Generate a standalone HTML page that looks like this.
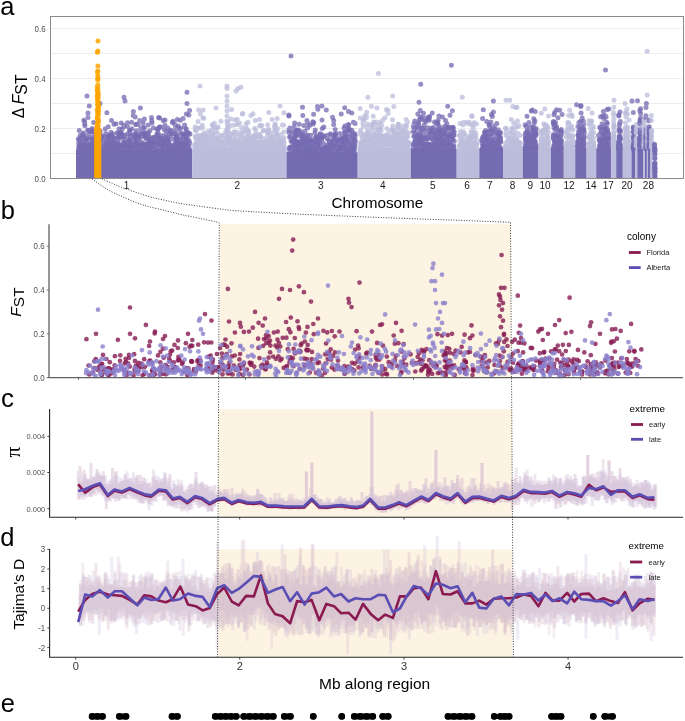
<!DOCTYPE html>
<html><head><meta charset="utf-8"><title>Figure</title>
<style>html,body{margin:0;padding:0;background:#fff;width:685px;height:721px;overflow:hidden}svg{display:block}</style>
</head><body>
<svg width="685" height="721" viewBox="0 0 685 721" font-family="'Liberation Sans', sans-serif">
<line x1="50.5" x2="683.5" y1="153.5" y2="153.5" stroke="#ebebeb" stroke-width="0.9"/>
<line x1="50.5" x2="683.5" y1="128.5" y2="128.5" stroke="#ebebeb" stroke-width="0.9"/>
<line x1="50.5" x2="683.5" y1="103.5" y2="103.5" stroke="#ebebeb" stroke-width="0.9"/>
<line x1="50.5" x2="683.5" y1="78.5" y2="78.5" stroke="#ebebeb" stroke-width="0.9"/>
<line x1="50.5" x2="683.5" y1="53.5" y2="53.5" stroke="#ebebeb" stroke-width="0.9"/>
<line x1="50.5" x2="683.5" y1="28.5" y2="28.5" stroke="#ebebeb" stroke-width="0.9"/>
<rect x="76.0" y="150.0" width="116.3" height="28.5" fill="#756bb1"/>
<path d="M164.3 129.6h0M158.6 117.6h0M145.9 134.5h0M94.6 149.2h0M162.5 147.4h0M97.4 148.9h0M144.3 133.2h0M108.0 137.7h0M126.6 148.0h0M169.7 130.8h0M88.5 147.6h0M100.6 147.2h0M184.0 146.9h0M84.8 123.8h0M103.4 147.1h0M179.5 146.3h0M109.7 145.4h0M118.7 132.3h0M137.9 136.1h0M155.6 141.9h0M130.4 144.7h0M161.3 138.3h0M180.8 147.9h0M156.2 147.4h0M157.9 150.1h0M121.2 133.9h0M140.4 108.0h0M158.3 133.5h0M119.1 128.7h0M89.8 149.0h0M139.8 150.6h0M169.4 134.3h0M144.2 145.5h0M180.6 143.4h0M123.9 125.2h0M148.1 145.9h0M96.8 145.9h0M143.2 123.0h0M111.8 139.5h0M102.3 150.0h0M135.5 137.7h0M150.3 146.1h0M174.4 150.3h0M151.8 145.8h0M187.7 144.3h0M140.0 131.5h0M82.7 135.3h0M95.1 145.0h0M87.0 96.0h0M83.4 133.0h0M123.5 144.9h0M130.3 146.0h0M175.7 144.5h0M133.2 115.6h0M102.3 135.9h0M179.6 144.5h0M100.9 145.6h0M135.0 136.1h0M92.7 145.8h0M112.2 146.0h0M108.6 145.4h0M180.0 146.4h0M151.0 144.3h0M160.8 149.2h0M144.7 137.2h0M136.3 130.8h0M123.8 126.5h0M114.3 144.1h0M141.8 148.2h0M153.4 128.1h0M135.2 117.0h0M119.9 148.8h0M162.4 150.7h0M99.2 130.8h0M92.9 141.5h0M160.2 139.3h0M78.8 146.1h0M174.7 144.5h0M116.0 123.8h0M111.5 135.8h0M139.7 146.4h0M105.0 143.8h0M85.7 144.7h0M177.2 144.8h0M123.5 144.6h0M177.3 119.5h0M100.9 144.7h0M158.4 128.6h0M112.1 139.5h0M131.9 128.7h0M134.9 146.5h0M163.6 139.9h0M135.2 143.3h0M83.2 137.9h0M149.3 146.0h0M118.9 131.3h0M86.7 148.9h0M129.1 150.8h0M93.4 149.9h0M121.4 146.6h0M158.2 137.2h0M147.6 144.2h0M149.4 147.7h0M115.4 149.2h0M143.4 147.5h0M111.0 148.0h0M133.4 111.5h0M183.2 146.7h0M90.9 132.1h0M186.4 114.0h0M164.0 141.6h0M180.8 128.2h0M176.3 137.6h0M188.0 145.0h0M78.3 139.1h0M122.8 146.1h0M148.9 147.2h0M153.9 141.5h0M154.7 137.8h0M108.8 144.3h0M121.6 146.5h0M82.1 149.0h0M126.9 148.2h0M187.0 139.6h0M138.8 149.5h0M169.1 148.2h0M115.1 144.0h0M148.3 125.1h0M84.7 121.7h0M167.9 139.9h0M129.9 140.1h0M100.7 140.4h0M116.9 144.4h0M149.4 149.8h0M146.9 133.2h0M96.3 151.1h0M153.9 142.0h0M92.5 139.2h0M82.9 149.6h0M136.3 143.0h0M127.9 143.9h0M178.6 149.6h0M90.8 145.2h0M115.3 147.8h0M163.2 120.4h0M169.0 134.1h0M143.0 127.5h0M165.6 148.7h0M114.0 147.9h0M122.1 146.0h0M83.5 148.3h0M181.4 150.5h0M87.4 144.9h0M165.8 144.3h0M83.9 137.6h0M179.9 145.6h0M145.8 145.2h0M118.3 136.8h0M160.7 146.3h0M104.0 145.9h0M84.9 143.9h0M134.7 134.8h0M122.8 136.5h0M125.9 142.5h0M142.1 150.3h0M96.8 144.3h0M85.4 149.2h0M156.3 144.7h0M141.9 133.9h0M172.4 122.5h0M80.5 146.0h0M160.5 150.1h0M162.1 140.7h0M144.2 144.4h0M175.4 134.0h0M156.8 151.0h0M143.0 149.0h0M140.8 128.2h0" stroke="#756bb1" stroke-width="5.00" stroke-linecap="round" fill="none" stroke-opacity="0.76"/><path d="M111.4 147.7h0M175.2 147.8h0M175.8 142.0h0M179.3 148.0h0M171.4 145.6h0M147.2 137.9h0M183.3 134.8h0M85.1 148.3h0M136.8 142.2h0M154.0 143.1h0M161.6 144.7h0M112.4 148.7h0M129.7 130.3h0M94.0 147.5h0M127.5 122.7h0M105.9 145.9h0M167.4 138.1h0M99.6 150.6h0M117.1 132.9h0M186.0 130.8h0M126.3 147.1h0M171.1 148.5h0M176.0 149.8h0M136.7 138.3h0M180.4 140.9h0M173.0 121.2h0M93.5 146.4h0M123.6 145.3h0M86.6 147.4h0M168.0 145.6h0M156.8 133.9h0M89.1 131.6h0M162.7 146.6h0M135.8 135.9h0M146.4 137.0h0M82.2 146.0h0M159.6 118.1h0M106.1 147.2h0M120.2 147.1h0M180.2 139.3h0M178.5 147.0h0M184.6 124.9h0M169.1 150.8h0M110.1 149.2h0M119.9 146.0h0M135.4 133.7h0M151.5 117.4h0M89.1 147.7h0M163.2 140.7h0M131.3 150.5h0M80.2 135.6h0M168.0 146.9h0M148.6 148.0h0M172.5 149.3h0M145.5 147.0h0M81.2 144.1h0M176.7 135.5h0M130.6 142.9h0M177.4 149.6h0M111.0 132.3h0M188.2 135.5h0M164.9 125.2h0M183.7 147.7h0M142.4 144.3h0M143.9 132.1h0M189.5 142.4h0M145.9 148.9h0M96.4 150.6h0M98.9 147.0h0M121.2 122.9h0M98.8 149.2h0M102.1 137.5h0M118.0 141.8h0M152.3 144.7h0M185.9 148.8h0M149.7 142.2h0M106.5 150.1h0M189.1 149.7h0M149.8 130.8h0M93.9 145.0h0M138.7 144.7h0M140.8 150.9h0M141.7 144.7h0M86.7 139.0h0M120.1 148.1h0M109.4 141.7h0M177.6 140.1h0M165.1 137.3h0M146.5 139.2h0M185.9 140.4h0M87.6 130.3h0M111.8 141.3h0M114.6 138.3h0M180.5 132.9h0M92.9 147.1h0M84.1 146.6h0M99.8 148.7h0M110.4 144.7h0M184.6 126.7h0M121.6 133.4h0M124.2 148.9h0M133.1 148.0h0M162.7 149.6h0M120.7 145.2h0M78.9 149.8h0M106.7 134.6h0M125.1 135.3h0M128.4 147.2h0M157.7 138.3h0M112.5 144.8h0M176.2 141.8h0M141.3 144.9h0M90.9 137.1h0M128.9 150.4h0M123.3 146.6h0M173.0 133.7h0M162.2 135.7h0M108.4 145.9h0M78.7 150.2h0M119.5 145.0h0M144.5 127.7h0M83.0 134.4h0M95.5 142.1h0M84.9 125.7h0M187.0 148.0h0M150.0 139.4h0M106.9 112.8h0M142.2 145.3h0M127.2 144.3h0M136.5 148.7h0M95.4 147.5h0M187.0 103.5h0M105.8 133.4h0M79.3 130.5h0M120.5 149.3h0M177.1 139.6h0M124.3 136.4h0M127.5 126.5h0M124.2 142.1h0M184.7 142.5h0M140.1 144.0h0M138.6 139.5h0M128.0 147.5h0M181.4 146.9h0M190.0 134.1h0M129.5 147.5h0M116.3 144.1h0M126.1 146.2h0M129.2 145.3h0M83.0 144.4h0M186.9 142.4h0M159.3 144.3h0M88.6 148.2h0M82.0 149.8h0M98.4 151.6h0M119.7 146.9h0M89.6 145.9h0M152.2 147.2h0M189.7 143.3h0M95.1 137.2h0M130.7 146.6h0M136.8 149.8h0M130.4 136.1h0M178.3 125.9h0M129.4 146.9h0M114.8 146.7h0M161.9 140.0h0M130.9 150.0h0M169.3 140.9h0M149.8 141.5h0M92.2 128.5h0M115.4 145.6h0M144.1 144.1h0M162.9 135.8h0M97.6 146.3h0M168.6 149.0h0M113.8 143.1h0M160.6 126.9h0" stroke="#756bb1" stroke-width="5.00" stroke-linecap="round" fill="none" stroke-opacity="0.76"/><path d="M82.6 142.4h0M145.1 147.6h0M87.4 142.6h0M125.0 101.0h0M157.2 129.0h0M172.2 146.4h0M134.0 137.6h0M148.5 134.1h0M81.2 150.3h0M142.3 136.1h0M152.3 142.7h0M172.7 146.1h0M178.2 138.7h0M148.6 148.7h0M106.6 150.7h0M185.6 136.2h0M94.5 149.1h0M122.4 146.0h0M163.2 144.2h0M91.3 145.4h0M121.6 134.9h0M188.8 133.4h0M97.7 150.6h0M120.7 146.3h0M83.2 150.6h0M109.8 135.2h0M146.8 137.4h0M93.0 146.9h0M94.8 139.6h0M146.4 148.0h0M113.0 134.0h0M184.5 145.2h0M120.8 134.1h0M92.0 132.1h0M106.3 142.2h0M180.9 147.4h0M148.4 132.6h0M167.6 139.8h0M108.0 136.6h0M88.0 112.9h0M174.0 139.2h0M168.1 137.4h0M162.8 147.1h0M92.3 142.0h0M150.6 144.4h0M153.4 147.1h0M168.2 150.1h0M141.3 134.4h0M175.0 145.5h0M107.5 138.8h0M93.8 145.4h0M183.3 147.0h0M112.5 142.4h0M182.6 141.5h0M181.3 148.3h0M170.6 136.8h0M89.3 106.1h0M128.5 139.1h0M169.6 150.1h0M101.4 140.6h0M159.6 142.8h0M152.0 122.9h0M99.9 134.4h0M160.3 145.2h0M135.7 124.5h0M104.7 137.0h0M139.5 137.4h0M128.3 149.9h0M102.3 148.3h0M163.3 148.0h0M111.5 120.4h0M153.4 145.6h0M105.0 142.0h0M143.9 144.8h0M103.6 138.0h0M99.8 147.3h0M169.5 145.3h0M87.3 146.4h0M180.6 139.3h0M127.5 133.9h0M180.9 146.0h0M79.6 141.2h0M155.0 145.3h0M171.1 132.8h0M178.6 139.8h0M95.0 150.3h0M122.1 129.3h0M104.4 149.2h0M99.8 150.9h0M171.8 130.4h0M158.9 142.1h0M139.7 138.1h0M92.7 149.6h0M135.0 148.3h0M147.5 144.4h0M163.7 140.9h0M87.2 146.8h0M124.4 139.1h0M162.8 144.9h0M139.2 148.1h0M139.7 120.6h0M188.9 115.0h0M178.5 143.6h0M118.6 136.9h0M96.7 148.5h0M136.6 150.8h0M149.6 140.3h0M136.5 145.7h0M141.4 150.2h0M182.9 139.9h0M81.9 149.3h0M151.8 142.9h0M130.7 148.8h0M188.9 140.6h0M117.8 147.7h0M99.0 134.0h0M183.4 150.2h0M151.7 138.1h0M189.7 150.0h0M92.0 148.8h0M136.2 141.2h0M100.9 147.5h0M130.5 145.2h0M184.9 148.8h0M131.4 149.7h0M113.2 148.7h0M88.0 140.3h0M106.9 144.9h0M184.3 141.3h0M89.0 148.0h0M78.7 142.9h0M169.4 145.9h0M109.3 144.1h0M110.0 134.9h0M119.6 145.7h0M86.9 145.5h0M138.4 144.3h0M163.8 142.8h0M93.8 150.5h0M177.3 136.8h0M144.8 145.3h0M156.0 148.0h0M93.0 143.6h0M184.2 134.6h0M85.2 143.5h0M145.1 135.8h0M83.9 145.6h0M177.1 149.8h0M85.9 142.3h0M105.9 139.5h0M127.2 144.5h0M78.8 148.5h0M92.5 139.0h0M88.0 117.5h0M166.9 139.2h0M81.6 146.4h0M181.5 147.7h0M120.4 136.7h0M96.3 139.4h0M170.4 146.7h0M183.9 147.4h0M115.3 144.2h0M100.4 147.4h0M175.2 147.5h0M113.3 144.0h0M95.5 150.8h0M92.4 131.1h0M109.4 150.1h0M108.4 144.1h0M157.2 144.0h0M159.4 127.0h0M114.4 145.5h0M163.6 140.9h0M114.8 138.4h0M161.0 150.9h0M118.8 135.8h0M113.0 149.0h0M170.1 145.7h0" stroke="#756bb1" stroke-width="5.00" stroke-linecap="round" fill="none" stroke-opacity="0.76"/><path d="M148.6 150.5h0M166.9 145.3h0M90.1 146.0h0M99.6 151.4h0M101.1 149.5h0M158.2 135.6h0M180.6 120.3h0M131.8 141.9h0M146.4 144.5h0M88.5 130.3h0M149.9 146.4h0M159.9 138.0h0M80.6 146.7h0M133.8 144.6h0M118.1 144.1h0M183.1 118.6h0M178.9 128.6h0M173.2 148.0h0M159.0 143.2h0M98.9 146.4h0M89.6 144.2h0M112.1 137.1h0M162.4 141.3h0M83.8 120.3h0M135.7 136.5h0M108.2 126.8h0M176.7 141.3h0M186.4 133.8h0M106.5 140.5h0M81.6 138.5h0M189.0 146.8h0M152.2 145.4h0M115.8 148.4h0M129.7 130.7h0M147.8 136.7h0M113.0 146.0h0M95.8 144.1h0M116.1 145.6h0M119.8 138.6h0M114.9 144.3h0M82.5 136.7h0M144.2 144.8h0M174.7 124.3h0M174.7 148.1h0M85.6 139.8h0M92.2 150.9h0M102.3 146.2h0M124.3 144.9h0M130.2 144.3h0M130.9 133.9h0M138.2 124.4h0M106.5 142.8h0M151.7 120.8h0M105.3 128.7h0M167.9 128.1h0M145.1 134.8h0M130.3 146.7h0M183.1 144.7h0M79.7 138.8h0M132.7 146.4h0M139.4 136.3h0M99.1 146.5h0M183.9 137.1h0M167.4 143.1h0M187.0 92.2h0M168.9 145.9h0M97.4 135.2h0M168.4 142.5h0M186.7 150.5h0M111.8 142.8h0M91.6 129.9h0M100.3 141.1h0M169.7 149.6h0M145.6 150.0h0M108.6 136.3h0M173.7 146.2h0M186.2 128.7h0M142.9 148.8h0M181.9 133.7h0M94.7 133.9h0M144.4 119.1h0M124.0 97.2h0M171.0 146.6h0M96.2 148.9h0M136.8 135.3h0M189.2 149.9h0M87.7 137.5h0M167.4 131.4h0M146.7 147.4h0M131.6 122.3h0M92.8 146.3h0M116.7 142.7h0M146.6 148.8h0M153.6 137.2h0M166.2 131.4h0M154.1 150.3h0M114.4 147.5h0M160.0 150.8h0M175.9 130.5h0M98.3 147.8h0M187.9 132.6h0M85.3 147.2h0M99.2 150.3h0M186.5 150.9h0M100.3 131.3h0M86.4 149.3h0M135.6 140.8h0M93.1 139.1h0M141.9 142.5h0M79.8 141.3h0M128.9 147.5h0M82.2 144.9h0M166.2 132.5h0M83.9 148.7h0M109.7 140.7h0M102.2 150.3h0M165.1 137.2h0M119.9 147.0h0M143.3 133.7h0M114.0 124.3h0M89.1 146.7h0M93.2 140.7h0M123.7 147.4h0M135.9 145.1h0M178.1 144.1h0M155.1 140.9h0M100.0 103.5h0M130.7 147.2h0M93.6 122.5h0M86.1 147.5h0M162.2 149.0h0M163.0 149.6h0M182.8 150.9h0M175.7 126.5h0M129.3 140.7h0M161.2 142.5h0M134.1 138.3h0M100.4 148.1h0M162.4 143.5h0M84.2 138.8h0M107.9 144.9h0M106.6 146.1h0M87.5 135.6h0M176.4 146.7h0M148.5 136.4h0M178.0 150.9h0M182.0 134.8h0M149.3 140.9h0M157.8 129.7h0M175.9 137.7h0M165.0 120.1h0M102.5 150.3h0M189.6 110.6h0M108.0 149.5h0M176.9 148.3h0M81.1 144.9h0M110.3 148.4h0M123.2 143.1h0M141.6 142.3h0M114.4 142.7h0M120.1 145.4h0M163.0 142.8h0M158.0 150.8h0M136.6 124.3h0M186.5 145.1h0M86.9 148.7h0M79.7 146.8h0M102.8 150.4h0M176.4 136.4h0M106.0 146.1h0M120.3 133.0h0M85.7 146.1h0M90.2 146.1h0M117.2 148.1h0M185.7 137.7h0M142.5 146.4h0M157.3 135.5h0" stroke="#756bb1" stroke-width="5.00" stroke-linecap="round" fill="none" stroke-opacity="0.76"/>
<rect x="192.3" y="147.8" width="94.2" height="30.8" fill="#bcbddc"/>
<path d="M222.6 136.1h0M273.2 139.1h0M203.4 136.8h0M283.4 148.1h0M237.3 144.7h0M235.0 119.7h0M214.1 141.9h0M218.5 142.7h0M195.3 130.2h0M204.5 137.8h0M233.1 148.1h0M234.9 141.9h0M241.1 148.0h0M221.2 141.7h0M231.8 145.3h0M198.0 143.3h0M202.4 125.2h0M255.6 137.0h0M271.4 141.4h0M270.9 140.0h0M239.1 144.2h0M238.7 148.1h0M271.7 143.9h0M200.5 113.9h0M212.6 146.6h0M258.7 135.2h0M258.0 144.0h0M242.0 138.3h0M253.1 139.6h0M261.4 147.1h0M238.1 145.6h0M199.0 148.4h0M277.2 118.4h0M239.6 140.8h0M257.8 145.4h0M211.0 130.4h0M230.7 137.9h0M284.0 141.6h0M233.1 136.7h0M227.3 137.8h0M275.4 139.7h0M200.5 145.7h0M257.7 147.1h0M204.9 142.6h0M213.5 142.9h0M207.9 131.9h0M256.2 134.4h0M273.2 141.1h0M248.0 147.3h0M198.2 127.9h0M205.5 147.4h0M215.1 148.7h0M254.0 148.2h0M223.6 147.2h0M203.2 138.8h0M235.8 144.3h0M195.8 138.1h0M273.9 143.0h0M234.7 147.7h0M221.6 143.9h0M247.9 142.2h0M207.4 131.7h0M254.9 142.3h0M278.5 145.1h0M202.9 117.9h0M204.2 133.0h0M252.5 140.2h0M252.2 143.1h0M217.3 147.4h0M257.8 148.3h0M216.3 138.7h0M253.9 143.0h0M236.3 131.9h0M195.5 136.5h0M205.3 148.4h0M253.2 136.2h0M196.4 144.2h0M246.8 138.6h0M279.1 143.9h0M250.7 144.7h0M263.3 147.6h0M264.4 146.7h0M263.8 147.8h0M240.2 143.1h0M237.8 132.5h0M277.3 136.7h0M259.1 143.2h0M228.4 126.0h0M274.6 127.0h0M258.3 135.1h0M255.3 120.5h0M281.3 144.8h0M269.7 138.0h0M216.2 137.9h0M274.0 145.6h0M205.5 136.1h0M260.7 136.8h0M244.7 147.3h0M276.2 144.3h0M250.4 142.2h0M261.1 144.9h0M212.6 124.7h0M264.6 142.6h0M245.9 126.9h0M240.6 142.9h0M271.5 147.3h0M236.2 142.0h0M278.9 139.5h0M248.5 131.0h0M246.1 123.8h0M218.5 143.4h0M212.6 135.6h0M201.2 142.9h0M212.7 132.4h0M276.6 131.4h0M242.7 143.1h0M267.6 131.0h0M279.7 142.3h0M207.3 139.9h0M267.8 144.0h0M198.0 135.4h0M212.1 145.5h0M200.0 86.0h0M207.3 148.1h0M260.4 144.3h0M233.9 136.0h0M227.0 121.0h0M230.9 119.1h0M242.7 113.6h0M278.4 143.0h0M248.6 141.1h0M202.5 139.2h0M263.2 148.4h0M213.9 127.7h0M225.2 148.5h0M283.2 147.5h0M228.1 129.5h0M238.5 133.3h0M275.9 130.3h0M199.0 138.3h0" stroke="#bcbddc" stroke-width="5.00" stroke-linecap="round" fill="none" stroke-opacity="0.76"/><path d="M225.0 145.6h0M238.1 123.4h0M210.4 147.1h0M213.4 138.0h0M202.3 145.6h0M257.8 137.7h0M219.0 144.7h0M267.3 148.6h0M227.7 132.9h0M284.0 144.3h0M199.1 143.8h0M266.1 141.6h0M249.6 144.1h0M234.4 139.1h0M273.6 146.7h0M195.3 136.7h0M237.3 119.6h0M250.8 141.7h0M241.2 136.4h0M217.4 141.8h0M200.2 140.1h0M253.7 142.1h0M216.8 138.2h0M271.2 145.7h0M277.0 134.0h0M219.6 137.7h0M205.9 140.9h0M223.6 145.7h0M260.4 139.1h0M283.4 145.6h0M228.8 137.1h0M198.1 121.4h0M245.1 144.8h0M273.3 146.9h0M204.5 143.9h0M255.5 130.5h0M281.9 138.6h0M229.5 136.2h0M211.0 136.7h0M205.7 135.2h0M199.9 142.5h0M195.2 127.0h0M257.6 140.4h0M228.2 136.4h0M239.7 148.3h0M268.6 129.3h0M204.1 142.2h0M201.3 135.5h0M226.2 142.2h0M198.7 138.8h0M263.9 146.5h0M234.0 146.9h0M216.7 146.9h0M239.5 123.1h0M253.4 147.2h0M230.9 141.8h0M222.7 144.5h0M260.5 142.7h0M213.2 139.9h0M230.6 125.6h0M237.6 145.8h0M227.8 142.1h0M246.9 145.3h0M261.1 145.2h0M208.2 145.8h0M267.6 134.7h0M283.8 132.0h0M205.7 146.6h0M232.3 147.4h0M262.9 144.4h0M254.5 139.8h0M246.0 140.0h0M242.3 135.5h0M227.0 88.5h0M263.1 145.1h0M232.5 144.1h0M267.9 143.7h0M281.4 145.9h0M256.6 148.2h0M270.3 139.3h0M259.9 134.3h0M200.9 136.9h0M228.6 143.5h0M280.7 148.9h0M264.0 143.3h0M231.9 133.5h0M254.5 135.9h0M210.6 140.8h0M227.0 101.0h0M223.1 144.4h0M196.6 142.3h0M260.8 137.3h0M241.7 142.7h0M240.3 149.0h0M236.0 91.0h0M225.6 141.6h0M214.8 141.4h0M208.0 142.6h0M233.6 125.2h0M263.6 130.7h0M216.3 138.7h0M227.3 123.4h0M280.1 145.9h0M283.9 112.8h0M257.2 146.4h0M240.4 147.2h0M260.4 144.4h0M224.2 148.0h0M260.6 125.6h0M260.5 148.0h0M270.9 143.9h0M205.2 134.7h0M267.2 144.0h0M198.7 110.0h0M209.9 131.7h0M251.0 142.9h0M256.7 138.5h0M197.5 146.1h0M283.8 137.4h0M254.9 144.9h0M194.8 145.4h0M198.5 144.3h0M227.7 122.1h0M215.5 140.0h0M242.4 113.9h0M274.9 125.2h0M246.4 139.7h0M230.1 146.9h0M237.5 145.7h0M212.8 137.7h0M251.8 138.0h0M205.4 142.0h0M269.5 139.5h0M273.2 147.3h0M261.2 148.9h0M248.0 135.7h0M236.4 144.9h0M232.8 140.8h0M266.3 140.0h0M213.4 140.7h0" stroke="#bcbddc" stroke-width="5.00" stroke-linecap="round" fill="none" stroke-opacity="0.76"/><path d="M254.4 148.3h0M244.4 131.6h0M241.3 145.1h0M258.9 149.3h0M243.3 147.6h0M222.8 144.8h0M254.7 128.3h0M201.9 142.5h0M263.0 148.1h0M250.9 141.9h0M235.7 143.1h0M231.6 109.6h0M227.0 86.0h0M224.6 135.2h0M213.6 145.9h0M194.8 144.4h0M221.2 143.4h0M202.4 128.1h0M250.8 148.1h0M264.8 138.6h0M241.7 144.4h0M222.3 143.1h0M245.7 138.7h0M210.6 145.5h0M249.2 142.4h0M258.7 145.0h0M216.7 145.8h0M268.6 131.3h0M241.3 135.1h0M227.0 116.0h0M205.5 137.7h0M213.3 135.0h0M250.9 115.5h0M265.3 146.0h0M209.3 138.5h0M269.9 132.5h0M275.5 129.3h0M234.1 131.7h0M283.7 125.0h0M203.8 118.3h0M202.9 145.4h0M227.1 129.3h0M244.0 142.6h0M258.2 145.7h0M211.0 138.6h0M216.6 145.6h0M266.7 142.9h0M215.5 147.1h0M227.2 135.2h0M281.6 148.4h0M250.4 143.4h0M267.6 124.8h0M214.2 146.0h0M230.2 134.6h0M282.4 125.0h0M208.5 136.4h0M222.1 135.3h0M197.0 144.8h0M244.7 146.4h0M237.3 124.4h0M238.7 136.8h0M272.2 141.9h0M208.3 142.1h0M277.5 128.4h0M209.0 140.6h0M251.5 138.3h0M277.8 143.3h0M269.9 134.0h0M213.8 127.0h0M232.6 144.1h0M223.7 141.9h0M269.3 142.4h0M214.5 147.2h0M243.0 143.7h0M257.0 149.5h0M261.1 149.4h0M260.4 148.0h0M259.5 119.6h0M280.3 148.4h0M281.2 146.1h0M265.4 146.7h0M200.5 136.8h0M264.0 146.5h0M196.8 140.4h0M263.4 130.4h0M238.0 88.5h0M228.2 132.5h0M211.8 142.7h0M251.0 145.8h0M200.9 148.4h0M262.4 143.1h0M270.3 145.9h0M271.8 136.0h0M251.2 146.8h0M226.5 143.5h0M275.2 146.0h0M236.7 135.3h0M270.8 143.5h0M244.1 145.6h0M220.9 121.3h0M237.8 141.9h0M217.8 140.2h0M274.5 144.9h0M208.7 138.7h0M196.3 146.0h0M225.6 144.6h0M237.7 141.0h0M229.4 138.0h0M215.8 131.3h0M222.7 141.9h0M276.4 144.1h0M229.2 140.9h0M198.5 136.5h0M273.2 143.8h0M249.0 134.8h0M247.9 138.0h0M259.7 125.7h0M255.1 147.0h0M194.7 146.1h0M258.0 143.5h0M213.9 147.4h0M250.1 148.6h0M228.1 138.0h0M253.5 148.0h0M282.9 147.2h0M259.0 136.1h0M218.3 148.2h0M216.4 144.5h0M256.4 136.4h0M209.8 143.4h0M200.4 128.0h0M268.5 145.6h0M202.4 136.4h0M261.8 125.4h0M246.7 128.9h0M203.4 141.5h0M214.4 123.3h0M280.8 143.8h0M248.1 122.3h0M218.1 126.9h0" stroke="#bcbddc" stroke-width="5.00" stroke-linecap="round" fill="none" stroke-opacity="0.76"/><path d="M246.2 143.3h0M274.1 131.4h0M259.0 141.9h0M198.5 142.0h0M274.9 144.6h0M196.0 146.5h0M240.0 142.6h0M248.9 146.4h0M204.5 146.3h0M280.6 134.7h0M224.0 148.0h0M276.1 144.5h0M267.9 143.1h0M242.1 130.9h0M253.0 147.5h0M251.6 141.2h0M254.4 135.4h0M239.4 144.9h0M241.6 127.5h0M227.8 144.7h0M272.0 139.4h0M224.7 139.0h0M251.2 143.9h0M280.0 106.1h0M247.4 137.9h0M204.7 145.7h0M199.2 137.1h0M217.3 127.8h0M196.3 130.9h0M238.7 142.8h0M275.2 124.1h0M275.3 145.0h0M280.0 146.2h0M204.9 137.8h0M227.0 111.0h0M279.6 143.3h0M229.0 143.0h0M284.0 146.5h0M275.4 144.5h0M279.5 145.0h0M283.4 139.9h0M243.6 148.1h0M218.1 146.9h0M200.8 136.5h0M248.3 148.3h0M256.8 143.2h0M218.8 138.3h0M278.7 136.0h0M271.7 147.5h0M231.4 142.1h0M241.0 87.2h0M247.1 146.8h0M212.2 141.3h0M216.0 108.0h0M246.2 140.9h0M283.0 139.6h0M259.8 143.2h0M265.1 146.9h0M276.1 142.7h0M263.1 144.2h0M244.1 131.5h0M272.3 136.3h0M210.6 137.4h0M237.6 146.1h0M243.7 145.1h0M251.1 142.7h0M227.5 126.8h0M224.4 142.3h0M277.6 141.7h0M253.0 113.8h0M247.1 146.8h0M236.3 140.9h0M202.6 134.7h0M240.9 141.9h0M199.0 138.5h0M240.1 148.2h0M217.9 142.2h0M204.8 138.6h0M223.4 141.8h0M227.0 106.0h0M258.4 142.7h0M267.8 132.6h0M272.1 119.4h0M237.1 145.7h0M203.1 110.1h0M246.6 138.2h0M226.8 139.7h0M262.1 142.0h0M260.3 149.2h0M267.7 144.5h0M271.8 141.4h0M258.3 146.7h0M196.0 129.0h0M204.1 140.9h0M227.0 96.0h0M274.9 141.3h0M206.6 144.8h0M247.0 136.5h0M262.1 144.0h0M278.3 138.8h0M243.4 146.9h0M277.2 145.3h0M220.3 145.0h0M234.7 140.7h0M230.6 146.7h0M241.1 146.4h0M217.7 133.5h0M273.9 148.4h0M225.6 131.8h0M253.9 140.5h0M283.2 147.7h0M257.0 135.8h0M200.0 147.7h0M250.7 144.5h0M269.1 144.8h0M230.6 141.0h0M254.9 148.3h0M230.9 147.1h0M276.0 135.5h0M248.8 132.1h0M201.4 142.7h0M219.3 141.0h0M196.5 143.5h0M226.9 129.7h0M245.1 146.4h0M211.1 148.7h0M229.7 138.7h0M281.4 147.6h0M214.3 147.0h0M237.6 145.2h0M206.5 142.6h0M241.1 142.6h0M211.6 147.0h0M212.3 125.2h0M282.1 147.7h0M268.8 112.5h0M220.5 143.9h0M235.5 144.5h0M224.2 145.0h0" stroke="#bcbddc" stroke-width="5.00" stroke-linecap="round" fill="none" stroke-opacity="0.76"/>
<rect x="286.5" y="152.2" width="71.2" height="26.2" fill="#756bb1"/>
<path d="M337.8 147.3h0M327.0 148.0h0M322.0 150.7h0M349.3 142.2h0M293.5 147.3h0M301.9 144.4h0M310.9 150.0h0M314.7 141.5h0M335.4 147.5h0M325.2 151.7h0M308.7 149.3h0M296.3 134.4h0M321.5 149.2h0M323.9 153.9h0M351.6 153.1h0M339.9 147.7h0M328.1 145.6h0M316.8 148.9h0M307.6 149.4h0M339.9 147.2h0M319.2 139.8h0M297.6 152.5h0M348.5 149.7h0M330.3 150.2h0M297.0 134.6h0M300.1 131.2h0M352.8 146.4h0M334.9 146.8h0M314.5 151.2h0M328.0 151.4h0M337.3 146.6h0M297.5 143.7h0M320.1 149.4h0M321.3 153.1h0M302.1 151.4h0M304.2 142.9h0M308.8 152.9h0M351.8 142.9h0M312.2 147.1h0M294.4 150.6h0M308.2 149.9h0M297.4 134.4h0M304.7 147.1h0M303.3 145.2h0M338.7 146.9h0M348.5 111.6h0M329.3 151.1h0M309.4 152.4h0M341.8 139.3h0M351.2 144.9h0M322.8 150.4h0M294.3 138.9h0M331.1 152.8h0M326.1 153.1h0M344.4 148.2h0M307.7 143.4h0M338.1 140.3h0M319.9 134.4h0M348.4 149.5h0M290.7 146.9h0M296.4 147.7h0M296.9 130.7h0M301.3 152.9h0M340.8 142.3h0M349.7 137.3h0M302.6 134.4h0M309.6 147.7h0M337.2 149.7h0M341.0 147.7h0M347.3 150.3h0M307.9 141.2h0M353.3 140.2h0M351.1 151.2h0M326.7 147.0h0M347.1 137.6h0M318.5 138.6h0M344.5 137.1h0M324.9 149.4h0M345.0 132.8h0M345.3 141.2h0M349.9 129.7h0M294.6 123.0h0M299.4 148.3h0M313.6 114.3h0M354.3 148.1h0M307.8 151.8h0M310.6 151.6h0M331.9 145.5h0M311.2 139.5h0M319.2 147.6h0M321.3 136.0h0M334.7 138.9h0M313.7 122.6h0M314.5 153.4h0M288.9 116.1h0M347.5 146.9h0M354.8 133.7h0M289.7 151.8h0M293.9 140.5h0M299.8 142.5h0M305.8 150.4h0M294.5 152.1h0M322.1 137.8h0M334.6 152.3h0M342.5 147.0h0M332.9 147.5h0M327.2 149.5h0M289.8 128.0h0M318.1 142.8h0M307.2 150.3h0M288.9 130.0h0M310.9 150.0h0M296.5 146.4h0M305.4 150.2h0M346.7 141.8h0M306.4 151.6h0M296.1 152.9h0M296.3 142.5h0M348.6 124.8h0M293.8 147.7h0" stroke="#756bb1" stroke-width="5.00" stroke-linecap="round" fill="none" stroke-opacity="0.76"/><path d="M344.3 135.2h0M299.4 153.0h0M291.0 56.0h0M304.4 152.4h0M303.4 149.2h0M326.8 147.7h0M294.8 148.7h0M343.1 139.9h0M353.7 147.0h0M327.2 135.3h0M307.6 138.3h0M342.8 145.9h0M346.5 139.8h0M305.9 149.8h0M288.9 115.1h0M341.2 114.1h0M310.8 149.0h0M351.8 113.0h0M327.4 139.1h0M301.9 152.9h0M333.8 145.9h0M313.0 152.2h0M319.2 152.2h0M300.9 144.8h0M327.3 150.9h0M297.2 142.9h0M319.1 149.1h0M316.0 142.7h0M318.9 140.2h0M310.8 155.6h0M289.0 132.4h0M337.1 151.0h0M348.5 152.9h0M297.6 147.2h0M313.5 147.8h0M345.9 150.7h0M304.4 142.6h0M320.0 143.7h0M341.2 146.6h0M355.4 140.6h0M344.9 132.4h0M311.1 155.5h0M292.8 141.1h0M315.8 142.0h0M311.1 153.1h0M349.9 152.0h0M348.3 124.8h0M310.5 135.3h0M325.8 148.4h0M345.0 149.2h0M308.2 149.9h0M295.8 151.1h0M311.5 154.4h0M346.6 148.4h0M344.7 107.7h0M355.0 143.1h0M303.0 149.4h0M326.3 110.1h0M334.3 135.1h0M299.6 150.1h0M347.5 140.5h0M299.6 143.1h0M335.2 143.7h0M318.0 149.8h0M316.1 144.6h0M321.2 151.6h0M333.7 124.4h0M352.5 132.7h0M289.0 148.4h0M298.9 143.9h0M315.2 152.7h0M331.2 146.0h0M307.2 142.1h0M340.2 148.5h0M325.9 151.5h0M319.6 154.4h0M337.6 140.6h0M314.8 145.6h0M322.0 119.9h0M345.6 135.4h0M327.8 148.4h0M312.4 153.4h0M304.9 142.4h0M329.7 141.6h0M347.8 130.5h0M316.8 146.4h0M311.6 140.9h0M289.6 147.4h0M329.5 147.0h0M350.9 144.8h0M322.3 128.5h0M330.1 149.9h0M354.4 150.1h0M350.7 150.6h0M289.6 137.0h0M305.3 147.7h0M330.3 149.3h0M314.9 133.0h0M333.7 120.4h0M332.8 135.5h0M323.3 149.5h0M307.4 141.4h0M345.0 126.1h0M329.1 150.1h0M291.0 140.4h0M298.2 151.7h0M346.9 125.4h0M324.2 147.7h0M343.0 145.8h0M309.5 153.1h0M297.3 130.3h0M346.3 149.1h0M315.6 138.1h0M294.4 144.8h0M305.3 140.2h0M302.8 138.8h0M296.5 149.6h0M329.7 135.5h0M309.3 143.2h0M311.7 149.4h0" stroke="#756bb1" stroke-width="5.00" stroke-linecap="round" fill="none" stroke-opacity="0.76"/><path d="M312.9 151.3h0M344.9 145.7h0M323.9 127.0h0M306.0 145.9h0M353.4 122.3h0M305.6 143.3h0M331.7 140.9h0M344.8 130.7h0M307.3 148.2h0M300.0 144.8h0M349.6 149.7h0M300.8 141.0h0M329.8 151.7h0M344.0 128.0h0M311.1 149.7h0M344.0 146.1h0M310.3 150.6h0M325.5 149.6h0M351.2 145.7h0M324.3 144.3h0M327.7 149.9h0M337.8 142.5h0M313.0 124.0h0M307.7 122.9h0M297.7 142.7h0M334.3 145.9h0M355.2 135.5h0M349.3 150.2h0M298.0 135.8h0M347.2 151.4h0M316.1 152.9h0M341.2 137.9h0M311.7 145.4h0M355.1 123.4h0M306.5 147.3h0M308.7 139.2h0M314.3 151.0h0M318.2 148.1h0M306.5 149.9h0M322.0 106.0h0M310.0 152.5h0M313.2 141.3h0M296.9 143.2h0M299.1 152.9h0M304.4 152.3h0M293.3 139.9h0M298.3 130.0h0M290.5 136.7h0M342.9 149.6h0M296.0 130.8h0M306.8 151.5h0M344.1 141.3h0M306.0 136.3h0M306.9 120.5h0M308.8 152.8h0M343.9 141.5h0M327.2 146.9h0M335.5 133.7h0M335.9 137.2h0M312.6 141.8h0M325.5 151.8h0M349.5 134.0h0M303.8 139.8h0M317.9 109.3h0M337.2 138.3h0M352.4 148.9h0M303.9 145.5h0M308.7 152.0h0M306.5 148.9h0M341.6 145.4h0M348.8 151.5h0M317.6 142.9h0M298.7 153.1h0M328.5 151.8h0M328.8 152.0h0M308.5 152.3h0M348.4 129.1h0M339.0 147.6h0M312.6 151.2h0M339.8 151.2h0M321.4 137.0h0M310.5 151.4h0M298.6 152.0h0M320.1 137.4h0M299.2 124.3h0M322.1 149.1h0M302.0 152.8h0M313.9 141.9h0M324.2 136.4h0M324.2 148.6h0M328.9 140.6h0M293.2 134.2h0M346.0 137.0h0M301.9 135.3h0M300.0 141.5h0M325.6 149.6h0M315.9 136.9h0M329.1 143.9h0M337.8 141.2h0M307.6 128.0h0M330.6 142.6h0M294.7 150.7h0M294.0 142.1h0M327.8 147.4h0M294.2 126.8h0M330.5 133.8h0M297.9 151.7h0M322.9 143.0h0M301.8 143.0h0M351.8 151.2h0M354.5 137.0h0M294.4 138.6h0M302.8 115.5h0M310.0 140.7h0M310.4 152.8h0M295.5 147.1h0M342.3 142.3h0M305.6 137.8h0M317.5 106.5h0M309.6 150.8h0" stroke="#756bb1" stroke-width="5.00" stroke-linecap="round" fill="none" stroke-opacity="0.76"/><path d="M295.5 150.0h0M354.6 141.8h0M309.6 148.1h0M301.0 133.6h0M323.0 135.4h0M310.3 149.9h0M304.7 131.3h0M341.4 139.2h0M332.0 144.2h0M348.9 129.4h0M309.0 147.2h0M294.1 153.2h0M339.2 146.5h0M301.8 137.4h0M333.3 139.8h0M347.8 142.6h0M346.7 140.3h0M305.4 148.0h0M297.1 144.3h0M292.9 131.5h0M333.1 148.4h0M292.8 142.5h0M302.2 151.8h0M300.6 143.2h0M314.4 144.4h0M326.9 150.5h0M332.5 146.0h0M291.7 152.9h0M301.7 152.3h0M296.5 140.9h0M335.2 129.5h0M315.5 153.7h0M302.4 150.3h0M352.0 136.7h0M347.3 146.3h0M314.4 154.8h0M354.1 137.5h0M332.8 145.0h0M295.7 134.7h0M307.5 134.9h0M347.6 144.6h0M321.2 133.9h0M318.1 148.7h0M310.2 149.4h0M347.3 143.3h0M322.3 152.8h0M313.6 149.6h0M312.9 143.4h0M342.7 141.8h0M293.1 149.7h0M291.9 142.1h0M343.1 151.4h0M310.0 125.3h0M324.8 148.5h0M322.1 151.9h0M332.5 149.0h0M352.2 146.3h0M298.9 146.3h0M335.9 151.4h0M306.8 150.6h0M321.7 135.9h0M316.7 147.2h0M328.4 148.7h0M293.1 145.0h0M294.5 137.8h0M324.9 149.9h0M304.0 138.7h0M353.9 150.9h0M331.4 149.0h0M314.8 153.0h0M351.9 130.3h0M312.8 121.7h0M295.5 152.0h0M352.0 140.2h0M331.8 153.0h0M318.3 148.4h0M290.1 148.1h0M316.2 155.1h0M293.0 146.7h0M294.0 142.7h0M336.1 141.4h0M307.0 148.7h0M317.3 146.4h0M342.7 151.2h0M348.9 149.9h0M321.7 139.3h0M355.0 145.7h0M320.3 133.7h0M340.1 151.1h0M303.0 152.4h0M316.8 154.0h0M333.7 148.7h0M303.9 125.6h0M311.9 142.3h0M334.2 137.4h0M304.3 152.8h0M316.9 136.7h0M332.5 117.3h0M321.2 151.6h0M335.5 134.0h0M353.9 143.9h0M311.8 151.5h0M314.7 149.9h0M315.2 129.9h0M344.2 150.9h0M350.0 152.9h0M302.5 107.2h0M346.0 139.7h0M304.8 151.3h0M320.4 138.8h0M353.0 142.6h0M298.9 149.2h0M347.7 151.2h0M344.2 146.6h0M339.9 133.5h0M354.1 143.4h0M308.1 146.4h0M330.0 147.0h0M319.4 147.2h0" stroke="#756bb1" stroke-width="5.00" stroke-linecap="round" fill="none" stroke-opacity="0.76"/>
<rect x="357.7" y="147.8" width="53.1" height="30.8" fill="#bcbddc"/>
<path d="M362.1 136.1h0M376.5 135.7h0M402.7 134.4h0M366.5 143.2h0M408.0 145.5h0M394.2 136.3h0M406.6 145.8h0M370.3 136.7h0M363.1 146.2h0M368.3 143.1h0M397.3 139.1h0M383.0 146.4h0M367.8 146.8h0M366.8 138.3h0M392.5 119.8h0M370.0 137.1h0M397.2 143.0h0M375.2 144.0h0M401.1 147.0h0M370.6 144.6h0M371.0 138.8h0M388.0 110.4h0M378.0 138.9h0M360.1 132.5h0M371.8 129.1h0M392.9 147.5h0M393.9 130.6h0M381.2 148.1h0M372.8 145.5h0M381.1 142.2h0M395.5 144.3h0M394.1 143.9h0M381.8 125.5h0M388.8 143.1h0M378.9 142.8h0M408.5 142.4h0M399.3 126.3h0M368.9 142.5h0M408.5 132.8h0M363.5 146.4h0M362.0 148.4h0M368.1 135.1h0M363.2 126.2h0M374.9 146.4h0M360.5 134.3h0M403.5 145.9h0M368.2 134.7h0M367.1 131.6h0M367.9 97.2h0M373.4 142.0h0M383.1 141.0h0M364.5 144.6h0M364.1 144.4h0M385.6 145.2h0M388.1 113.4h0M404.1 145.7h0M360.3 118.0h0M371.6 143.6h0M393.4 142.0h0M403.4 133.6h0M397.8 127.1h0M385.0 117.8h0M396.2 134.2h0M370.2 144.8h0M402.4 135.5h0M403.7 137.1h0M386.3 135.2h0M379.8 125.9h0M374.8 144.9h0M398.0 135.1h0M401.2 128.7h0M376.9 108.1h0M373.7 122.0h0M363.5 140.9h0M380.9 124.1h0M363.3 135.6h0M390.8 142.6h0M394.9 146.2h0M379.4 147.1h0M364.7 115.8h0M375.5 143.3h0M407.6 141.9h0M407.1 134.8h0M371.4 106.2h0" stroke="#bcbddc" stroke-width="5.00" stroke-linecap="round" fill="none" stroke-opacity="0.76"/><path d="M398.4 127.7h0M397.4 126.9h0M401.2 144.6h0M393.9 145.8h0M378.9 132.1h0M362.9 122.9h0M403.5 129.9h0M403.6 138.5h0M403.5 142.1h0M368.2 141.7h0M385.5 138.5h0M392.6 126.0h0M378.5 137.4h0M402.0 134.8h0M386.1 138.3h0M362.1 137.9h0M400.2 145.1h0M405.8 138.3h0M383.7 141.2h0M386.3 137.9h0M367.7 140.0h0M392.7 96.0h0M385.2 137.0h0M395.5 132.3h0M363.1 137.0h0M367.0 127.2h0M363.1 144.4h0M371.8 146.5h0M400.6 133.1h0M386.5 144.0h0M376.1 136.9h0M391.5 137.8h0M395.1 141.7h0M404.2 137.2h0M382.7 120.2h0M365.4 143.8h0M362.9 143.4h0M360.9 147.9h0M379.5 128.8h0M400.9 139.9h0M376.2 122.0h0M366.4 141.1h0M363.5 142.0h0M400.4 143.5h0M398.4 124.4h0M365.5 138.0h0M360.1 148.3h0M392.3 142.2h0M382.0 135.7h0M370.8 142.9h0M375.5 142.6h0M364.2 144.1h0M373.4 133.9h0M361.5 142.9h0M365.5 144.6h0M407.2 144.1h0M398.6 145.7h0M380.3 137.1h0M390.0 144.0h0M380.2 122.3h0M377.2 148.0h0M370.9 141.9h0M396.8 135.4h0M383.7 145.3h0M395.0 138.7h0M405.2 142.3h0M366.3 147.0h0M372.7 136.2h0M371.9 146.6h0M393.9 106.5h0M382.6 146.9h0M406.2 148.7h0M371.7 135.5h0M363.3 148.7h0M376.5 144.8h0M389.1 136.9h0M371.6 125.3h0M407.2 144.3h0M402.6 132.5h0M396.6 144.8h0M408.4 142.6h0M364.2 119.8h0M392.9 137.7h0M397.2 138.1h0" stroke="#bcbddc" stroke-width="5.00" stroke-linecap="round" fill="none" stroke-opacity="0.76"/><path d="M379.9 142.4h0M404.8 143.4h0M386.4 109.4h0M363.3 134.6h0M392.8 141.8h0M374.9 143.0h0M392.5 143.7h0M392.1 144.3h0M371.6 142.3h0M363.4 145.7h0M407.0 133.9h0M390.2 137.5h0M405.6 140.3h0M366.5 117.5h0M404.6 131.5h0M378.4 73.5h0M369.8 145.1h0M376.3 143.1h0M399.3 136.3h0M362.2 145.3h0M364.8 140.1h0M360.8 130.3h0M396.6 146.3h0M360.8 144.0h0M370.1 147.3h0M371.8 144.7h0M390.4 141.8h0M381.2 130.6h0M392.6 129.9h0M372.5 143.1h0M395.8 134.3h0M403.8 138.1h0M369.2 135.1h0M390.1 131.0h0M368.1 145.7h0M373.2 116.2h0M407.5 122.0h0M403.9 144.4h0M406.1 119.5h0M387.7 136.5h0M397.2 136.5h0M366.0 142.4h0M389.1 143.6h0M408.2 144.7h0M407.8 136.7h0M366.5 116.5h0M394.3 143.8h0M367.0 138.6h0M399.1 131.7h0M406.2 125.4h0M360.2 108.4h0M369.5 131.7h0M367.7 124.1h0M360.3 143.5h0M377.3 147.0h0M378.4 129.4h0M392.2 143.7h0M362.9 147.8h0M363.2 119.8h0M393.7 132.9h0M381.5 135.8h0M398.2 124.2h0M367.4 133.5h0M389.7 144.8h0M387.0 128.8h0M378.1 143.3h0M369.6 144.0h0M394.4 137.8h0M369.7 141.8h0M371.1 125.1h0M367.4 143.5h0M363.9 144.2h0M394.1 138.2h0M373.0 135.5h0M400.2 132.8h0M387.1 138.0h0M396.8 144.4h0M377.1 144.3h0M398.6 147.1h0M393.5 142.4h0M401.5 142.1h0M397.3 144.8h0M390.7 145.2h0M376.6 137.0h0" stroke="#bcbddc" stroke-width="5.00" stroke-linecap="round" fill="none" stroke-opacity="0.76"/><path d="M374.0 143.7h0M383.8 140.4h0M362.9 144.4h0M404.9 142.9h0M391.1 143.7h0M370.7 142.0h0M401.7 141.9h0M399.1 135.5h0M397.6 140.4h0M403.8 125.7h0M407.4 142.3h0M385.4 135.7h0M373.2 143.0h0M390.1 146.2h0M394.2 132.8h0M380.3 142.8h0M386.3 142.9h0M361.8 142.5h0M376.4 132.9h0M374.1 124.0h0M366.7 112.3h0M406.5 136.9h0M396.3 147.8h0M400.6 143.5h0M400.5 145.1h0M364.0 143.8h0M361.0 146.4h0M390.8 140.6h0M382.1 144.0h0M374.3 145.2h0M366.7 136.5h0M405.7 130.1h0M360.2 147.6h0M362.9 142.8h0M385.6 142.2h0M361.1 142.3h0M373.4 144.1h0M398.5 124.7h0M398.8 146.2h0M371.8 138.6h0M379.3 138.6h0M374.5 144.0h0M375.6 124.7h0M389.8 138.1h0M376.0 144.1h0M373.9 142.0h0M407.8 145.2h0M376.4 148.1h0M386.4 142.2h0M404.4 142.5h0M406.3 126.0h0M403.0 146.7h0M380.3 128.4h0M380.6 142.8h0M407.5 148.3h0M397.5 144.9h0M396.4 148.3h0M371.0 140.5h0M406.9 147.1h0M367.7 142.7h0M392.4 129.6h0M376.2 133.7h0M402.6 144.7h0M378.3 142.6h0M388.2 145.9h0M375.3 132.4h0M363.4 146.5h0M406.7 148.2h0M387.6 134.1h0M374.9 128.0h0M362.0 143.7h0M388.3 137.5h0M399.9 136.2h0M375.9 137.5h0M380.9 138.3h0M377.3 142.9h0M401.0 144.3h0M376.7 134.9h0M406.0 138.2h0M390.6 136.2h0M406.7 142.9h0M380.0 135.0h0M399.8 143.0h0M362.8 146.6h0" stroke="#bcbddc" stroke-width="5.00" stroke-linecap="round" fill="none" stroke-opacity="0.76"/>
<rect x="410.8" y="148.5" width="45.9" height="30.0" fill="#756bb1"/>
<path d="M434.4 131.2h0M415.8 143.5h0M423.2 139.2h0M434.9 148.9h0M425.9 143.3h0M426.9 146.8h0M423.5 139.3h0M445.9 127.3h0M422.4 136.8h0M422.0 147.8h0M437.8 123.7h0M426.1 139.8h0M432.7 129.7h0M419.7 134.9h0M420.4 132.6h0M435.6 136.3h0M429.4 148.1h0M420.3 110.6h0M419.5 134.0h0M420.2 116.9h0M427.8 145.6h0M416.3 127.0h0M454.2 131.8h0M441.0 146.3h0M439.2 142.7h0M419.7 127.0h0M417.7 148.8h0M423.1 145.0h0M423.7 149.2h0M444.3 139.4h0M447.5 145.0h0M431.2 137.2h0M442.8 145.5h0M439.5 128.1h0M430.6 134.9h0M413.1 131.6h0M419.7 138.0h0M428.2 145.4h0M436.2 123.2h0M431.3 146.8h0M418.5 134.1h0M442.7 127.6h0M446.7 128.4h0M432.1 138.9h0M448.6 137.3h0M435.3 134.7h0M444.2 134.3h0M427.9 145.4h0M437.4 139.5h0M440.3 148.5h0M441.7 138.9h0M414.1 130.8h0M414.8 120.9h0M425.4 136.4h0M414.4 128.8h0M442.5 144.1h0M419.0 102.2h0M422.8 141.7h0M453.0 139.6h0M418.7 122.9h0M439.3 141.2h0M433.9 132.9h0M429.4 116.9h0M451.4 148.2h0M453.3 128.0h0M453.9 146.9h0M427.5 144.1h0M433.2 146.6h0M452.6 146.6h0M432.6 137.0h0M450.7 136.4h0M426.1 121.4h0M433.3 130.8h0M441.0 141.6h0M442.1 131.9h0M423.1 148.0h0M421.7 141.4h0M435.1 147.1h0M444.5 147.1h0M438.9 116.1h0M445.1 126.3h0M436.6 131.2h0M424.3 134.8h0M416.8 135.7h0M444.3 133.8h0M419.7 133.8h0" stroke="#756bb1" stroke-width="5.00" stroke-linecap="round" fill="none" stroke-opacity="0.76"/><path d="M451.0 142.9h0M450.3 134.0h0M421.5 130.1h0M440.5 140.7h0M416.9 128.2h0M439.5 138.8h0M454.1 135.2h0M438.8 142.2h0M421.3 142.0h0M429.4 120.2h0M435.4 135.8h0M439.6 137.8h0M424.6 137.9h0M431.6 146.5h0M429.2 144.5h0M443.6 131.4h0M444.8 144.4h0M452.5 137.5h0M423.3 128.4h0M441.5 130.0h0M448.8 145.2h0M419.3 119.7h0M427.9 127.7h0M440.4 142.7h0M421.1 141.9h0M413.3 126.6h0M417.3 142.6h0M440.7 132.6h0M453.6 145.6h0M442.4 116.9h0M437.5 122.3h0M426.0 144.8h0M435.2 144.8h0M443.3 143.9h0M450.4 144.5h0M417.8 113.9h0M427.9 135.7h0M441.8 134.7h0M433.5 127.6h0M452.9 127.3h0M422.7 142.0h0M437.3 142.6h0M445.7 136.8h0M438.3 147.3h0M452.2 144.8h0M424.5 120.2h0M419.6 143.1h0M421.6 139.4h0M414.1 123.8h0M451.8 131.6h0M416.8 143.1h0M432.2 113.1h0M419.8 129.0h0M445.9 144.5h0M436.7 140.9h0M425.7 144.9h0M454.2 141.2h0M447.7 129.3h0M415.7 146.8h0M434.2 143.8h0M418.0 123.7h0M452.3 142.8h0M423.5 113.2h0M452.4 110.7h0M452.3 136.3h0M433.3 144.6h0M427.7 138.2h0M422.9 117.3h0M425.3 145.2h0M444.7 140.0h0M450.2 133.6h0M445.0 131.7h0M432.1 132.0h0M446.9 140.5h0M437.0 130.9h0M429.2 116.8h0M427.5 128.3h0M442.8 137.6h0M434.2 138.0h0M451.4 148.1h0M437.1 144.6h0M441.4 144.1h0M416.3 145.2h0M438.3 143.7h0M422.6 143.1h0M414.8 141.6h0" stroke="#756bb1" stroke-width="5.00" stroke-linecap="round" fill="none" stroke-opacity="0.76"/><path d="M450.3 137.1h0M450.1 148.7h0M423.2 148.4h0M438.8 135.5h0M444.9 133.5h0M439.6 137.8h0M420.7 142.4h0M420.6 149.1h0M425.9 148.9h0M415.4 140.8h0M440.4 140.3h0M449.2 146.2h0M451.9 137.7h0M431.1 145.8h0M425.5 148.9h0M439.9 130.1h0M445.0 145.1h0M431.9 139.3h0M434.1 133.7h0M432.6 147.3h0M431.2 128.2h0M443.4 147.1h0M429.9 132.4h0M421.4 143.8h0M429.6 148.3h0M434.4 144.5h0M442.4 143.7h0M422.6 144.9h0M418.8 135.9h0M425.6 148.1h0M437.6 129.3h0M438.5 125.4h0M413.6 145.8h0M444.9 141.1h0M422.3 144.9h0M438.3 139.7h0M433.7 142.7h0M445.4 120.3h0M446.1 145.7h0M436.6 142.1h0M451.0 136.3h0M418.1 148.0h0M430.1 144.5h0M420.2 135.5h0M413.3 147.2h0M419.1 143.5h0M434.5 121.9h0M418.5 141.2h0M432.5 146.2h0M449.3 127.4h0M434.1 136.8h0M444.1 145.0h0M452.6 146.2h0M440.0 136.9h0M437.2 133.6h0M441.0 142.9h0M429.7 145.2h0M413.8 147.6h0M435.4 134.7h0M447.7 135.9h0M418.0 136.0h0M448.7 142.6h0M444.6 149.1h0M425.8 144.8h0M427.8 149.5h0M445.1 142.6h0M449.9 141.6h0M417.9 139.6h0M427.3 138.8h0M448.7 148.6h0M427.7 143.9h0M448.0 148.5h0M439.7 136.8h0M436.3 146.7h0M420.3 139.1h0M444.4 143.1h0M414.6 144.3h0M427.5 148.9h0M431.8 137.2h0M414.3 136.5h0M443.4 146.6h0M439.0 142.1h0M428.2 119.0h0M451.5 139.5h0M434.5 146.1h0M443.3 146.9h0" stroke="#756bb1" stroke-width="5.00" stroke-linecap="round" fill="none" stroke-opacity="0.76"/><path d="M413.9 136.2h0M439.4 137.3h0M425.4 148.8h0M423.2 127.6h0M429.8 130.9h0M413.1 144.0h0M417.2 142.8h0M441.0 142.8h0M415.8 139.6h0M453.5 134.8h0M447.8 144.9h0M448.0 141.6h0M441.1 143.8h0M447.2 149.1h0M452.2 128.0h0M445.3 145.0h0M418.0 139.1h0M423.3 137.4h0M418.1 136.0h0M442.8 134.6h0M442.0 132.3h0M436.4 142.6h0M442.7 145.3h0M452.2 135.3h0M451.4 65.2h0M418.2 141.3h0M439.5 133.1h0M442.0 138.4h0M427.7 145.2h0M427.4 117.7h0M447.1 126.9h0M438.6 139.1h0M447.9 149.4h0M448.2 141.4h0M421.8 139.3h0M422.7 147.2h0M414.8 132.7h0M420.7 84.2h0M453.2 131.3h0M450.9 134.2h0M447.7 106.2h0M422.4 148.8h0M423.5 144.9h0M448.2 148.8h0M424.9 145.6h0M429.7 148.5h0M436.5 138.1h0M450.9 127.7h0M446.9 123.8h0M444.5 144.7h0M421.9 148.1h0M449.7 145.6h0M445.1 128.9h0M440.2 132.1h0M436.5 144.9h0M420.7 144.5h0M421.7 136.7h0M439.0 142.5h0M424.9 130.8h0M441.5 135.2h0M418.3 143.3h0M442.3 146.2h0M444.6 142.4h0M450.0 115.2h0M420.4 136.0h0M447.7 134.3h0M436.6 148.5h0M431.4 145.8h0M440.3 143.8h0M417.6 139.0h0M417.3 133.9h0M450.7 145.0h0M432.4 145.5h0M440.1 145.3h0M448.8 136.3h0M453.4 149.4h0M421.1 137.1h0M422.9 130.1h0M439.1 144.0h0M413.8 143.5h0M429.1 132.0h0M434.4 143.5h0M424.2 125.1h0M438.2 120.2h0M421.6 119.2h0" stroke="#756bb1" stroke-width="5.00" stroke-linecap="round" fill="none" stroke-opacity="0.76"/>
<rect x="456.7" y="149.2" width="22.6" height="29.2" fill="#bcbddc"/>
<path d="M465.3 141.9h0M462.9 125.1h0M476.5 144.9h0M474.7 144.6h0M470.8 139.5h0M466.4 146.4h0M464.6 123.5h0M463.0 145.3h0M463.3 131.8h0M472.0 145.3h0M465.9 144.1h0M462.9 146.4h0M474.2 144.2h0M469.2 138.9h0M467.6 146.6h0M469.1 148.5h0M470.3 142.6h0M472.5 135.5h0M473.9 145.3h0M471.7 115.7h0M470.5 138.2h0M462.2 139.0h0M467.1 143.1h0M469.4 142.5h0M476.5 139.2h0M462.3 137.1h0M471.2 142.0h0M472.6 125.1h0M459.8 145.6h0M465.0 135.5h0M476.5 143.3h0M463.4 122.4h0M468.3 148.8h0" stroke="#bcbddc" stroke-width="5.00" stroke-linecap="round" fill="none" stroke-opacity="0.76"/><path d="M471.0 131.8h0M473.8 142.7h0M470.3 139.2h0M469.4 124.1h0M462.9 144.0h0M462.0 147.0h0M460.1 123.6h0M468.3 145.0h0M464.5 133.8h0M475.7 133.0h0M460.2 144.5h0M471.5 132.1h0M462.0 147.8h0M475.9 149.6h0M469.1 143.2h0M476.3 143.6h0M472.2 116.6h0M464.4 146.7h0M474.8 136.9h0M474.9 136.6h0M473.7 144.4h0M467.7 143.7h0M473.0 143.8h0M462.2 97.2h0M462.5 142.9h0M470.0 141.1h0M470.7 144.7h0M472.5 143.9h0M476.6 144.2h0M474.2 122.4h0M462.2 145.9h0M459.9 148.4h0M470.3 144.9h0" stroke="#bcbddc" stroke-width="5.00" stroke-linecap="round" fill="none" stroke-opacity="0.76"/><path d="M464.4 148.2h0M476.8 148.9h0M476.6 123.9h0M464.9 144.9h0M470.1 147.0h0M462.7 144.5h0M466.0 122.5h0M460.7 147.2h0M460.4 135.4h0M462.0 143.7h0M468.8 137.9h0M472.6 143.4h0M459.9 140.6h0M469.2 147.0h0M473.8 140.8h0M461.1 144.8h0M472.3 149.4h0M473.6 137.6h0M468.4 143.6h0M466.9 145.5h0M476.6 143.7h0M469.6 144.5h0M465.9 145.1h0M467.7 149.7h0M474.0 139.7h0M468.2 146.7h0M462.0 145.7h0M471.5 149.5h0M462.9 144.5h0M475.8 135.3h0M460.5 131.6h0M475.0 145.0h0M469.7 136.3h0" stroke="#bcbddc" stroke-width="5.00" stroke-linecap="round" fill="none" stroke-opacity="0.76"/><path d="M466.6 146.4h0M464.7 143.7h0M462.1 142.4h0M466.0 150.2h0M469.2 145.5h0M473.1 127.5h0M464.7 139.7h0M461.6 144.9h0M472.8 145.4h0M471.7 134.4h0M464.3 143.1h0M466.0 141.5h0M471.1 135.4h0M473.7 130.8h0M476.7 143.9h0M470.4 148.5h0M463.0 143.3h0M471.3 134.9h0M468.1 144.8h0M469.5 144.4h0M464.0 148.2h0M465.6 148.9h0M462.9 150.0h0M469.1 122.1h0M459.2 145.6h0M461.9 138.4h0M465.2 145.5h0M475.1 145.1h0M474.6 149.9h0M459.2 135.4h0M475.6 144.0h0M469.3 137.0h0" stroke="#bcbddc" stroke-width="5.00" stroke-linecap="round" fill="none" stroke-opacity="0.76"/>
<rect x="479.3" y="147.8" width="23.7" height="30.8" fill="#756bb1"/>
<path d="M492.1 132.7h0M483.7 145.0h0M495.1 148.3h0M485.5 134.3h0M488.3 148.4h0M496.8 123.5h0M489.1 130.8h0M497.3 143.6h0M486.5 147.3h0M499.5 147.3h0M484.5 132.2h0M498.1 144.5h0M496.4 139.4h0M500.4 138.7h0M484.1 147.2h0M487.0 147.2h0M497.8 146.5h0M497.1 133.9h0M490.1 146.2h0M494.9 139.5h0M493.9 142.3h0M490.8 122.1h0M486.8 140.6h0M496.3 142.1h0M491.5 114.4h0M482.5 148.0h0M484.6 142.0h0M489.0 146.9h0M500.6 141.7h0M493.3 128.5h0M496.4 143.2h0M494.6 125.7h0M495.4 141.1h0M500.3 148.4h0M484.6 146.5h0M494.6 144.6h0M491.1 133.7h0M499.7 132.8h0" stroke="#756bb1" stroke-width="5.00" stroke-linecap="round" fill="none" stroke-opacity="0.76"/><path d="M482.5 137.4h0M493.7 147.0h0M492.3 116.5h0M484.3 146.7h0M488.8 136.5h0M500.1 137.7h0M483.1 146.8h0M487.6 148.0h0M494.8 148.4h0M491.3 143.4h0M495.0 144.0h0M489.8 125.8h0M486.7 147.1h0M486.7 121.4h0M499.2 135.0h0M492.4 140.6h0M491.6 143.3h0M483.4 145.9h0M486.6 145.7h0M485.4 136.4h0M494.3 145.7h0M489.3 125.7h0M500.2 148.2h0M498.4 141.9h0M492.4 147.5h0M492.6 146.0h0M488.2 140.1h0M489.0 146.9h0M483.6 146.4h0M490.7 144.7h0M486.6 145.8h0M489.3 144.7h0M495.1 142.6h0M493.4 112.0h0M487.4 145.3h0M488.0 145.9h0M491.4 144.0h0" stroke="#756bb1" stroke-width="5.00" stroke-linecap="round" fill="none" stroke-opacity="0.76"/><path d="M492.7 136.8h0M484.7 143.8h0M498.5 138.7h0M493.5 143.3h0M487.5 148.7h0M490.5 148.6h0M483.3 109.7h0M488.0 146.2h0M493.1 145.5h0M486.7 140.6h0M492.4 136.5h0M498.6 142.0h0M492.7 147.0h0M487.4 143.3h0M496.6 137.0h0M500.1 138.1h0M497.1 142.8h0M484.5 145.2h0M493.5 132.1h0M499.7 138.7h0M496.0 145.1h0M498.6 137.7h0M498.2 129.7h0M497.8 134.8h0M494.8 143.9h0M485.1 135.0h0M489.1 124.7h0M490.2 130.4h0M492.2 138.6h0M489.5 133.1h0M481.6 140.5h0M497.1 143.5h0M485.4 132.6h0M483.6 146.1h0M489.6 143.0h0M485.2 137.7h0M500.7 141.2h0" stroke="#756bb1" stroke-width="5.00" stroke-linecap="round" fill="none" stroke-opacity="0.76"/><path d="M492.5 143.9h0M492.5 146.3h0M499.5 142.0h0M482.6 118.5h0M491.2 140.1h0M482.8 139.2h0M488.8 148.2h0M499.8 135.4h0M482.2 142.5h0M496.4 143.3h0M494.4 142.6h0M482.2 143.7h0M499.9 136.4h0M498.7 143.5h0M483.5 136.1h0M482.8 143.5h0M499.2 146.6h0M493.1 143.6h0M484.3 148.0h0M486.1 138.7h0M485.1 132.9h0M488.5 144.7h0M493.4 144.3h0M485.6 130.5h0M482.9 142.0h0M491.8 147.8h0M490.1 145.7h0M499.3 145.5h0M493.4 101.0h0M490.3 146.5h0M500.5 132.5h0M494.6 128.9h0M492.7 144.1h0M487.4 136.8h0M496.8 132.4h0M492.3 129.3h0M500.1 148.1h0" stroke="#756bb1" stroke-width="5.00" stroke-linecap="round" fill="none" stroke-opacity="0.76"/>
<rect x="503.0" y="149.0" width="19.8" height="29.5" fill="#bcbddc"/>
<path d="M505.3 143.2h0M505.9 135.5h0M512.4 142.0h0M507.0 147.8h0M514.6 149.4h0M506.0 149.7h0M506.3 143.0h0M505.8 128.1h0M505.4 128.4h0M519.4 149.8h0M507.3 146.6h0M514.4 147.1h0M520.2 148.0h0M508.4 146.8h0M510.9 147.9h0M515.6 145.0h0M511.1 137.5h0M516.7 138.3h0M515.9 107.5h0M511.7 147.8h0M508.6 138.4h0M520.3 143.1h0M509.0 149.3h0M518.1 148.8h0M516.0 146.7h0M516.2 148.8h0M513.1 135.1h0M506.0 144.2h0M519.9 146.3h0M508.9 146.3h0M509.4 138.0h0" stroke="#bcbddc" stroke-width="5.00" stroke-linecap="round" fill="none" stroke-opacity="0.76"/><path d="M514.5 146.7h0M506.0 100.2h0M511.3 131.8h0M509.4 149.6h0M513.2 140.9h0M513.5 127.9h0M507.1 141.3h0M519.8 146.8h0M520.2 143.2h0M518.3 146.6h0M514.8 144.7h0M514.0 148.1h0M518.3 144.3h0M511.8 149.0h0M512.1 143.9h0M517.5 147.9h0M515.8 151.1h0M507.5 149.8h0M513.1 144.7h0M513.4 148.7h0M511.3 119.5h0M513.8 123.1h0M514.6 147.5h0M511.1 145.0h0M513.0 128.0h0M517.0 127.2h0M517.0 144.0h0M517.0 107.2h0M511.1 139.4h0M520.5 148.3h0" stroke="#bcbddc" stroke-width="5.00" stroke-linecap="round" fill="none" stroke-opacity="0.76"/><path d="M513.3 151.7h0M513.9 148.7h0M517.4 120.9h0M514.5 138.3h0M516.7 148.7h0M505.8 149.9h0M516.0 146.2h0M518.9 125.7h0M512.0 139.9h0M510.3 148.8h0M515.8 146.6h0M509.8 100.2h0M517.2 148.2h0M511.1 142.4h0M514.3 145.7h0M506.5 128.9h0M517.2 125.7h0M505.4 147.1h0M513.4 150.2h0M513.0 147.8h0M516.0 148.5h0M513.4 148.5h0M516.2 149.6h0M509.2 139.0h0M512.8 106.5h0M517.1 140.5h0M515.0 135.7h0M518.9 148.7h0M505.9 133.1h0M516.1 144.9h0" stroke="#bcbddc" stroke-width="5.00" stroke-linecap="round" fill="none" stroke-opacity="0.76"/><path d="M511.8 128.2h0M505.4 147.1h0M509.9 150.1h0M515.2 132.2h0M518.4 133.6h0M517.2 140.9h0M509.9 144.0h0M514.3 143.4h0M513.5 144.4h0M518.7 149.2h0M519.9 135.4h0M514.4 144.6h0M509.9 143.7h0M508.6 137.0h0M509.4 146.9h0M517.9 149.4h0M509.7 139.0h0M519.4 142.6h0M515.3 149.7h0M510.9 149.9h0M506.5 147.5h0M516.0 144.3h0M508.1 146.4h0M509.5 147.2h0M510.0 132.7h0M514.2 149.4h0M516.4 144.7h0M514.3 148.8h0M515.7 148.0h0M518.3 150.2h0" stroke="#bcbddc" stroke-width="5.00" stroke-linecap="round" fill="none" stroke-opacity="0.76"/>
<rect x="522.8" y="146.0" width="15.7" height="32.5" fill="#756bb1"/>
<path d="M526.2 126.4h0M529.7 136.8h0M525.5 137.5h0M531.1 136.0h0M536.0 145.7h0M527.1 140.2h0M528.9 145.1h0M529.8 141.2h0M526.3 144.7h0M529.7 141.8h0M534.0 141.6h0M533.3 140.3h0M527.4 133.1h0M525.9 139.1h0M527.0 116.3h0M535.8 146.3h0M531.1 144.0h0M533.0 134.7h0M536.2 133.9h0M525.8 143.8h0M525.6 132.8h0M533.2 130.3h0M532.6 145.0h0M534.4 142.5h0" stroke="#756bb1" stroke-width="5.00" stroke-linecap="round" fill="none" stroke-opacity="0.76"/><path d="M536.0 130.0h0M525.8 141.2h0M534.4 135.1h0M533.8 118.7h0M531.3 111.0h0M534.1 128.6h0M535.0 135.6h0M531.7 140.4h0M528.6 135.8h0M525.2 124.8h0M533.1 127.1h0M534.1 123.2h0M532.3 146.9h0M526.4 138.3h0M529.7 136.8h0M534.1 137.9h0M528.0 141.8h0M532.0 145.0h0M525.5 145.0h0M534.7 142.0h0M526.7 140.9h0M527.2 131.4h0M535.3 134.9h0" stroke="#756bb1" stroke-width="5.00" stroke-linecap="round" fill="none" stroke-opacity="0.76"/><path d="M532.5 141.5h0M531.8 142.1h0M530.3 126.9h0M532.4 110.0h0M525.4 139.5h0M533.4 135.3h0M527.4 130.6h0M530.0 131.0h0M534.7 142.9h0M530.8 145.8h0M535.3 141.3h0M530.3 140.9h0M530.3 137.7h0M528.4 139.1h0M533.1 136.1h0M535.7 132.5h0M528.7 140.6h0M532.3 145.3h0M533.6 130.3h0M530.7 141.2h0M528.6 135.1h0M532.2 143.9h0M535.2 111.5h0" stroke="#756bb1" stroke-width="5.00" stroke-linecap="round" fill="none" stroke-opacity="0.76"/><path d="M528.9 122.6h0M527.7 142.9h0M532.7 135.9h0M525.1 135.1h0M527.9 142.7h0M527.3 144.9h0M528.6 144.8h0M534.9 121.0h0M533.9 140.6h0M531.2 135.4h0M535.3 144.6h0M536.0 144.8h0M533.6 127.5h0M526.6 146.4h0M536.0 128.6h0M527.4 134.5h0M535.4 136.1h0M532.9 133.1h0M527.9 141.8h0M535.7 134.2h0M533.9 140.7h0M535.2 143.7h0M528.3 143.5h0" stroke="#756bb1" stroke-width="5.00" stroke-linecap="round" fill="none" stroke-opacity="0.76"/>
<rect x="538.5" y="147.8" width="12.4" height="30.8" fill="#bcbddc"/>
<path d="M547.3 143.4h0M543.8 123.7h0M547.2 148.4h0M548.6 142.3h0M544.9 142.1h0M542.8 142.1h0M546.9 141.5h0M544.0 147.8h0M541.2 146.9h0M547.9 137.3h0M545.8 128.7h0M543.6 142.2h0M541.2 131.6h0M541.2 140.7h0M547.0 132.9h0M543.1 139.5h0M540.9 144.3h0M544.7 139.8h0M542.3 140.3h0M544.8 132.9h0" stroke="#bcbddc" stroke-width="5.00" stroke-linecap="round" fill="none" stroke-opacity="0.76"/><path d="M548.0 144.2h0M540.9 133.8h0M545.7 146.6h0M546.2 147.6h0M542.1 140.8h0M545.7 147.0h0M546.3 149.3h0M541.0 138.4h0M545.7 145.3h0M545.7 146.0h0M544.1 146.0h0M544.6 125.6h0M543.8 143.1h0M541.1 137.2h0M544.5 148.7h0M545.1 130.1h0M542.4 143.0h0M545.7 143.9h0M546.2 128.9h0M541.5 148.2h0" stroke="#bcbddc" stroke-width="5.00" stroke-linecap="round" fill="none" stroke-opacity="0.76"/><path d="M546.5 145.8h0M545.3 143.5h0M543.9 144.2h0M548.1 145.8h0M541.3 113.3h0M540.8 144.2h0M547.4 147.3h0M543.3 130.2h0M547.8 137.2h0M548.5 116.0h0M546.0 130.7h0M547.9 127.8h0M546.1 144.3h0M548.3 140.5h0M546.3 125.1h0M543.4 148.5h0M548.2 149.2h0M548.4 131.9h0M543.8 144.1h0" stroke="#bcbddc" stroke-width="5.00" stroke-linecap="round" fill="none" stroke-opacity="0.76"/><path d="M541.3 131.6h0M542.5 141.9h0M544.8 109.0h0M541.5 143.1h0M544.4 145.8h0M546.9 148.2h0M544.0 142.2h0M542.8 133.1h0M548.3 148.9h0M545.8 146.6h0M545.3 139.7h0M541.4 145.8h0M547.4 126.8h0M544.5 129.4h0M547.1 135.6h0M543.0 137.2h0M547.0 142.6h0M546.7 144.4h0M546.8 145.3h0" stroke="#bcbddc" stroke-width="5.00" stroke-linecap="round" fill="none" stroke-opacity="0.76"/>
<rect x="550.9" y="147.8" width="12.9" height="30.8" fill="#756bb1"/>
<path d="M559.6 137.4h0M556.6 134.9h0M555.4 145.6h0M558.3 131.2h0M560.2 143.0h0M556.4 126.4h0M559.3 146.3h0M558.0 142.4h0M560.8 142.7h0M561.2 129.6h0M554.9 136.0h0M559.0 146.2h0M561.5 147.4h0M554.8 146.3h0M554.5 142.1h0M553.8 124.0h0M553.5 138.1h0M560.6 141.2h0M554.6 112.4h0M554.5 125.1h0M553.7 146.0h0M557.9 117.8h0" stroke="#756bb1" stroke-width="5.00" stroke-linecap="round" fill="none" stroke-opacity="0.76"/><path d="M553.8 124.2h0M561.4 144.7h0M557.4 148.6h0M554.0 127.5h0M560.9 140.3h0M556.5 109.8h0M556.3 139.9h0M553.4 121.6h0M560.6 142.2h0M554.6 141.8h0M553.3 134.7h0M557.3 143.9h0M561.3 131.2h0M560.7 131.0h0M560.4 148.5h0M560.7 146.5h0M561.0 136.1h0M553.9 136.7h0M561.2 143.3h0M555.2 127.4h0M556.7 138.2h0M558.6 145.5h0" stroke="#756bb1" stroke-width="5.00" stroke-linecap="round" fill="none" stroke-opacity="0.76"/><path d="M554.9 141.8h0M558.8 142.6h0M554.3 145.8h0M554.0 114.7h0M559.7 140.2h0M558.2 143.1h0M559.6 140.3h0M553.4 148.0h0M561.2 147.7h0M555.6 134.8h0M556.9 146.0h0M561.5 140.8h0M557.6 136.6h0M560.2 140.0h0M553.5 138.7h0M558.2 147.9h0M558.8 141.3h0M554.1 146.9h0M553.3 122.5h0M553.5 138.0h0M562.1 114.5h0" stroke="#756bb1" stroke-width="5.00" stroke-linecap="round" fill="none" stroke-opacity="0.76"/><path d="M556.4 129.6h0M557.1 136.8h0M560.0 145.8h0M559.0 141.6h0M557.7 144.4h0M556.3 128.0h0M555.6 122.6h0M554.8 146.6h0M557.0 139.8h0M556.5 142.6h0M558.7 142.4h0M559.8 140.9h0M559.7 110.2h0M560.7 132.4h0M556.0 143.9h0M561.5 133.5h0M554.1 135.2h0M555.0 129.8h0M557.2 143.0h0M553.4 136.1h0M560.9 131.9h0" stroke="#756bb1" stroke-width="5.00" stroke-linecap="round" fill="none" stroke-opacity="0.76"/>
<rect x="563.8" y="148.5" width="11.4" height="30.0" fill="#bcbddc"/>
<path d="M567.7 142.3h0M566.1 143.6h0M572.6 135.5h0M569.3 127.9h0M567.3 144.1h0M572.8 145.5h0M572.5 146.5h0M568.6 132.3h0M567.0 143.7h0M568.0 125.8h0M568.5 128.0h0M567.9 122.4h0M568.4 130.4h0M571.5 126.0h0M566.8 132.3h0M570.8 145.8h0M568.9 123.1h0M569.5 146.9h0M569.5 149.3h0" stroke="#bcbddc" stroke-width="5.00" stroke-linecap="round" fill="none" stroke-opacity="0.76"/><path d="M568.6 143.8h0M568.2 146.6h0M569.6 146.0h0M569.8 143.3h0M568.5 144.2h0M568.2 148.4h0M568.0 149.3h0M568.7 115.6h0M570.5 143.2h0M566.2 132.2h0M569.7 136.5h0M566.2 148.5h0M570.6 145.0h0M572.8 141.9h0M571.3 144.7h0M572.2 116.5h0M570.7 127.9h0M572.6 146.0h0M567.3 129.5h0" stroke="#bcbddc" stroke-width="5.00" stroke-linecap="round" fill="none" stroke-opacity="0.76"/><path d="M568.1 145.3h0M567.0 146.7h0M569.9 145.8h0M572.0 148.5h0M572.7 141.1h0M567.8 147.6h0M568.5 122.8h0M572.1 143.3h0M572.7 145.9h0M572.9 129.9h0M567.4 145.7h0M570.7 135.9h0M568.3 136.4h0M566.5 144.5h0M568.4 144.3h0M571.7 136.4h0M570.8 136.3h0M572.1 143.0h0M569.7 110.3h0" stroke="#bcbddc" stroke-width="5.00" stroke-linecap="round" fill="none" stroke-opacity="0.76"/><path d="M571.0 144.9h0M570.0 144.5h0M570.8 148.4h0M571.6 114.7h0M571.4 128.0h0M567.5 143.0h0M569.1 144.0h0M571.9 146.2h0M566.3 137.1h0M570.5 143.5h0M569.4 140.9h0M568.5 138.7h0M572.6 137.1h0M568.3 135.7h0M567.4 148.6h0M568.0 139.5h0M566.7 144.8h0M567.2 148.0h0" stroke="#bcbddc" stroke-width="5.00" stroke-linecap="round" fill="none" stroke-opacity="0.76"/>
<rect x="575.2" y="148.5" width="11.4" height="30.0" fill="#756bb1"/>
<path d="M582.4 132.3h0M583.5 128.4h0M578.6 137.7h0M583.1 143.3h0M578.9 122.4h0M583.7 142.4h0M578.1 143.5h0M578.7 142.5h0M581.0 105.5h0M582.7 143.7h0M583.8 143.9h0M584.0 138.0h0M580.6 139.1h0M580.8 142.8h0M579.8 130.0h0M578.0 146.4h0M583.6 141.3h0M578.2 135.4h0M584.3 137.0h0M577.9 126.6h0" stroke="#756bb1" stroke-width="5.00" stroke-linecap="round" fill="none" stroke-opacity="0.76"/><path d="M578.7 131.4h0M582.4 144.0h0M581.1 149.3h0M577.9 143.8h0M578.8 133.4h0M580.3 135.7h0M579.2 138.9h0M579.8 144.3h0M577.7 146.1h0M583.5 138.6h0M578.6 131.5h0M582.4 146.5h0M582.0 140.7h0M582.5 144.7h0M584.3 132.9h0M583.9 147.3h0M583.7 137.1h0M578.9 139.4h0M583.3 149.1h0M578.0 135.1h0" stroke="#756bb1" stroke-width="5.00" stroke-linecap="round" fill="none" stroke-opacity="0.76"/><path d="M583.9 124.2h0M578.8 134.2h0M581.8 138.0h0M581.0 129.1h0M578.7 136.1h0M577.7 147.7h0M576.6 104.8h0M580.6 144.8h0M579.8 149.3h0M583.9 130.8h0M583.1 147.6h0M583.2 121.3h0M579.1 145.6h0M583.9 147.7h0M580.0 137.3h0M577.8 141.1h0M579.4 143.9h0M581.6 138.3h0M579.9 133.5h0M578.4 147.6h0" stroke="#756bb1" stroke-width="5.00" stroke-linecap="round" fill="none" stroke-opacity="0.76"/><path d="M579.4 140.0h0M579.4 144.5h0M582.5 139.0h0M582.6 137.7h0M582.2 117.9h0M577.6 145.7h0M580.9 120.8h0M583.7 129.5h0M581.1 113.1h0M581.3 146.0h0M579.8 139.4h0M580.5 146.3h0M584.2 144.0h0M577.9 142.5h0M578.0 143.3h0M584.0 142.3h0M580.5 126.0h0M581.9 126.8h0M580.7 106.5h0M582.7 144.8h0" stroke="#756bb1" stroke-width="5.00" stroke-linecap="round" fill="none" stroke-opacity="0.76"/>
<rect x="586.6" y="148.5" width="9.6" height="30.0" fill="#bcbddc"/>
<path d="M593.0 148.1h0M588.9 120.8h0M589.3 137.9h0M591.6 148.0h0M590.1 125.4h0M593.1 126.3h0M589.6 143.2h0M589.3 147.5h0M591.8 144.7h0M591.4 121.8h0M591.2 144.0h0M590.6 128.5h0M593.8 148.7h0M591.9 135.3h0M593.7 145.2h0M590.1 147.4h0" stroke="#bcbddc" stroke-width="5.00" stroke-linecap="round" fill="none" stroke-opacity="0.76"/><path d="M593.7 147.1h0M590.5 145.6h0M590.4 144.6h0M590.7 143.1h0M589.2 137.2h0M589.3 123.7h0M590.3 139.4h0M593.5 146.8h0M590.7 138.2h0M593.6 138.1h0M593.0 138.8h0M591.5 121.1h0M592.0 113.0h0M593.7 132.8h0M588.9 147.7h0M592.2 143.2h0" stroke="#bcbddc" stroke-width="5.00" stroke-linecap="round" fill="none" stroke-opacity="0.76"/><path d="M591.2 145.5h0M589.5 146.0h0M590.4 144.7h0M593.5 148.2h0M593.5 148.6h0M593.5 142.8h0M591.9 148.6h0M593.4 143.4h0M590.8 145.6h0M593.0 144.4h0M589.8 144.3h0M589.6 144.6h0M591.5 132.8h0M590.8 148.9h0M593.0 145.7h0M593.2 128.2h0" stroke="#bcbddc" stroke-width="5.00" stroke-linecap="round" fill="none" stroke-opacity="0.76"/><path d="M592.4 146.7h0M590.9 132.8h0M593.9 146.6h0M593.9 145.2h0M589.0 136.1h0M592.7 148.3h0M589.6 144.0h0M591.5 149.1h0M592.2 149.9h0M591.3 121.6h0M589.6 146.1h0M593.4 143.1h0M593.7 146.5h0M591.3 138.4h0M588.2 108.5h0M590.7 133.5h0" stroke="#bcbddc" stroke-width="5.00" stroke-linecap="round" fill="none" stroke-opacity="0.76"/>
<rect x="596.2" y="148.5" width="15.1" height="30.0" fill="#756bb1"/>
<path d="M608.1 136.3h0M605.4 128.2h0M601.7 137.3h0M602.3 144.0h0M608.3 147.0h0M607.0 142.9h0M602.1 141.7h0M605.8 133.3h0M601.6 136.0h0M598.5 135.6h0M607.6 131.9h0M603.9 136.1h0M606.1 137.2h0M608.0 143.3h0M608.5 134.0h0M608.9 109.1h0M604.9 135.3h0M609.0 143.8h0M607.3 141.4h0M601.8 134.5h0M599.9 146.0h0M600.7 147.9h0M600.1 144.2h0M602.5 141.1h0M599.8 146.5h0M600.5 133.5h0" stroke="#756bb1" stroke-width="5.00" stroke-linecap="round" fill="none" stroke-opacity="0.76"/><path d="M608.0 147.3h0M606.7 141.8h0M604.8 132.5h0M606.6 141.7h0M606.6 145.2h0M602.1 123.8h0M600.4 146.0h0M601.4 144.1h0M599.1 140.0h0M603.1 134.3h0M605.5 70.0h0M601.1 131.9h0M608.8 138.6h0M601.7 139.9h0M608.8 139.9h0M602.7 115.9h0M604.0 146.6h0M601.0 129.3h0M606.1 129.9h0M605.2 147.9h0M601.7 140.0h0M602.9 142.0h0M603.7 144.1h0M607.3 123.4h0M606.8 128.0h0M606.7 131.9h0" stroke="#756bb1" stroke-width="5.00" stroke-linecap="round" fill="none" stroke-opacity="0.76"/><path d="M605.6 138.8h0M600.6 116.8h0M603.9 134.4h0M607.8 138.0h0M604.9 128.0h0M608.4 133.4h0M606.6 122.2h0M604.1 143.0h0M605.5 143.5h0M603.8 118.5h0M603.2 138.5h0M603.8 146.7h0M607.6 130.0h0M599.8 140.8h0M600.7 127.9h0M604.1 126.2h0M605.2 149.4h0M599.2 148.9h0M600.7 127.9h0M608.3 135.0h0M603.9 138.2h0M606.6 130.1h0M608.1 148.6h0M605.4 136.5h0M599.9 139.1h0M601.6 143.9h0" stroke="#756bb1" stroke-width="5.00" stroke-linecap="round" fill="none" stroke-opacity="0.76"/><path d="M604.2 138.1h0M604.0 129.7h0M602.7 139.1h0M607.3 145.4h0M604.0 141.8h0M601.2 147.0h0M602.4 145.6h0M608.1 144.4h0M603.4 111.6h0M600.6 146.7h0M600.4 143.7h0M607.9 147.6h0M606.1 116.9h0M606.3 143.0h0M608.2 138.3h0M605.5 141.2h0M607.0 109.4h0M602.5 148.8h0M605.1 115.6h0M600.1 139.5h0M602.7 143.4h0M599.8 127.3h0M599.7 145.5h0M600.7 146.6h0M602.4 148.5h0" stroke="#756bb1" stroke-width="5.00" stroke-linecap="round" fill="none" stroke-opacity="0.76"/>
<rect x="611.3" y="146.0" width="4.9" height="32.5" fill="#bcbddc"/>
<path d="M613.9 107.2h0M613.9 133.5h0M613.7 141.5h0M613.8 118.9h0M613.9 127.4h0M613.6 122.0h0M613.8 134.2h0M613.8 141.4h0M613.9 126.0h0M613.7 146.3h0" stroke="#bcbddc" stroke-width="5.00" stroke-linecap="round" fill="none" stroke-opacity="0.76"/><path d="M613.9 145.6h0M614.0 145.9h0M613.8 137.0h0M613.6 115.1h0M613.9 139.5h0M613.7 136.8h0M613.6 137.0h0M613.9 125.2h0M613.8 142.5h0M613.7 135.0h0" stroke="#bcbddc" stroke-width="5.00" stroke-linecap="round" fill="none" stroke-opacity="0.76"/><path d="M613.7 146.9h0M614.0 100.2h0M613.6 145.5h0M613.6 141.9h0M613.6 137.7h0M613.9 141.3h0M613.9 141.4h0M613.7 131.2h0M613.5 112.6h0" stroke="#bcbddc" stroke-width="5.00" stroke-linecap="round" fill="none" stroke-opacity="0.76"/><path d="M613.6 141.3h0M614.0 141.3h0M613.7 142.8h0M613.9 137.1h0M613.9 126.9h0M613.9 144.3h0M613.6 140.6h0M613.8 146.6h0M613.8 145.1h0" stroke="#bcbddc" stroke-width="5.00" stroke-linecap="round" fill="none" stroke-opacity="0.76"/>
<rect x="616.2" y="148.5" width="6.6" height="30.0" fill="#756bb1"/>
<path d="M619.5 144.2h0M618.9 116.1h0M618.5 142.3h0M619.5 125.0h0M618.6 143.6h0M619.9 147.4h0M620.3 147.1h0M620.1 139.1h0M619.8 147.7h0M620.5 131.6h0M619.6 143.2h0M619.7 147.9h0M620.4 145.0h0" stroke="#756bb1" stroke-width="5.00" stroke-linecap="round" fill="none" stroke-opacity="0.76"/><path d="M619.3 136.7h0M618.8 146.6h0M620.4 121.5h0M618.5 145.5h0M619.1 149.3h0M620.5 138.1h0M618.8 147.7h0M619.9 122.4h0M619.2 128.7h0M620.1 136.2h0M619.8 144.7h0M619.7 143.6h0" stroke="#756bb1" stroke-width="5.00" stroke-linecap="round" fill="none" stroke-opacity="0.76"/><path d="M619.1 139.3h0M618.9 130.9h0M619.0 144.4h0M619.4 135.8h0M620.2 144.9h0M618.5 148.2h0M618.9 142.1h0M618.8 114.8h0M619.5 137.1h0M619.9 137.6h0M620.3 146.2h0M620.3 139.1h0" stroke="#756bb1" stroke-width="5.00" stroke-linecap="round" fill="none" stroke-opacity="0.76"/><path d="M619.4 144.2h0M618.8 147.1h0M618.5 146.2h0M619.4 137.1h0M618.9 147.8h0M620.1 130.6h0M620.5 147.9h0M619.7 139.5h0M619.3 146.5h0M618.5 148.3h0M620.0 112.1h0M618.7 146.0h0" stroke="#756bb1" stroke-width="5.00" stroke-linecap="round" fill="none" stroke-opacity="0.76"/>
<rect x="622.8" y="146.0" width="8.7" height="32.5" fill="#bcbddc"/>
<path d="M626.9 108.9h0M627.9 142.5h0M627.1 136.6h0M625.5 113.6h0M629.1 132.4h0M625.4 142.8h0M627.3 143.1h0M627.9 144.5h0M627.8 134.3h0M626.9 141.3h0M625.9 117.1h0M625.5 134.2h0M627.5 143.2h0M625.5 135.2h0M627.8 140.2h0M626.1 137.8h0" stroke="#bcbddc" stroke-width="5.00" stroke-linecap="round" fill="none" stroke-opacity="0.76"/><path d="M627.2 142.2h0M628.5 140.7h0M626.2 130.1h0M628.0 142.9h0M626.4 140.9h0M628.7 144.5h0M625.1 143.0h0M625.5 123.0h0M625.8 137.4h0M629.0 140.8h0M625.3 138.3h0M628.3 146.7h0M627.1 142.4h0M628.9 141.6h0M625.1 128.8h0M627.9 141.6h0" stroke="#bcbddc" stroke-width="5.00" stroke-linecap="round" fill="none" stroke-opacity="0.76"/><path d="M626.4 140.0h0M626.7 130.8h0M626.0 144.3h0M625.9 145.3h0M626.9 143.2h0M627.0 128.1h0M627.5 113.9h0M626.0 144.6h0M625.6 140.7h0M627.2 145.7h0M625.0 103.5h0M626.8 135.8h0M627.5 142.7h0M627.0 137.1h0M627.6 127.2h0" stroke="#bcbddc" stroke-width="5.00" stroke-linecap="round" fill="none" stroke-opacity="0.76"/><path d="M628.4 136.0h0M627.4 128.3h0M625.9 132.1h0M626.5 134.7h0M627.6 146.8h0M629.1 120.1h0M625.1 142.3h0M625.7 127.4h0M626.2 144.3h0M627.1 138.0h0M628.6 141.1h0M625.9 112.3h0M626.1 133.7h0M625.8 140.9h0M628.7 146.2h0" stroke="#bcbddc" stroke-width="5.00" stroke-linecap="round" fill="none" stroke-opacity="0.76"/>
<rect x="631.5" y="148.5" width="3.9" height="30.0" fill="#756bb1"/>
<path d="M633.6 132.6h0M633.5 148.7h0M633.6 128.4h0M633.6 143.0h0M633.4 145.7h0M633.4 146.5h0M633.4 138.2h0M633.4 145.0h0M633.6 143.8h0" stroke="#756bb1" stroke-width="5.00" stroke-linecap="round" fill="none" stroke-opacity="0.76"/><path d="M633.6 142.9h0M633.3 147.8h0M632.0 101.0h0M633.5 147.2h0M633.3 136.8h0M633.5 147.5h0M633.3 148.2h0M633.4 146.0h0" stroke="#756bb1" stroke-width="5.00" stroke-linecap="round" fill="none" stroke-opacity="0.76"/><path d="M633.4 148.3h0M633.5 136.6h0M633.4 146.6h0M633.3 112.6h0M633.6 147.0h0M633.3 126.9h0M633.3 127.0h0M633.6 139.0h0" stroke="#756bb1" stroke-width="5.00" stroke-linecap="round" fill="none" stroke-opacity="0.76"/><path d="M633.5 147.1h0M633.5 128.5h0M633.6 145.7h0M633.4 145.5h0M633.6 128.1h0M633.3 131.8h0M633.5 148.4h0M633.6 145.4h0" stroke="#756bb1" stroke-width="5.00" stroke-linecap="round" fill="none" stroke-opacity="0.76"/>
<rect x="635.4" y="148.5" width="1.9" height="30.0" fill="#bcbddc"/>
<path d="M636.4 124.5h0M636.3 128.2h0M636.3 140.1h0M636.3 142.7h0M636.3 132.0h0" stroke="#bcbddc" stroke-width="5.00" stroke-linecap="round" fill="none" stroke-opacity="0.76"/><path d="M636.3 132.9h0M636.4 144.9h0M636.3 138.2h0M636.3 146.1h0" stroke="#bcbddc" stroke-width="5.00" stroke-linecap="round" fill="none" stroke-opacity="0.76"/><path d="M636.3 128.7h0M636.4 129.8h0M636.4 131.5h0M636.3 145.6h0" stroke="#bcbddc" stroke-width="5.00" stroke-linecap="round" fill="none" stroke-opacity="0.76"/><path d="M636.3 144.4h0M636.3 145.8h0M636.4 143.8h0M636.3 139.7h0" stroke="#bcbddc" stroke-width="5.00" stroke-linecap="round" fill="none" stroke-opacity="0.76"/>
<rect x="637.3" y="148.5" width="5.7" height="30.0" fill="#756bb1"/>
<path d="M640.3 143.8h0M640.1 132.4h0M640.6 108.7h0M640.2 143.5h0M639.6 144.4h0M639.7 137.8h0M640.1 134.0h0M640.0 136.9h0M640.6 145.0h0M640.6 140.2h0M640.6 136.6h0M640.3 121.3h0" stroke="#756bb1" stroke-width="5.00" stroke-linecap="round" fill="none" stroke-opacity="0.76"/><path d="M640.7 136.3h0M640.5 138.3h0M637.5 100.8h0M639.6 139.5h0M640.4 144.0h0M639.7 146.7h0M640.1 119.9h0M640.2 142.9h0M640.4 146.5h0M639.6 148.4h0M639.9 145.8h0" stroke="#756bb1" stroke-width="5.00" stroke-linecap="round" fill="none" stroke-opacity="0.76"/><path d="M640.6 113.4h0M640.1 129.6h0M640.0 140.2h0M639.6 122.9h0M640.0 145.2h0M640.5 145.5h0M639.6 143.9h0M640.2 142.2h0M640.1 124.2h0M640.1 121.9h0M639.9 143.2h0" stroke="#756bb1" stroke-width="5.00" stroke-linecap="round" fill="none" stroke-opacity="0.76"/><path d="M640.6 118.0h0M640.1 137.7h0M640.1 144.5h0M640.7 143.7h0M640.3 139.3h0M640.4 133.5h0M639.9 137.5h0M639.8 110.8h0M639.7 142.3h0M640.2 144.0h0M640.6 148.9h0" stroke="#756bb1" stroke-width="5.00" stroke-linecap="round" fill="none" stroke-opacity="0.76"/>
<rect x="643.0" y="148.5" width="2.0" height="30.0" fill="#bcbddc"/>
<path d="M643.9 128.5h0M644.0 147.2h0M644.1 136.1h0M644.0 145.6h0M643.9 133.9h0" stroke="#bcbddc" stroke-width="5.00" stroke-linecap="round" fill="none" stroke-opacity="0.76"/><path d="M644.0 142.2h0M644.0 143.5h0M644.0 132.9h0M644.0 144.7h0M644.1 120.2h0" stroke="#bcbddc" stroke-width="5.00" stroke-linecap="round" fill="none" stroke-opacity="0.76"/><path d="M644.0 145.1h0M644.0 120.1h0M643.9 126.0h0M644.0 144.1h0M643.9 144.8h0" stroke="#bcbddc" stroke-width="5.00" stroke-linecap="round" fill="none" stroke-opacity="0.76"/><path d="M644.0 125.0h0M644.0 140.4h0M644.1 121.9h0M644.0 137.4h0" stroke="#bcbddc" stroke-width="5.00" stroke-linecap="round" fill="none" stroke-opacity="0.76"/>
<rect x="645.0" y="148.5" width="1.9" height="30.0" fill="#756bb1"/>
<path d="M645.9 148.2h0M645.9 143.6h0M645.9 136.1h0M646.0 147.0h0M646.0 140.2h0" stroke="#756bb1" stroke-width="5.00" stroke-linecap="round" fill="none" stroke-opacity="0.76"/><path d="M645.9 147.1h0M645.9 115.8h0M645.9 149.0h0M645.9 117.4h0M646.0 143.1h0" stroke="#756bb1" stroke-width="5.00" stroke-linecap="round" fill="none" stroke-opacity="0.76"/><path d="M645.9 139.0h0M646.4 103.5h0M646.0 137.3h0M646.0 107.5h0" stroke="#756bb1" stroke-width="5.00" stroke-linecap="round" fill="none" stroke-opacity="0.76"/><path d="M646.0 146.5h0M645.9 133.5h0M645.9 137.4h0M645.9 129.8h0" stroke="#756bb1" stroke-width="5.00" stroke-linecap="round" fill="none" stroke-opacity="0.76"/>
<rect x="646.9" y="146.0" width="1.1" height="32.5" fill="#bcbddc"/>
<path d="M647.5 129.6h0M647.5 133.6h0M647.5 131.7h0M647.4 134.6h0" stroke="#bcbddc" stroke-width="5.00" stroke-linecap="round" fill="none" stroke-opacity="0.76"/><path d="M647.5 141.1h0M647.4 133.7h0M647.4 133.9h0M647.5 133.5h0" stroke="#bcbddc" stroke-width="5.00" stroke-linecap="round" fill="none" stroke-opacity="0.76"/><path d="M647.4 146.4h0M647.4 142.9h0M647.5 145.3h0M647.2 51.2h0" stroke="#bcbddc" stroke-width="5.00" stroke-linecap="round" fill="none" stroke-opacity="0.76"/><path d="M647.2 95.0h0M647.5 138.0h0M647.5 127.3h0M647.5 121.3h0" stroke="#bcbddc" stroke-width="5.00" stroke-linecap="round" fill="none" stroke-opacity="0.76"/>
<rect x="648.0" y="148.5" width="2.5" height="30.0" fill="#756bb1"/>
<path d="M649.3 132.7h0M649.3 120.6h0M649.3 145.9h0M649.3 138.6h0M649.2 131.3h0M649.3 120.3h0" stroke="#756bb1" stroke-width="5.00" stroke-linecap="round" fill="none" stroke-opacity="0.76"/><path d="M649.2 130.5h0M649.2 128.7h0M649.3 131.7h0M649.2 143.8h0M649.2 146.4h0M649.2 138.0h0" stroke="#756bb1" stroke-width="5.00" stroke-linecap="round" fill="none" stroke-opacity="0.76"/><path d="M649.3 138.3h0M649.2 147.0h0M649.3 141.3h0M649.3 141.4h0M649.2 134.0h0M649.3 144.6h0" stroke="#756bb1" stroke-width="5.00" stroke-linecap="round" fill="none" stroke-opacity="0.76"/><path d="M649.3 146.7h0M649.3 148.4h0M649.2 126.7h0M649.3 143.4h0M649.3 133.7h0" stroke="#756bb1" stroke-width="5.00" stroke-linecap="round" fill="none" stroke-opacity="0.76"/>
<rect x="650.5" y="146.0" width="1.8" height="32.5" fill="#bcbddc"/>
<path d="M651.4 141.2h0M651.5 130.6h0M651.4 132.7h0M651.4 144.3h0M651.4 140.1h0" stroke="#bcbddc" stroke-width="5.00" stroke-linecap="round" fill="none" stroke-opacity="0.76"/><path d="M651.3 115.4h0M651.4 141.5h0M651.4 137.1h0M651.4 146.8h0M651.4 147.3h0" stroke="#bcbddc" stroke-width="5.00" stroke-linecap="round" fill="none" stroke-opacity="0.76"/><path d="M651.3 131.5h0M651.4 120.5h0M651.5 142.0h0M651.4 146.3h0" stroke="#bcbddc" stroke-width="5.00" stroke-linecap="round" fill="none" stroke-opacity="0.76"/><path d="M651.5 135.8h0M651.4 146.7h0M651.5 130.9h0M651.4 146.7h0" stroke="#bcbddc" stroke-width="5.00" stroke-linecap="round" fill="none" stroke-opacity="0.76"/>
<rect x="652.3" y="171.0" width="5.0" height="7.5" fill="#756bb1"/>
<path d="M654.8 155.1h0M654.6 145.2h0M654.6 151.6h0M654.6 164.3h0M654.6 147.7h0M654.6 158.0h0M654.7 166.7h0M654.8 154.9h0" stroke="#756bb1" stroke-width="5.00" stroke-linecap="round" fill="none" stroke-opacity="0.76"/><path d="M654.9 166.5h0M655.0 168.8h0M654.6 149.8h0M654.6 165.3h0M654.7 168.7h0M655.0 149.2h0M654.9 169.5h0M655.0 163.5h0" stroke="#756bb1" stroke-width="5.00" stroke-linecap="round" fill="none" stroke-opacity="0.76"/><path d="M654.6 162.7h0M654.7 168.4h0M654.7 163.4h0M654.8 171.2h0M654.8 163.8h0M655.0 168.2h0M655.0 171.4h0M655.0 151.2h0" stroke="#756bb1" stroke-width="5.00" stroke-linecap="round" fill="none" stroke-opacity="0.76"/><path d="M654.8 169.1h0M654.9 154.0h0M655.0 158.6h0M654.6 144.2h0M654.7 167.9h0M655.0 158.6h0M654.8 147.9h0" stroke="#756bb1" stroke-width="5.00" stroke-linecap="round" fill="none" stroke-opacity="0.76"/>
<rect x="94.2" y="128.5" width="7.1" height="50.0" fill="#ffa500"/>
<path d="M98.8 106.0h0M98.1 108.5h0M97.5 104.7h0M97.6 112.2h0M96.7 127.2h0M97.8 91.5h0M97.4 52.2h0M98.2 97.5h0M97.1 118.5h0M97.3 124.8h0M98.3 122.2h0" stroke="#ffa500" stroke-width="5.00" stroke-linecap="round" fill="none" stroke-opacity="0.85"/><path d="M97.8 76.0h0M98.0 41.0h0M98.4 113.5h0M97.8 71.0h0M97.2 109.7h0M98.1 126.0h0M98.4 94.5h0M97.4 123.5h0M97.8 114.7h0M97.2 90.0h0M97.8 102.0h0" stroke="#ffa500" stroke-width="5.00" stroke-linecap="round" fill="none" stroke-opacity="0.85"/><path d="M97.9 88.5h0M97.9 100.5h0M98.0 116.0h0M98.6 111.0h0M98.2 121.0h0M97.9 78.5h0M97.8 93.0h0M97.4 117.2h0M98.4 107.2h0M97.5 72.2h0M98.2 103.5h0" stroke="#ffa500" stroke-width="5.00" stroke-linecap="round" fill="none" stroke-opacity="0.85"/><path d="M98.4 119.8h0M96.7 131.0h0M97.4 99.0h0M97.9 51.0h0M97.7 79.8h0M97.2 87.0h0M97.9 66.0h0M96.9 129.8h0M97.6 128.5h0M97.1 96.0h0M97.9 84.8h0" stroke="#ffa500" stroke-width="5.00" stroke-linecap="round" fill="none" stroke-opacity="0.85"/>
<rect x="50.5" y="16.5" width="633.0" height="162.0" fill="none" stroke="#8a8a8a" stroke-width="1"/>
<text transform="translate(45.6,181.6) scale(0.92,1)" font-size="8.6" fill="#4d4d4d" text-anchor="end">0.0</text>
<text transform="translate(45.6,131.6) scale(0.92,1)" font-size="8.6" fill="#4d4d4d" text-anchor="end">0.2</text>
<text transform="translate(45.6,81.6) scale(0.92,1)" font-size="8.6" fill="#4d4d4d" text-anchor="end">0.4</text>
<text transform="translate(45.6,31.6) scale(0.92,1)" font-size="8.6" fill="#4d4d4d" text-anchor="end">0.6</text>
<text x="126.6" y="188.9" font-size="10" fill="#1a1a1a" text-anchor="middle">1</text>
<text x="237.3" y="188.9" font-size="10" fill="#1a1a1a" text-anchor="middle">2</text>
<text x="320.8" y="188.9" font-size="10" fill="#1a1a1a" text-anchor="middle">3</text>
<text x="382.7" y="188.9" font-size="10" fill="#1a1a1a" text-anchor="middle">4</text>
<text x="432.8" y="188.9" font-size="10" fill="#1a1a1a" text-anchor="middle">5</text>
<text x="467" y="188.9" font-size="10" fill="#1a1a1a" text-anchor="middle">6</text>
<text x="489.8" y="188.9" font-size="10" fill="#1a1a1a" text-anchor="middle">7</text>
<text x="512.5" y="188.9" font-size="10" fill="#1a1a1a" text-anchor="middle">8</text>
<text x="530.4" y="188.9" font-size="10" fill="#1a1a1a" text-anchor="middle">9</text>
<text x="545" y="188.9" font-size="10" fill="#1a1a1a" text-anchor="middle">10</text>
<text x="569" y="188.9" font-size="10" fill="#1a1a1a" text-anchor="middle">12</text>
<text x="591" y="188.9" font-size="10" fill="#1a1a1a" text-anchor="middle">14</text>
<text x="608.2" y="188.9" font-size="10" fill="#1a1a1a" text-anchor="middle">17</text>
<text x="627" y="188.9" font-size="10" fill="#1a1a1a" text-anchor="middle">20</text>
<text x="648.4" y="188.9" font-size="10" fill="#1a1a1a" text-anchor="middle">28</text>
<text x="377.4" y="208" font-size="15.3" fill="#000" text-anchor="middle">Chromosome</text>
<text transform="translate(24.1,96.4) rotate(-90)" font-size="15.8" fill="#000" text-anchor="middle">Δ <tspan font-style="italic">F</tspan><tspan dy="3.2">ST</tspan></text>
<text x="0.3" y="14.8" font-size="25.5" fill="#000">a</text>
<rect x="219.8" y="224.2" width="291.1" height="153.4" fill="#fdf3e3"/>
<g><circle cx="556.0" cy="370.3" r="2.35" fill="#861c52" fill-opacity="0.8"/><circle cx="149.1" cy="345.9" r="2.35" fill="#861c52" fill-opacity="0.8"/><circle cx="562.9" cy="344.8" r="2.35" fill="#861c52" fill-opacity="0.8"/><circle cx="626.9" cy="359.1" r="2.35" fill="#861c52" fill-opacity="0.8"/><circle cx="425.7" cy="365.3" r="2.35" fill="#861c52" fill-opacity="0.8"/><circle cx="559.8" cy="373.9" r="2.35" fill="#861c52" fill-opacity="0.8"/><circle cx="571.4" cy="331.8" r="2.35" fill="#861c52" fill-opacity="0.8"/><circle cx="464.6" cy="334.7" r="2.35" fill="#861c52" fill-opacity="0.8"/><circle cx="471.5" cy="325.4" r="2.35" fill="#861c52" fill-opacity="0.8"/><circle cx="231.8" cy="356.4" r="2.35" fill="#861c52" fill-opacity="0.8"/><circle cx="338.0" cy="360.6" r="2.35" fill="#861c52" fill-opacity="0.8"/><circle cx="300.1" cy="351.0" r="2.35" fill="#861c52" fill-opacity="0.8"/><circle cx="442.1" cy="335.6" r="2.35" fill="#861c52" fill-opacity="0.8"/><circle cx="422.5" cy="360.5" r="2.35" fill="#861c52" fill-opacity="0.8"/><circle cx="275.9" cy="358.8" r="2.35" fill="#861c52" fill-opacity="0.8"/><circle cx="518.5" cy="342.7" r="2.35" fill="#861c52" fill-opacity="0.8"/><circle cx="465.5" cy="373.4" r="2.35" fill="#861c52" fill-opacity="0.8"/><circle cx="484.7" cy="368.9" r="2.35" fill="#861c52" fill-opacity="0.8"/><circle cx="160.9" cy="367.2" r="2.35" fill="#861c52" fill-opacity="0.8"/><circle cx="597.3" cy="372.3" r="2.35" fill="#861c52" fill-opacity="0.8"/><circle cx="436.1" cy="366.7" r="2.35" fill="#861c52" fill-opacity="0.8"/><circle cx="358.6" cy="356.1" r="2.35" fill="#861c52" fill-opacity="0.8"/><circle cx="562.1" cy="354.5" r="2.35" fill="#861c52" fill-opacity="0.8"/><circle cx="514.8" cy="339.7" r="2.35" fill="#861c52" fill-opacity="0.8"/><circle cx="304.4" cy="365.7" r="2.35" fill="#861c52" fill-opacity="0.8"/><circle cx="499.9" cy="361.1" r="2.35" fill="#861c52" fill-opacity="0.8"/><circle cx="263.2" cy="345.8" r="2.35" fill="#861c52" fill-opacity="0.8"/><circle cx="506.5" cy="366.8" r="2.35" fill="#861c52" fill-opacity="0.8"/><circle cx="200.3" cy="360.7" r="2.35" fill="#861c52" fill-opacity="0.8"/><circle cx="568.1" cy="367.0" r="2.35" fill="#861c52" fill-opacity="0.8"/><circle cx="88.6" cy="365.5" r="2.35" fill="#861c52" fill-opacity="0.8"/><circle cx="554.2" cy="363.8" r="2.35" fill="#861c52" fill-opacity="0.8"/><circle cx="251.6" cy="363.1" r="2.35" fill="#861c52" fill-opacity="0.8"/><circle cx="101.5" cy="375.1" r="2.35" fill="#861c52" fill-opacity="0.8"/><circle cx="424.2" cy="351.7" r="2.35" fill="#861c52" fill-opacity="0.8"/><circle cx="503.8" cy="351.3" r="2.35" fill="#861c52" fill-opacity="0.8"/><circle cx="499.8" cy="365.4" r="2.35" fill="#861c52" fill-opacity="0.8"/><circle cx="151.9" cy="363.2" r="2.35" fill="#861c52" fill-opacity="0.8"/><circle cx="521.0" cy="338.0" r="2.35" fill="#861c52" fill-opacity="0.8"/><circle cx="521.8" cy="361.8" r="2.35" fill="#861c52" fill-opacity="0.8"/><circle cx="191.0" cy="345.5" r="2.35" fill="#861c52" fill-opacity="0.8"/><circle cx="305.2" cy="365.0" r="2.35" fill="#861c52" fill-opacity="0.8"/><circle cx="411.9" cy="362.9" r="2.35" fill="#861c52" fill-opacity="0.8"/><circle cx="543.9" cy="352.6" r="2.35" fill="#861c52" fill-opacity="0.8"/><circle cx="445.6" cy="355.6" r="2.35" fill="#861c52" fill-opacity="0.8"/><circle cx="521.9" cy="373.7" r="2.35" fill="#861c52" fill-opacity="0.8"/><circle cx="597.6" cy="373.7" r="2.35" fill="#861c52" fill-opacity="0.8"/><circle cx="358.1" cy="345.6" r="2.35" fill="#861c52" fill-opacity="0.8"/><circle cx="172.3" cy="369.5" r="2.35" fill="#861c52" fill-opacity="0.8"/><circle cx="472.4" cy="335.5" r="2.35" fill="#861c52" fill-opacity="0.8"/><circle cx="173.8" cy="362.4" r="2.35" fill="#861c52" fill-opacity="0.8"/><circle cx="182.7" cy="362.3" r="2.35" fill="#861c52" fill-opacity="0.8"/><circle cx="629.8" cy="364.4" r="2.35" fill="#861c52" fill-opacity="0.8"/><circle cx="178.4" cy="356.8" r="2.35" fill="#861c52" fill-opacity="0.8"/><circle cx="454.0" cy="365.3" r="2.35" fill="#861c52" fill-opacity="0.8"/><circle cx="261.9" cy="367.7" r="2.35" fill="#861c52" fill-opacity="0.8"/><circle cx="449.3" cy="348.8" r="2.35" fill="#861c52" fill-opacity="0.8"/><circle cx="210.7" cy="355.6" r="2.35" fill="#861c52" fill-opacity="0.8"/><circle cx="554.8" cy="349.4" r="2.35" fill="#861c52" fill-opacity="0.8"/><circle cx="363.3" cy="367.7" r="2.35" fill="#861c52" fill-opacity="0.8"/><circle cx="192.3" cy="340.0" r="2.35" fill="#861c52" fill-opacity="0.8"/><circle cx="177.8" cy="348.0" r="2.35" fill="#861c52" fill-opacity="0.8"/><circle cx="250.0" cy="363.3" r="2.35" fill="#861c52" fill-opacity="0.8"/><circle cx="229.3" cy="362.9" r="2.35" fill="#861c52" fill-opacity="0.8"/><circle cx="261.0" cy="366.1" r="2.35" fill="#861c52" fill-opacity="0.8"/><circle cx="630.5" cy="366.6" r="2.35" fill="#861c52" fill-opacity="0.8"/><circle cx="144.9" cy="366.8" r="2.35" fill="#861c52" fill-opacity="0.8"/><circle cx="611.9" cy="358.1" r="2.35" fill="#861c52" fill-opacity="0.8"/><circle cx="339.5" cy="331.5" r="2.35" fill="#861c52" fill-opacity="0.8"/><circle cx="608.5" cy="374.3" r="2.35" fill="#861c52" fill-opacity="0.8"/><circle cx="465.9" cy="362.4" r="2.35" fill="#861c52" fill-opacity="0.8"/><circle cx="207.6" cy="368.6" r="2.35" fill="#861c52" fill-opacity="0.8"/><circle cx="165.7" cy="365.2" r="2.35" fill="#861c52" fill-opacity="0.8"/><circle cx="614.3" cy="369.3" r="2.35" fill="#861c52" fill-opacity="0.8"/><circle cx="522.9" cy="361.5" r="2.35" fill="#861c52" fill-opacity="0.8"/><circle cx="536.1" cy="360.6" r="2.35" fill="#861c52" fill-opacity="0.8"/><circle cx="158.0" cy="355.4" r="2.35" fill="#861c52" fill-opacity="0.8"/><circle cx="383.0" cy="345.7" r="2.35" fill="#861c52" fill-opacity="0.8"/><circle cx="325.0" cy="372.9" r="2.35" fill="#861c52" fill-opacity="0.8"/><circle cx="188.4" cy="368.3" r="2.35" fill="#861c52" fill-opacity="0.8"/><circle cx="605.5" cy="360.6" r="2.35" fill="#861c52" fill-opacity="0.8"/><circle cx="109.3" cy="374.7" r="2.35" fill="#861c52" fill-opacity="0.8"/><circle cx="334.4" cy="369.6" r="2.35" fill="#861c52" fill-opacity="0.8"/><circle cx="393.7" cy="335.5" r="2.35" fill="#861c52" fill-opacity="0.8"/><circle cx="135.8" cy="365.6" r="2.35" fill="#861c52" fill-opacity="0.8"/><circle cx="280.3" cy="360.3" r="2.35" fill="#861c52" fill-opacity="0.8"/><circle cx="454.7" cy="374.9" r="2.35" fill="#861c52" fill-opacity="0.8"/><circle cx="591.8" cy="365.3" r="2.35" fill="#861c52" fill-opacity="0.8"/><circle cx="228.6" cy="366.8" r="2.35" fill="#861c52" fill-opacity="0.8"/><circle cx="225.5" cy="339.5" r="2.35" fill="#861c52" fill-opacity="0.8"/><circle cx="555.7" cy="349.4" r="2.35" fill="#861c52" fill-opacity="0.8"/><circle cx="582.0" cy="374.4" r="2.35" fill="#861c52" fill-opacity="0.8"/><circle cx="398.4" cy="343.2" r="2.35" fill="#861c52" fill-opacity="0.8"/><circle cx="544.2" cy="351.8" r="2.35" fill="#861c52" fill-opacity="0.8"/><circle cx="141.5" cy="363.7" r="2.35" fill="#861c52" fill-opacity="0.8"/><circle cx="239.5" cy="374.2" r="2.35" fill="#861c52" fill-opacity="0.8"/><circle cx="466.3" cy="367.4" r="2.35" fill="#861c52" fill-opacity="0.8"/><circle cx="117.9" cy="339.8" r="2.35" fill="#861c52" fill-opacity="0.8"/><circle cx="154.8" cy="373.9" r="2.35" fill="#861c52" fill-opacity="0.8"/><circle cx="344.4" cy="366.1" r="2.35" fill="#861c52" fill-opacity="0.8"/><circle cx="200.6" cy="365.6" r="2.35" fill="#861c52" fill-opacity="0.8"/><circle cx="625.7" cy="372.6" r="2.35" fill="#861c52" fill-opacity="0.8"/><circle cx="292.8" cy="358.2" r="2.35" fill="#861c52" fill-opacity="0.8"/><circle cx="522.9" cy="368.0" r="2.35" fill="#861c52" fill-opacity="0.8"/><circle cx="239.4" cy="359.4" r="2.35" fill="#861c52" fill-opacity="0.8"/><circle cx="568.4" cy="374.2" r="2.35" fill="#861c52" fill-opacity="0.8"/><circle cx="112.8" cy="369.3" r="2.35" fill="#861c52" fill-opacity="0.8"/><circle cx="378.5" cy="372.8" r="2.35" fill="#861c52" fill-opacity="0.8"/><circle cx="128.1" cy="363.7" r="2.35" fill="#861c52" fill-opacity="0.8"/><circle cx="635.1" cy="363.3" r="2.35" fill="#861c52" fill-opacity="0.8"/><circle cx="128.9" cy="357.9" r="2.35" fill="#861c52" fill-opacity="0.8"/><circle cx="177.9" cy="360.5" r="2.35" fill="#861c52" fill-opacity="0.8"/><circle cx="517.8" cy="351.1" r="2.35" fill="#861c52" fill-opacity="0.8"/><circle cx="451.5" cy="365.9" r="2.35" fill="#861c52" fill-opacity="0.8"/><circle cx="299.1" cy="329.0" r="2.35" fill="#861c52" fill-opacity="0.8"/><circle cx="239.9" cy="369.1" r="2.35" fill="#861c52" fill-opacity="0.8"/><circle cx="564.2" cy="359.9" r="2.35" fill="#861c52" fill-opacity="0.8"/><circle cx="420.4" cy="359.5" r="2.35" fill="#861c52" fill-opacity="0.8"/><circle cx="194.0" cy="369.0" r="2.35" fill="#861c52" fill-opacity="0.8"/><circle cx="462.7" cy="367.1" r="2.35" fill="#861c52" fill-opacity="0.8"/><circle cx="198.5" cy="367.9" r="2.35" fill="#861c52" fill-opacity="0.8"/><circle cx="518.8" cy="370.1" r="2.35" fill="#861c52" fill-opacity="0.8"/><circle cx="447.5" cy="370.4" r="2.35" fill="#861c52" fill-opacity="0.8"/><circle cx="632.0" cy="366.7" r="2.35" fill="#861c52" fill-opacity="0.8"/><circle cx="94.3" cy="361.3" r="2.35" fill="#861c52" fill-opacity="0.8"/><circle cx="487.7" cy="367.4" r="2.35" fill="#861c52" fill-opacity="0.8"/><circle cx="352.1" cy="362.8" r="2.35" fill="#861c52" fill-opacity="0.8"/><circle cx="619.5" cy="366.1" r="2.35" fill="#861c52" fill-opacity="0.8"/><circle cx="249.8" cy="362.6" r="2.35" fill="#861c52" fill-opacity="0.8"/><circle cx="532.1" cy="348.2" r="2.35" fill="#861c52" fill-opacity="0.8"/><circle cx="452.1" cy="367.0" r="2.35" fill="#861c52" fill-opacity="0.8"/><circle cx="221.9" cy="353.6" r="2.35" fill="#861c52" fill-opacity="0.8"/><circle cx="234.9" cy="332.5" r="2.35" fill="#861c52" fill-opacity="0.8"/><circle cx="577.1" cy="359.9" r="2.35" fill="#861c52" fill-opacity="0.8"/><circle cx="286.2" cy="366.9" r="2.35" fill="#861c52" fill-opacity="0.8"/><circle cx="259.5" cy="358.1" r="2.35" fill="#861c52" fill-opacity="0.8"/><circle cx="472.9" cy="368.8" r="2.35" fill="#861c52" fill-opacity="0.8"/><circle cx="267.2" cy="364.8" r="2.35" fill="#861c52" fill-opacity="0.8"/><circle cx="172.2" cy="350.6" r="2.35" fill="#861c52" fill-opacity="0.8"/><circle cx="467.9" cy="352.4" r="2.35" fill="#861c52" fill-opacity="0.8"/><circle cx="160.3" cy="374.4" r="2.35" fill="#861c52" fill-opacity="0.8"/><circle cx="401.0" cy="373.3" r="2.35" fill="#861c52" fill-opacity="0.8"/><circle cx="610.0" cy="365.7" r="2.35" fill="#861c52" fill-opacity="0.8"/><circle cx="446.9" cy="366.2" r="2.35" fill="#861c52" fill-opacity="0.8"/><circle cx="382.2" cy="366.3" r="2.35" fill="#861c52" fill-opacity="0.8"/><circle cx="453.7" cy="353.9" r="2.35" fill="#861c52" fill-opacity="0.8"/><circle cx="564.3" cy="365.1" r="2.35" fill="#861c52" fill-opacity="0.8"/><circle cx="553.4" cy="368.9" r="2.35" fill="#861c52" fill-opacity="0.8"/><circle cx="449.6" cy="365.3" r="2.35" fill="#861c52" fill-opacity="0.8"/><circle cx="375.9" cy="357.8" r="2.35" fill="#861c52" fill-opacity="0.8"/><circle cx="223.3" cy="344.7" r="2.35" fill="#861c52" fill-opacity="0.8"/><circle cx="621.3" cy="358.3" r="2.35" fill="#861c52" fill-opacity="0.8"/><circle cx="460.4" cy="352.3" r="2.35" fill="#861c52" fill-opacity="0.8"/><circle cx="449.9" cy="352.8" r="2.35" fill="#861c52" fill-opacity="0.8"/><circle cx="236.0" cy="370.0" r="2.35" fill="#861c52" fill-opacity="0.8"/><circle cx="266.1" cy="335.2" r="2.35" fill="#861c52" fill-opacity="0.8"/><circle cx="618.0" cy="362.7" r="2.35" fill="#861c52" fill-opacity="0.8"/><circle cx="568.9" cy="344.9" r="2.35" fill="#861c52" fill-opacity="0.8"/><circle cx="610.7" cy="369.1" r="2.35" fill="#861c52" fill-opacity="0.8"/><circle cx="590.1" cy="370.0" r="2.35" fill="#861c52" fill-opacity="0.8"/><circle cx="233.8" cy="365.7" r="2.35" fill="#861c52" fill-opacity="0.8"/><circle cx="323.2" cy="368.8" r="2.35" fill="#861c52" fill-opacity="0.8"/><circle cx="89.2" cy="374.5" r="2.35" fill="#861c52" fill-opacity="0.8"/><circle cx="632.1" cy="363.6" r="2.35" fill="#861c52" fill-opacity="0.8"/><circle cx="170.0" cy="361.1" r="2.35" fill="#861c52" fill-opacity="0.8"/><circle cx="627.2" cy="363.4" r="2.35" fill="#861c52" fill-opacity="0.8"/><circle cx="548.6" cy="368.2" r="2.35" fill="#861c52" fill-opacity="0.8"/><circle cx="186.5" cy="368.0" r="2.35" fill="#861c52" fill-opacity="0.8"/><circle cx="379.4" cy="359.6" r="2.35" fill="#861c52" fill-opacity="0.8"/><circle cx="486.1" cy="362.5" r="2.35" fill="#861c52" fill-opacity="0.8"/><circle cx="193.9" cy="370.5" r="2.35" fill="#861c52" fill-opacity="0.8"/><circle cx="266.2" cy="343.2" r="2.35" fill="#861c52" fill-opacity="0.8"/><circle cx="232.5" cy="374.4" r="2.35" fill="#861c52" fill-opacity="0.8"/><circle cx="385.2" cy="369.0" r="2.35" fill="#861c52" fill-opacity="0.8"/><circle cx="437.5" cy="334.2" r="2.35" fill="#861c52" fill-opacity="0.8"/><circle cx="191.4" cy="361.2" r="2.35" fill="#861c52" fill-opacity="0.8"/><circle cx="222.7" cy="364.8" r="2.35" fill="#861c52" fill-opacity="0.8"/><circle cx="160.3" cy="362.4" r="2.35" fill="#861c52" fill-opacity="0.8"/><circle cx="445.8" cy="373.4" r="2.35" fill="#861c52" fill-opacity="0.8"/><circle cx="613.3" cy="372.4" r="2.35" fill="#861c52" fill-opacity="0.8"/><circle cx="212.8" cy="359.3" r="2.35" fill="#861c52" fill-opacity="0.8"/><circle cx="614.9" cy="351.5" r="2.35" fill="#861c52" fill-opacity="0.8"/><circle cx="198.7" cy="363.5" r="2.35" fill="#861c52" fill-opacity="0.8"/><circle cx="449.8" cy="360.6" r="2.35" fill="#861c52" fill-opacity="0.8"/><circle cx="520.1" cy="325.6" r="2.35" fill="#861c52" fill-opacity="0.8"/><circle cx="305.9" cy="332.6" r="2.35" fill="#861c52" fill-opacity="0.8"/><circle cx="578.0" cy="349.9" r="2.35" fill="#861c52" fill-opacity="0.8"/><circle cx="354.3" cy="370.6" r="2.35" fill="#861c52" fill-opacity="0.8"/><circle cx="328.8" cy="352.6" r="2.35" fill="#861c52" fill-opacity="0.8"/><circle cx="227.9" cy="373.5" r="2.35" fill="#861c52" fill-opacity="0.8"/><circle cx="629.3" cy="351.3" r="2.35" fill="#861c52" fill-opacity="0.8"/><circle cx="473.8" cy="370.4" r="2.35" fill="#861c52" fill-opacity="0.8"/><circle cx="446.9" cy="348.0" r="2.35" fill="#861c52" fill-opacity="0.8"/><circle cx="268.6" cy="357.7" r="2.35" fill="#861c52" fill-opacity="0.8"/><circle cx="581.6" cy="371.9" r="2.35" fill="#861c52" fill-opacity="0.8"/><circle cx="578.8" cy="361.2" r="2.35" fill="#861c52" fill-opacity="0.8"/><circle cx="403.6" cy="344.2" r="2.35" fill="#861c52" fill-opacity="0.8"/><circle cx="286.1" cy="322.0" r="2.35" fill="#861c52" fill-opacity="0.8"/><circle cx="425.5" cy="365.9" r="2.35" fill="#861c52" fill-opacity="0.8"/><circle cx="243.0" cy="374.8" r="2.35" fill="#861c52" fill-opacity="0.8"/><circle cx="509.5" cy="369.7" r="2.35" fill="#861c52" fill-opacity="0.8"/><circle cx="212.6" cy="361.9" r="2.35" fill="#861c52" fill-opacity="0.8"/><circle cx="312.0" cy="351.9" r="2.35" fill="#861c52" fill-opacity="0.8"/><circle cx="204.1" cy="342.3" r="2.35" fill="#861c52" fill-opacity="0.8"/><circle cx="522.4" cy="369.4" r="2.35" fill="#861c52" fill-opacity="0.8"/><circle cx="355.1" cy="349.6" r="2.35" fill="#861c52" fill-opacity="0.8"/><circle cx="514.2" cy="371.5" r="2.35" fill="#861c52" fill-opacity="0.8"/><circle cx="216.9" cy="354.0" r="2.35" fill="#861c52" fill-opacity="0.8"/><circle cx="553.8" cy="366.4" r="2.35" fill="#861c52" fill-opacity="0.8"/><circle cx="415.3" cy="371.5" r="2.35" fill="#861c52" fill-opacity="0.8"/><circle cx="208.8" cy="356.6" r="2.35" fill="#861c52" fill-opacity="0.8"/><circle cx="496.5" cy="371.3" r="2.35" fill="#861c52" fill-opacity="0.8"/><circle cx="375.6" cy="355.1" r="2.35" fill="#861c52" fill-opacity="0.8"/><circle cx="465.5" cy="361.8" r="2.35" fill="#861c52" fill-opacity="0.8"/><circle cx="107.3" cy="368.5" r="2.35" fill="#861c52" fill-opacity="0.8"/><circle cx="591.0" cy="368.8" r="2.35" fill="#861c52" fill-opacity="0.8"/><circle cx="472.5" cy="375.1" r="2.35" fill="#861c52" fill-opacity="0.8"/><circle cx="318.7" cy="372.7" r="2.35" fill="#861c52" fill-opacity="0.8"/><circle cx="342.0" cy="369.3" r="2.35" fill="#861c52" fill-opacity="0.8"/><circle cx="428.4" cy="371.0" r="2.35" fill="#861c52" fill-opacity="0.8"/><circle cx="195.8" cy="371.8" r="2.35" fill="#861c52" fill-opacity="0.8"/><circle cx="557.8" cy="345.6" r="2.35" fill="#861c52" fill-opacity="0.8"/><circle cx="484.9" cy="355.0" r="2.35" fill="#861c52" fill-opacity="0.8"/><circle cx="549.3" cy="358.5" r="2.35" fill="#861c52" fill-opacity="0.8"/><circle cx="224.8" cy="344.8" r="2.35" fill="#861c52" fill-opacity="0.8"/><circle cx="278.4" cy="356.3" r="2.35" fill="#861c52" fill-opacity="0.8"/><circle cx="469.9" cy="352.0" r="2.35" fill="#861c52" fill-opacity="0.8"/><circle cx="599.9" cy="367.4" r="2.35" fill="#861c52" fill-opacity="0.8"/><circle cx="402.5" cy="361.9" r="2.35" fill="#861c52" fill-opacity="0.8"/><circle cx="273.1" cy="356.5" r="2.35" fill="#861c52" fill-opacity="0.8"/><circle cx="404.4" cy="358.3" r="2.35" fill="#861c52" fill-opacity="0.8"/><circle cx="189.6" cy="346.8" r="2.35" fill="#861c52" fill-opacity="0.8"/><circle cx="568.6" cy="359.5" r="2.35" fill="#861c52" fill-opacity="0.8"/><circle cx="169.2" cy="358.7" r="2.35" fill="#861c52" fill-opacity="0.8"/><circle cx="258.1" cy="338.7" r="2.35" fill="#861c52" fill-opacity="0.8"/><circle cx="167.6" cy="366.8" r="2.35" fill="#861c52" fill-opacity="0.8"/><circle cx="607.6" cy="370.5" r="2.35" fill="#861c52" fill-opacity="0.8"/><circle cx="375.2" cy="366.4" r="2.35" fill="#861c52" fill-opacity="0.8"/><circle cx="134.9" cy="360.9" r="2.35" fill="#861c52" fill-opacity="0.8"/><circle cx="605.1" cy="373.3" r="2.35" fill="#861c52" fill-opacity="0.8"/><circle cx="307.0" cy="359.2" r="2.35" fill="#861c52" fill-opacity="0.8"/><circle cx="348.4" cy="366.5" r="2.35" fill="#861c52" fill-opacity="0.8"/><circle cx="627.8" cy="362.8" r="2.35" fill="#861c52" fill-opacity="0.8"/><circle cx="545.6" cy="358.6" r="2.35" fill="#861c52" fill-opacity="0.8"/><circle cx="291.4" cy="360.3" r="2.35" fill="#861c52" fill-opacity="0.8"/><circle cx="124.7" cy="363.4" r="2.35" fill="#861c52" fill-opacity="0.8"/><circle cx="382.8" cy="370.0" r="2.35" fill="#861c52" fill-opacity="0.8"/><circle cx="391.3" cy="366.6" r="2.35" fill="#861c52" fill-opacity="0.8"/><circle cx="330.7" cy="349.3" r="2.35" fill="#861c52" fill-opacity="0.8"/><circle cx="223.3" cy="369.6" r="2.35" fill="#861c52" fill-opacity="0.8"/><circle cx="446.4" cy="367.9" r="2.35" fill="#861c52" fill-opacity="0.8"/><circle cx="397.2" cy="366.0" r="2.35" fill="#861c52" fill-opacity="0.8"/><circle cx="521.1" cy="342.7" r="2.35" fill="#861c52" fill-opacity="0.8"/><circle cx="266.0" cy="368.4" r="2.35" fill="#861c52" fill-opacity="0.8"/><circle cx="125.6" cy="358.8" r="2.35" fill="#861c52" fill-opacity="0.8"/><circle cx="163.7" cy="357.8" r="2.35" fill="#861c52" fill-opacity="0.8"/><circle cx="638.3" cy="361.0" r="2.35" fill="#861c52" fill-opacity="0.8"/><circle cx="417.7" cy="356.8" r="2.35" fill="#861c52" fill-opacity="0.8"/><circle cx="446.2" cy="353.1" r="2.35" fill="#861c52" fill-opacity="0.8"/><circle cx="525.3" cy="367.4" r="2.35" fill="#861c52" fill-opacity="0.8"/><circle cx="339.4" cy="368.6" r="2.35" fill="#861c52" fill-opacity="0.8"/><circle cx="444.9" cy="360.5" r="2.35" fill="#861c52" fill-opacity="0.8"/><circle cx="375.6" cy="364.8" r="2.35" fill="#861c52" fill-opacity="0.8"/><circle cx="557.1" cy="359.7" r="2.35" fill="#861c52" fill-opacity="0.8"/><circle cx="142.6" cy="375.3" r="2.35" fill="#861c52" fill-opacity="0.8"/><circle cx="366.2" cy="353.7" r="2.35" fill="#861c52" fill-opacity="0.8"/><circle cx="444.7" cy="366.9" r="2.35" fill="#861c52" fill-opacity="0.8"/><circle cx="160.4" cy="351.8" r="2.35" fill="#861c52" fill-opacity="0.8"/><circle cx="464.8" cy="369.6" r="2.35" fill="#861c52" fill-opacity="0.8"/><circle cx="358.6" cy="367.4" r="2.35" fill="#861c52" fill-opacity="0.8"/><circle cx="268.9" cy="342.7" r="2.35" fill="#861c52" fill-opacity="0.8"/><circle cx="114.7" cy="365.3" r="2.35" fill="#861c52" fill-opacity="0.8"/><circle cx="231.5" cy="343.3" r="2.35" fill="#861c52" fill-opacity="0.8"/><circle cx="290.3" cy="357.4" r="2.35" fill="#861c52" fill-opacity="0.8"/><circle cx="154.7" cy="333.4" r="2.35" fill="#861c52" fill-opacity="0.8"/><circle cx="522.5" cy="364.7" r="2.35" fill="#861c52" fill-opacity="0.8"/><circle cx="428.7" cy="372.1" r="2.35" fill="#861c52" fill-opacity="0.8"/><circle cx="573.9" cy="371.8" r="2.35" fill="#861c52" fill-opacity="0.8"/><circle cx="534.3" cy="366.3" r="2.35" fill="#861c52" fill-opacity="0.8"/><circle cx="111.7" cy="373.1" r="2.35" fill="#861c52" fill-opacity="0.8"/><circle cx="565.8" cy="351.1" r="2.35" fill="#861c52" fill-opacity="0.8"/><circle cx="277.5" cy="339.7" r="2.35" fill="#861c52" fill-opacity="0.8"/><circle cx="461.7" cy="346.9" r="2.35" fill="#861c52" fill-opacity="0.8"/><circle cx="93.0" cy="372.5" r="2.35" fill="#861c52" fill-opacity="0.8"/><circle cx="105.6" cy="369.8" r="2.35" fill="#861c52" fill-opacity="0.8"/><circle cx="229.7" cy="372.7" r="2.35" fill="#861c52" fill-opacity="0.8"/><circle cx="135.1" cy="371.6" r="2.35" fill="#861c52" fill-opacity="0.8"/><circle cx="507.6" cy="361.9" r="2.35" fill="#861c52" fill-opacity="0.8"/><circle cx="530.3" cy="367.6" r="2.35" fill="#861c52" fill-opacity="0.8"/><circle cx="531.1" cy="367.9" r="2.35" fill="#861c52" fill-opacity="0.8"/><circle cx="560.3" cy="362.6" r="2.35" fill="#861c52" fill-opacity="0.8"/><circle cx="134.1" cy="354.2" r="2.35" fill="#861c52" fill-opacity="0.8"/><circle cx="287.8" cy="349.2" r="2.35" fill="#861c52" fill-opacity="0.8"/><circle cx="601.4" cy="363.3" r="2.35" fill="#861c52" fill-opacity="0.8"/><circle cx="496.0" cy="343.4" r="2.35" fill="#861c52" fill-opacity="0.8"/><circle cx="304.8" cy="341.5" r="2.35" fill="#861c52" fill-opacity="0.8"/><circle cx="591.6" cy="372.6" r="2.35" fill="#861c52" fill-opacity="0.8"/><circle cx="560.9" cy="367.1" r="2.35" fill="#861c52" fill-opacity="0.8"/><circle cx="593.9" cy="374.1" r="2.35" fill="#861c52" fill-opacity="0.8"/><circle cx="499.7" cy="355.6" r="2.35" fill="#861c52" fill-opacity="0.8"/><circle cx="415.8" cy="363.2" r="2.35" fill="#861c52" fill-opacity="0.8"/><circle cx="175.6" cy="367.4" r="2.35" fill="#861c52" fill-opacity="0.8"/><circle cx="395.0" cy="359.8" r="2.35" fill="#861c52" fill-opacity="0.8"/><circle cx="451.5" cy="367.7" r="2.35" fill="#861c52" fill-opacity="0.8"/><circle cx="377.1" cy="342.9" r="2.35" fill="#861c52" fill-opacity="0.8"/><circle cx="428.8" cy="369.2" r="2.35" fill="#861c52" fill-opacity="0.8"/><circle cx="326.1" cy="343.5" r="2.35" fill="#861c52" fill-opacity="0.8"/><circle cx="317.5" cy="363.1" r="2.35" fill="#861c52" fill-opacity="0.8"/><circle cx="135.0" cy="338.3" r="2.35" fill="#861c52" fill-opacity="0.8"/><circle cx="174.4" cy="367.1" r="2.35" fill="#861c52" fill-opacity="0.8"/><circle cx="152.7" cy="370.5" r="2.35" fill="#861c52" fill-opacity="0.8"/><circle cx="419.3" cy="362.1" r="2.35" fill="#861c52" fill-opacity="0.8"/><circle cx="465.2" cy="372.9" r="2.35" fill="#861c52" fill-opacity="0.8"/><circle cx="387.1" cy="374.4" r="2.35" fill="#861c52" fill-opacity="0.8"/><circle cx="403.1" cy="365.0" r="2.35" fill="#861c52" fill-opacity="0.8"/><circle cx="435.1" cy="363.9" r="2.35" fill="#861c52" fill-opacity="0.8"/><circle cx="518.9" cy="366.6" r="2.35" fill="#861c52" fill-opacity="0.8"/><circle cx="371.3" cy="367.9" r="2.35" fill="#861c52" fill-opacity="0.8"/><circle cx="154.2" cy="369.6" r="2.35" fill="#861c52" fill-opacity="0.8"/><circle cx="145.9" cy="324.9" r="2.35" fill="#861c52" fill-opacity="0.8"/><circle cx="447.8" cy="335.1" r="2.35" fill="#861c52" fill-opacity="0.8"/><circle cx="559.2" cy="320.1" r="2.35" fill="#861c52" fill-opacity="0.8"/><circle cx="243.9" cy="362.9" r="2.35" fill="#861c52" fill-opacity="0.8"/><circle cx="444.7" cy="354.8" r="2.35" fill="#861c52" fill-opacity="0.8"/><circle cx="270.1" cy="352.3" r="2.35" fill="#861c52" fill-opacity="0.8"/><circle cx="184.8" cy="370.7" r="2.35" fill="#861c52" fill-opacity="0.8"/><circle cx="333.0" cy="355.9" r="2.35" fill="#861c52" fill-opacity="0.8"/><circle cx="461.9" cy="368.1" r="2.35" fill="#861c52" fill-opacity="0.8"/><circle cx="556.3" cy="372.7" r="2.35" fill="#861c52" fill-opacity="0.8"/><circle cx="511.3" cy="357.2" r="2.35" fill="#861c52" fill-opacity="0.8"/><circle cx="290.0" cy="359.6" r="2.35" fill="#861c52" fill-opacity="0.8"/><circle cx="543.2" cy="360.1" r="2.35" fill="#861c52" fill-opacity="0.8"/><circle cx="273.9" cy="332.5" r="2.35" fill="#861c52" fill-opacity="0.8"/><circle cx="337.6" cy="366.1" r="2.35" fill="#861c52" fill-opacity="0.8"/><circle cx="218.9" cy="369.9" r="2.35" fill="#861c52" fill-opacity="0.8"/><circle cx="108.2" cy="375.0" r="2.35" fill="#861c52" fill-opacity="0.8"/><circle cx="174.5" cy="344.9" r="2.35" fill="#861c52" fill-opacity="0.8"/><circle cx="218.9" cy="369.2" r="2.35" fill="#861c52" fill-opacity="0.8"/><circle cx="310.6" cy="363.4" r="2.35" fill="#861c52" fill-opacity="0.8"/><circle cx="163.1" cy="373.8" r="2.35" fill="#861c52" fill-opacity="0.8"/><circle cx="481.7" cy="361.3" r="2.35" fill="#861c52" fill-opacity="0.8"/><circle cx="137.5" cy="366.2" r="2.35" fill="#861c52" fill-opacity="0.8"/><circle cx="455.6" cy="350.7" r="2.35" fill="#861c52" fill-opacity="0.8"/><circle cx="191.4" cy="361.6" r="2.35" fill="#861c52" fill-opacity="0.8"/><circle cx="590.8" cy="365.0" r="2.35" fill="#861c52" fill-opacity="0.8"/><circle cx="378.7" cy="355.2" r="2.35" fill="#861c52" fill-opacity="0.8"/><circle cx="503.9" cy="335.0" r="2.35" fill="#861c52" fill-opacity="0.8"/><circle cx="242.8" cy="365.5" r="2.35" fill="#861c52" fill-opacity="0.8"/><circle cx="613.8" cy="341.3" r="2.35" fill="#861c52" fill-opacity="0.8"/><circle cx="221.2" cy="363.2" r="2.35" fill="#861c52" fill-opacity="0.8"/><circle cx="540.0" cy="360.7" r="2.35" fill="#861c52" fill-opacity="0.8"/><circle cx="275.5" cy="345.5" r="2.35" fill="#861c52" fill-opacity="0.8"/><circle cx="134.6" cy="369.4" r="2.35" fill="#861c52" fill-opacity="0.8"/><circle cx="533.5" cy="370.1" r="2.35" fill="#861c52" fill-opacity="0.8"/><circle cx="262.5" cy="364.7" r="2.35" fill="#861c52" fill-opacity="0.8"/><circle cx="97.3" cy="369.8" r="2.35" fill="#861c52" fill-opacity="0.8"/><circle cx="327.7" cy="358.9" r="2.35" fill="#861c52" fill-opacity="0.8"/><circle cx="185.9" cy="343.2" r="2.35" fill="#861c52" fill-opacity="0.8"/><circle cx="228.5" cy="369.8" r="2.35" fill="#861c52" fill-opacity="0.8"/><circle cx="369.6" cy="365.8" r="2.35" fill="#861c52" fill-opacity="0.8"/><circle cx="228.5" cy="372.0" r="2.35" fill="#861c52" fill-opacity="0.8"/><circle cx="331.8" cy="367.5" r="2.35" fill="#861c52" fill-opacity="0.8"/><circle cx="574.2" cy="369.5" r="2.35" fill="#861c52" fill-opacity="0.8"/><circle cx="513.0" cy="362.7" r="2.35" fill="#861c52" fill-opacity="0.8"/><circle cx="421.9" cy="349.8" r="2.35" fill="#861c52" fill-opacity="0.8"/><circle cx="123.6" cy="370.1" r="2.35" fill="#861c52" fill-opacity="0.8"/><circle cx="222.5" cy="374.3" r="2.35" fill="#861c52" fill-opacity="0.8"/><circle cx="277.7" cy="331.6" r="2.35" fill="#861c52" fill-opacity="0.8"/><circle cx="178.8" cy="359.4" r="2.35" fill="#861c52" fill-opacity="0.8"/><circle cx="236.2" cy="369.0" r="2.35" fill="#861c52" fill-opacity="0.8"/><circle cx="424.1" cy="367.1" r="2.35" fill="#861c52" fill-opacity="0.8"/><circle cx="526.4" cy="365.6" r="2.35" fill="#861c52" fill-opacity="0.8"/><circle cx="504.2" cy="341.9" r="2.35" fill="#861c52" fill-opacity="0.8"/><circle cx="379.8" cy="372.9" r="2.35" fill="#861c52" fill-opacity="0.8"/><circle cx="472.9" cy="370.6" r="2.35" fill="#861c52" fill-opacity="0.8"/><circle cx="192.3" cy="345.8" r="2.35" fill="#861c52" fill-opacity="0.8"/><circle cx="590.8" cy="355.2" r="2.35" fill="#861c52" fill-opacity="0.8"/><circle cx="114.9" cy="356.2" r="2.35" fill="#861c52" fill-opacity="0.8"/><circle cx="585.9" cy="367.1" r="2.35" fill="#861c52" fill-opacity="0.8"/><circle cx="198.3" cy="360.1" r="2.35" fill="#861c52" fill-opacity="0.8"/><circle cx="96.3" cy="360.6" r="2.35" fill="#861c52" fill-opacity="0.8"/><circle cx="352.2" cy="369.1" r="2.35" fill="#861c52" fill-opacity="0.8"/><circle cx="502.2" cy="356.9" r="2.35" fill="#861c52" fill-opacity="0.8"/><circle cx="605.5" cy="371.4" r="2.35" fill="#861c52" fill-opacity="0.8"/><circle cx="445.0" cy="351.5" r="2.35" fill="#861c52" fill-opacity="0.8"/><circle cx="325.2" cy="354.3" r="2.35" fill="#861c52" fill-opacity="0.8"/><circle cx="580.5" cy="371.2" r="2.35" fill="#861c52" fill-opacity="0.8"/><circle cx="138.7" cy="368.2" r="2.35" fill="#861c52" fill-opacity="0.8"/><circle cx="611.4" cy="341.6" r="2.35" fill="#861c52" fill-opacity="0.8"/><circle cx="544.9" cy="360.4" r="2.35" fill="#861c52" fill-opacity="0.8"/><circle cx="120.3" cy="355.3" r="2.35" fill="#861c52" fill-opacity="0.8"/><circle cx="246.9" cy="369.6" r="2.35" fill="#861c52" fill-opacity="0.8"/><circle cx="584.3" cy="352.4" r="2.35" fill="#861c52" fill-opacity="0.8"/><circle cx="126.0" cy="361.8" r="2.35" fill="#861c52" fill-opacity="0.8"/><circle cx="484.3" cy="371.3" r="2.35" fill="#861c52" fill-opacity="0.8"/><circle cx="166.0" cy="374.3" r="2.35" fill="#861c52" fill-opacity="0.8"/><circle cx="347.2" cy="367.9" r="2.35" fill="#861c52" fill-opacity="0.8"/><circle cx="542.0" cy="328.9" r="2.35" fill="#861c52" fill-opacity="0.8"/><circle cx="283.7" cy="367.9" r="2.35" fill="#861c52" fill-opacity="0.8"/><circle cx="615.4" cy="329.0" r="2.35" fill="#861c52" fill-opacity="0.8"/><circle cx="428.0" cy="374.7" r="2.35" fill="#861c52" fill-opacity="0.8"/><circle cx="616.9" cy="338.7" r="2.35" fill="#861c52" fill-opacity="0.8"/><circle cx="382.0" cy="324.3" r="2.35" fill="#861c52" fill-opacity="0.8"/><circle cx="354.7" cy="363.7" r="2.35" fill="#861c52" fill-opacity="0.8"/><circle cx="359.3" cy="357.8" r="2.35" fill="#861c52" fill-opacity="0.8"/><circle cx="612.3" cy="363.3" r="2.35" fill="#861c52" fill-opacity="0.8"/><circle cx="517.7" cy="365.5" r="2.35" fill="#861c52" fill-opacity="0.8"/><circle cx="443.7" cy="355.4" r="2.35" fill="#861c52" fill-opacity="0.8"/><circle cx="228.0" cy="366.2" r="2.35" fill="#861c52" fill-opacity="0.8"/><circle cx="431.4" cy="363.2" r="2.35" fill="#861c52" fill-opacity="0.8"/><circle cx="138.4" cy="362.9" r="2.35" fill="#861c52" fill-opacity="0.8"/><circle cx="591.2" cy="373.0" r="2.35" fill="#861c52" fill-opacity="0.8"/><circle cx="258.6" cy="322.8" r="2.35" fill="#861c52" fill-opacity="0.8"/><circle cx="541.5" cy="361.0" r="2.35" fill="#861c52" fill-opacity="0.8"/><circle cx="432.2" cy="373.9" r="2.35" fill="#861c52" fill-opacity="0.8"/><circle cx="316.2" cy="372.9" r="2.35" fill="#861c52" fill-opacity="0.8"/><circle cx="401.7" cy="351.7" r="2.35" fill="#861c52" fill-opacity="0.8"/><circle cx="325.6" cy="363.3" r="2.35" fill="#861c52" fill-opacity="0.8"/><circle cx="518.2" cy="364.4" r="2.35" fill="#861c52" fill-opacity="0.8"/><circle cx="254.2" cy="366.6" r="2.35" fill="#861c52" fill-opacity="0.8"/><circle cx="371.4" cy="369.0" r="2.35" fill="#861c52" fill-opacity="0.8"/><circle cx="518.9" cy="363.3" r="2.35" fill="#861c52" fill-opacity="0.8"/><circle cx="211.5" cy="320.6" r="2.35" fill="#861c52" fill-opacity="0.8"/><circle cx="565.1" cy="369.8" r="2.35" fill="#861c52" fill-opacity="0.8"/><circle cx="401.5" cy="371.8" r="2.35" fill="#861c52" fill-opacity="0.8"/><circle cx="243.9" cy="331.9" r="2.35" fill="#861c52" fill-opacity="0.8"/><circle cx="313.8" cy="334.2" r="2.35" fill="#861c52" fill-opacity="0.8"/><circle cx="511.0" cy="370.7" r="2.35" fill="#861c52" fill-opacity="0.8"/><circle cx="110.3" cy="369.7" r="2.35" fill="#861c52" fill-opacity="0.8"/><circle cx="295.0" cy="353.4" r="2.35" fill="#861c52" fill-opacity="0.8"/><circle cx="226.6" cy="354.2" r="2.35" fill="#861c52" fill-opacity="0.8"/><circle cx="590.0" cy="374.5" r="2.35" fill="#861c52" fill-opacity="0.8"/><circle cx="334.9" cy="352.4" r="2.35" fill="#861c52" fill-opacity="0.8"/><circle cx="634.3" cy="350.8" r="2.35" fill="#861c52" fill-opacity="0.8"/><circle cx="445.6" cy="375.7" r="2.35" fill="#861c52" fill-opacity="0.8"/><circle cx="561.7" cy="363.4" r="2.35" fill="#861c52" fill-opacity="0.8"/><circle cx="141.6" cy="366.9" r="2.35" fill="#861c52" fill-opacity="0.8"/><circle cx="548.8" cy="365.1" r="2.35" fill="#861c52" fill-opacity="0.8"/><circle cx="475.6" cy="355.1" r="2.35" fill="#861c52" fill-opacity="0.8"/><circle cx="568.4" cy="366.0" r="2.35" fill="#861c52" fill-opacity="0.8"/><circle cx="419.0" cy="353.2" r="2.35" fill="#861c52" fill-opacity="0.8"/><circle cx="304.2" cy="358.6" r="2.35" fill="#861c52" fill-opacity="0.8"/><circle cx="166.6" cy="369.1" r="2.35" fill="#861c52" fill-opacity="0.8"/><circle cx="587.6" cy="361.3" r="2.35" fill="#861c52" fill-opacity="0.8"/><circle cx="99.1" cy="366.8" r="2.35" fill="#861c52" fill-opacity="0.8"/><circle cx="427.4" cy="366.6" r="2.35" fill="#861c52" fill-opacity="0.8"/><circle cx="344.5" cy="373.8" r="2.35" fill="#861c52" fill-opacity="0.8"/><circle cx="144.2" cy="359.2" r="2.35" fill="#861c52" fill-opacity="0.8"/><circle cx="385.9" cy="373.7" r="2.35" fill="#861c52" fill-opacity="0.8"/><circle cx="571.7" cy="361.6" r="2.35" fill="#861c52" fill-opacity="0.8"/><circle cx="540.0" cy="362.6" r="2.35" fill="#861c52" fill-opacity="0.8"/><circle cx="213.1" cy="368.8" r="2.35" fill="#861c52" fill-opacity="0.8"/><circle cx="183.5" cy="372.0" r="2.35" fill="#861c52" fill-opacity="0.8"/><circle cx="447.4" cy="363.1" r="2.35" fill="#861c52" fill-opacity="0.8"/><circle cx="582.4" cy="371.6" r="2.35" fill="#861c52" fill-opacity="0.8"/><circle cx="465.5" cy="361.8" r="2.35" fill="#861c52" fill-opacity="0.8"/><circle cx="540.0" cy="365.4" r="2.35" fill="#861c52" fill-opacity="0.8"/><circle cx="328.4" cy="353.8" r="2.35" fill="#861c52" fill-opacity="0.8"/><circle cx="218.7" cy="367.6" r="2.35" fill="#861c52" fill-opacity="0.8"/><circle cx="103.7" cy="369.0" r="2.35" fill="#861c52" fill-opacity="0.8"/><circle cx="577.4" cy="367.3" r="2.35" fill="#861c52" fill-opacity="0.8"/><circle cx="426.4" cy="349.1" r="2.35" fill="#861c52" fill-opacity="0.8"/><circle cx="494.0" cy="373.3" r="2.35" fill="#861c52" fill-opacity="0.8"/><circle cx="357.7" cy="361.4" r="2.35" fill="#861c52" fill-opacity="0.8"/><circle cx="94.4" cy="368.0" r="2.35" fill="#861c52" fill-opacity="0.8"/><circle cx="565.7" cy="333.1" r="2.35" fill="#861c52" fill-opacity="0.8"/><circle cx="239.6" cy="365.0" r="2.35" fill="#861c52" fill-opacity="0.8"/><circle cx="442.8" cy="372.5" r="2.35" fill="#861c52" fill-opacity="0.8"/><circle cx="614.1" cy="366.0" r="2.35" fill="#861c52" fill-opacity="0.8"/><circle cx="318.5" cy="371.8" r="2.35" fill="#861c52" fill-opacity="0.8"/><circle cx="585.4" cy="365.8" r="2.35" fill="#861c52" fill-opacity="0.8"/><circle cx="216.2" cy="370.4" r="2.35" fill="#861c52" fill-opacity="0.8"/><circle cx="229.5" cy="373.2" r="2.35" fill="#861c52" fill-opacity="0.8"/><circle cx="395.8" cy="355.9" r="2.35" fill="#861c52" fill-opacity="0.8"/><circle cx="514.3" cy="371.5" r="2.35" fill="#861c52" fill-opacity="0.8"/><circle cx="538.3" cy="331.6" r="2.35" fill="#861c52" fill-opacity="0.8"/><circle cx="497.9" cy="344.1" r="2.35" fill="#861c52" fill-opacity="0.8"/><circle cx="170.8" cy="351.2" r="2.35" fill="#861c52" fill-opacity="0.8"/><circle cx="532.3" cy="367.5" r="2.35" fill="#861c52" fill-opacity="0.8"/><circle cx="153.0" cy="371.2" r="2.35" fill="#861c52" fill-opacity="0.8"/><circle cx="251.0" cy="364.9" r="2.35" fill="#861c52" fill-opacity="0.8"/><circle cx="513.1" cy="353.5" r="2.35" fill="#861c52" fill-opacity="0.8"/><circle cx="440.0" cy="372.7" r="2.35" fill="#861c52" fill-opacity="0.8"/><circle cx="597.1" cy="365.0" r="2.35" fill="#861c52" fill-opacity="0.8"/><circle cx="309.8" cy="372.5" r="2.35" fill="#861c52" fill-opacity="0.8"/><circle cx="331.8" cy="331.0" r="2.35" fill="#861c52" fill-opacity="0.8"/><circle cx="170.0" cy="354.6" r="2.35" fill="#861c52" fill-opacity="0.8"/><circle cx="198.2" cy="344.7" r="2.35" fill="#861c52" fill-opacity="0.8"/><circle cx="321.7" cy="375.6" r="2.35" fill="#861c52" fill-opacity="0.8"/><circle cx="638.2" cy="366.0" r="2.35" fill="#861c52" fill-opacity="0.8"/><circle cx="299.8" cy="368.9" r="2.35" fill="#861c52" fill-opacity="0.8"/><circle cx="523.1" cy="352.4" r="2.35" fill="#861c52" fill-opacity="0.8"/><circle cx="363.0" cy="367.6" r="2.35" fill="#861c52" fill-opacity="0.8"/><circle cx="211.8" cy="370.5" r="2.35" fill="#861c52" fill-opacity="0.8"/><circle cx="553.1" cy="367.5" r="2.35" fill="#861c52" fill-opacity="0.8"/><circle cx="95.7" cy="359.1" r="2.35" fill="#861c52" fill-opacity="0.8"/><circle cx="331.0" cy="359.7" r="2.35" fill="#861c52" fill-opacity="0.8"/><circle cx="214.6" cy="367.4" r="2.35" fill="#861c52" fill-opacity="0.8"/><circle cx="635.6" cy="359.1" r="2.35" fill="#861c52" fill-opacity="0.8"/><circle cx="401.6" cy="330.8" r="2.35" fill="#861c52" fill-opacity="0.8"/><circle cx="547.8" cy="371.3" r="2.35" fill="#861c52" fill-opacity="0.8"/><circle cx="573.6" cy="359.3" r="2.35" fill="#861c52" fill-opacity="0.8"/><circle cx="591.1" cy="322.3" r="2.35" fill="#861c52" fill-opacity="0.8"/><circle cx="367.1" cy="352.5" r="2.35" fill="#861c52" fill-opacity="0.8"/><circle cx="105.5" cy="372.3" r="2.35" fill="#861c52" fill-opacity="0.8"/><circle cx="160.6" cy="371.7" r="2.35" fill="#861c52" fill-opacity="0.8"/><circle cx="149.8" cy="375.4" r="2.35" fill="#861c52" fill-opacity="0.8"/><circle cx="617.9" cy="373.6" r="2.35" fill="#861c52" fill-opacity="0.8"/><circle cx="163.0" cy="348.7" r="2.35" fill="#861c52" fill-opacity="0.8"/><circle cx="567.1" cy="362.9" r="2.35" fill="#861c52" fill-opacity="0.8"/><circle cx="559.1" cy="351.2" r="2.35" fill="#861c52" fill-opacity="0.8"/><circle cx="522.8" cy="361.4" r="2.35" fill="#861c52" fill-opacity="0.8"/><circle cx="227.1" cy="346.7" r="2.35" fill="#861c52" fill-opacity="0.8"/><circle cx="634.4" cy="351.6" r="2.35" fill="#861c52" fill-opacity="0.8"/><circle cx="154.1" cy="374.8" r="2.35" fill="#861c52" fill-opacity="0.8"/><circle cx="592.1" cy="369.3" r="2.35" fill="#861c52" fill-opacity="0.8"/><circle cx="622.7" cy="366.1" r="2.35" fill="#861c52" fill-opacity="0.8"/><circle cx="109.8" cy="362.2" r="2.35" fill="#861c52" fill-opacity="0.8"/><circle cx="133.5" cy="375.7" r="2.35" fill="#861c52" fill-opacity="0.8"/><circle cx="410.6" cy="354.3" r="2.35" fill="#861c52" fill-opacity="0.8"/><circle cx="507.5" cy="346.0" r="2.35" fill="#861c52" fill-opacity="0.8"/><circle cx="150.2" cy="360.6" r="2.35" fill="#861c52" fill-opacity="0.8"/><circle cx="101.9" cy="374.8" r="2.35" fill="#861c52" fill-opacity="0.8"/><circle cx="102.1" cy="363.9" r="2.35" fill="#861c52" fill-opacity="0.8"/><circle cx="277.2" cy="347.4" r="2.35" fill="#861c52" fill-opacity="0.8"/><circle cx="421.1" cy="363.8" r="2.35" fill="#861c52" fill-opacity="0.8"/><circle cx="311.7" cy="359.1" r="2.35" fill="#861c52" fill-opacity="0.8"/><circle cx="211.3" cy="342.5" r="2.35" fill="#861c52" fill-opacity="0.8"/><circle cx="266.9" cy="362.4" r="2.35" fill="#861c52" fill-opacity="0.8"/><circle cx="595.4" cy="343.9" r="2.35" fill="#861c52" fill-opacity="0.8"/><circle cx="356.6" cy="331.2" r="2.35" fill="#861c52" fill-opacity="0.8"/><circle cx="197.3" cy="360.9" r="2.35" fill="#861c52" fill-opacity="0.8"/><circle cx="217.8" cy="367.0" r="2.35" fill="#861c52" fill-opacity="0.8"/><circle cx="436.6" cy="365.9" r="2.35" fill="#861c52" fill-opacity="0.8"/><circle cx="530.7" cy="347.9" r="2.35" fill="#861c52" fill-opacity="0.8"/><circle cx="406.2" cy="364.7" r="2.35" fill="#861c52" fill-opacity="0.8"/><circle cx="487.0" cy="372.2" r="2.35" fill="#861c52" fill-opacity="0.8"/><circle cx="502.8" cy="367.9" r="2.35" fill="#861c52" fill-opacity="0.8"/><circle cx="618.7" cy="367.1" r="2.35" fill="#861c52" fill-opacity="0.8"/><circle cx="391.9" cy="363.7" r="2.35" fill="#861c52" fill-opacity="0.8"/><circle cx="163.0" cy="339.0" r="2.35" fill="#861c52" fill-opacity="0.8"/><circle cx="630.3" cy="373.0" r="2.35" fill="#861c52" fill-opacity="0.8"/><circle cx="422.1" cy="369.2" r="2.35" fill="#861c52" fill-opacity="0.8"/><circle cx="433.8" cy="366.2" r="2.35" fill="#861c52" fill-opacity="0.8"/><circle cx="179.4" cy="360.0" r="2.35" fill="#861c52" fill-opacity="0.8"/><circle cx="293.5" cy="366.2" r="2.35" fill="#861c52" fill-opacity="0.8"/><circle cx="126.6" cy="375.3" r="2.35" fill="#861c52" fill-opacity="0.8"/><circle cx="98.0" cy="368.5" r="2.35" fill="#861c52" fill-opacity="0.8"/><circle cx="290.8" cy="317.6" r="2.35" fill="#861c52" fill-opacity="0.8"/><circle cx="313.3" cy="324.0" r="2.35" fill="#861c52" fill-opacity="0.8"/><circle cx="593.6" cy="362.9" r="2.35" fill="#861c52" fill-opacity="0.8"/><circle cx="120.0" cy="360.8" r="2.35" fill="#861c52" fill-opacity="0.8"/><circle cx="240.1" cy="354.0" r="2.35" fill="#861c52" fill-opacity="0.8"/><circle cx="512.2" cy="341.8" r="2.35" fill="#861c52" fill-opacity="0.8"/><circle cx="614.3" cy="362.5" r="2.35" fill="#861c52" fill-opacity="0.8"/><circle cx="612.7" cy="364.7" r="2.35" fill="#861c52" fill-opacity="0.8"/><circle cx="494.5" cy="365.0" r="2.35" fill="#861c52" fill-opacity="0.8"/><circle cx="524.4" cy="343.4" r="2.35" fill="#861c52" fill-opacity="0.8"/><circle cx="106.4" cy="359.0" r="2.35" fill="#861c52" fill-opacity="0.8"/><circle cx="319.0" cy="362.4" r="2.35" fill="#861c52" fill-opacity="0.8"/><circle cx="423.3" cy="351.5" r="2.35" fill="#861c52" fill-opacity="0.8"/><circle cx="222.3" cy="358.0" r="2.35" fill="#861c52" fill-opacity="0.8"/><circle cx="289.5" cy="362.4" r="2.35" fill="#861c52" fill-opacity="0.8"/><circle cx="86.4" cy="339.2" r="2.35" fill="#861c52" fill-opacity="0.8"/><circle cx="518.8" cy="332.8" r="2.35" fill="#861c52" fill-opacity="0.8"/><circle cx="358.6" cy="348.3" r="2.35" fill="#861c52" fill-opacity="0.8"/><circle cx="483.0" cy="358.2" r="2.35" fill="#861c52" fill-opacity="0.8"/><circle cx="239.0" cy="368.4" r="2.35" fill="#861c52" fill-opacity="0.8"/><circle cx="595.8" cy="362.4" r="2.35" fill="#861c52" fill-opacity="0.8"/><circle cx="480.9" cy="356.7" r="2.35" fill="#861c52" fill-opacity="0.8"/><circle cx="249.0" cy="331.6" r="2.35" fill="#861c52" fill-opacity="0.8"/><circle cx="129.8" cy="366.6" r="2.35" fill="#861c52" fill-opacity="0.8"/><circle cx="270.0" cy="340.6" r="2.35" fill="#861c52" fill-opacity="0.8"/><circle cx="144.4" cy="373.8" r="2.35" fill="#861c52" fill-opacity="0.8"/><circle cx="481.8" cy="365.8" r="2.35" fill="#861c52" fill-opacity="0.8"/><circle cx="388.7" cy="362.2" r="2.35" fill="#861c52" fill-opacity="0.8"/><circle cx="308.4" cy="350.1" r="2.35" fill="#861c52" fill-opacity="0.8"/><circle cx="287.0" cy="366.1" r="2.35" fill="#861c52" fill-opacity="0.8"/><circle cx="208.0" cy="368.0" r="2.35" fill="#861c52" fill-opacity="0.8"/><circle cx="103.0" cy="354.9" r="2.35" fill="#861c52" fill-opacity="0.8"/><circle cx="526.3" cy="369.5" r="2.35" fill="#861c52" fill-opacity="0.8"/><circle cx="524.8" cy="370.2" r="2.35" fill="#861c52" fill-opacity="0.8"/><circle cx="297.5" cy="321.3" r="2.35" fill="#861c52" fill-opacity="0.8"/><circle cx="240.8" cy="326.7" r="2.35" fill="#861c52" fill-opacity="0.8"/><circle cx="153.0" cy="372.9" r="2.35" fill="#861c52" fill-opacity="0.8"/><circle cx="489.3" cy="360.9" r="2.35" fill="#861c52" fill-opacity="0.8"/><circle cx="307.7" cy="344.9" r="2.35" fill="#861c52" fill-opacity="0.8"/><circle cx="212.3" cy="372.7" r="2.35" fill="#861c52" fill-opacity="0.8"/><circle cx="446.0" cy="360.7" r="2.35" fill="#861c52" fill-opacity="0.8"/><circle cx="182.0" cy="363.9" r="2.35" fill="#861c52" fill-opacity="0.8"/><circle cx="464.4" cy="360.4" r="2.35" fill="#861c52" fill-opacity="0.8"/><circle cx="386.8" cy="356.6" r="2.35" fill="#861c52" fill-opacity="0.8"/><circle cx="281.6" cy="358.8" r="2.35" fill="#861c52" fill-opacity="0.8"/><circle cx="522.7" cy="364.4" r="2.35" fill="#861c52" fill-opacity="0.8"/><circle cx="641.3" cy="349.4" r="2.35" fill="#861c52" fill-opacity="0.8"/><circle cx="345.1" cy="372.8" r="2.35" fill="#861c52" fill-opacity="0.8"/><circle cx="220.1" cy="348.0" r="2.35" fill="#861c52" fill-opacity="0.8"/><circle cx="590.9" cy="364.1" r="2.35" fill="#861c52" fill-opacity="0.8"/><circle cx="187.3" cy="375.2" r="2.35" fill="#861c52" fill-opacity="0.8"/><circle cx="152.1" cy="370.4" r="2.35" fill="#861c52" fill-opacity="0.8"/><circle cx="421.1" cy="370.6" r="2.35" fill="#861c52" fill-opacity="0.8"/><circle cx="101.1" cy="364.2" r="2.35" fill="#861c52" fill-opacity="0.8"/><circle cx="278.9" cy="343.1" r="2.35" fill="#861c52" fill-opacity="0.8"/><circle cx="137.8" cy="371.4" r="2.35" fill="#861c52" fill-opacity="0.8"/><circle cx="573.5" cy="363.9" r="2.35" fill="#861c52" fill-opacity="0.8"/><circle cx="229.0" cy="321.5" r="2.35" fill="#861c52" fill-opacity="0.8"/><circle cx="551.1" cy="351.3" r="2.35" fill="#861c52" fill-opacity="0.8"/><circle cx="293.6" cy="348.9" r="2.35" fill="#861c52" fill-opacity="0.8"/><circle cx="212.4" cy="365.5" r="2.35" fill="#861c52" fill-opacity="0.8"/><circle cx="511.1" cy="368.3" r="2.35" fill="#861c52" fill-opacity="0.8"/><circle cx="539.9" cy="353.2" r="2.35" fill="#861c52" fill-opacity="0.8"/><circle cx="628.6" cy="372.3" r="2.35" fill="#861c52" fill-opacity="0.8"/><circle cx="565.2" cy="370.6" r="2.35" fill="#861c52" fill-opacity="0.8"/><circle cx="620.7" cy="330.9" r="2.35" fill="#861c52" fill-opacity="0.8"/><circle cx="265.4" cy="366.0" r="2.35" fill="#861c52" fill-opacity="0.8"/><circle cx="542.1" cy="370.1" r="2.35" fill="#861c52" fill-opacity="0.8"/><circle cx="542.8" cy="340.0" r="2.35" fill="#861c52" fill-opacity="0.8"/><circle cx="149.4" cy="361.0" r="2.35" fill="#861c52" fill-opacity="0.8"/><circle cx="595.0" cy="367.0" r="2.35" fill="#861c52" fill-opacity="0.8"/><circle cx="192.1" cy="361.7" r="2.35" fill="#861c52" fill-opacity="0.8"/><circle cx="590.6" cy="369.1" r="2.35" fill="#861c52" fill-opacity="0.8"/><circle cx="265.4" cy="369.4" r="2.35" fill="#861c52" fill-opacity="0.8"/><circle cx="394.8" cy="343.7" r="2.35" fill="#861c52" fill-opacity="0.8"/><circle cx="234.8" cy="355.5" r="2.35" fill="#861c52" fill-opacity="0.8"/><circle cx="564.4" cy="374.9" r="2.35" fill="#861c52" fill-opacity="0.8"/><circle cx="438.0" cy="373.2" r="2.35" fill="#861c52" fill-opacity="0.8"/><circle cx="243.4" cy="364.1" r="2.35" fill="#861c52" fill-opacity="0.8"/><circle cx="430.2" cy="370.4" r="2.35" fill="#861c52" fill-opacity="0.8"/><circle cx="458.8" cy="369.4" r="2.35" fill="#861c52" fill-opacity="0.8"/><circle cx="522.0" cy="368.1" r="2.35" fill="#861c52" fill-opacity="0.8"/><circle cx="100.6" cy="372.0" r="2.35" fill="#861c52" fill-opacity="0.8"/><circle cx="429.3" cy="360.2" r="2.35" fill="#861c52" fill-opacity="0.8"/><circle cx="611.1" cy="342.8" r="2.35" fill="#861c52" fill-opacity="0.8"/><circle cx="382.3" cy="374.5" r="2.35" fill="#861c52" fill-opacity="0.8"/><circle cx="574.4" cy="368.1" r="2.35" fill="#861c52" fill-opacity="0.8"/><circle cx="129.0" cy="354.9" r="2.35" fill="#861c52" fill-opacity="0.8"/><circle cx="128.2" cy="372.8" r="2.35" fill="#861c52" fill-opacity="0.8"/><circle cx="533.9" cy="369.3" r="2.35" fill="#861c52" fill-opacity="0.8"/><circle cx="376.9" cy="359.6" r="2.35" fill="#861c52" fill-opacity="0.8"/><circle cx="249.4" cy="374.3" r="2.35" fill="#861c52" fill-opacity="0.8"/><circle cx="506.5" cy="339.4" r="2.35" fill="#861c52" fill-opacity="0.8"/><circle cx="109.0" cy="368.1" r="2.35" fill="#861c52" fill-opacity="0.8"/><circle cx="301.6" cy="343.6" r="2.35" fill="#861c52" fill-opacity="0.8"/><circle cx="280.3" cy="346.5" r="2.35" fill="#861c52" fill-opacity="0.8"/><circle cx="288.8" cy="329.2" r="2.35" fill="#861c52" fill-opacity="0.8"/><circle cx="300.4" cy="351.8" r="2.35" fill="#861c52" fill-opacity="0.8"/><circle cx="266.2" cy="338.5" r="2.35" fill="#861c52" fill-opacity="0.8"/><circle cx="323.4" cy="330.8" r="2.35" fill="#861c52" fill-opacity="0.8"/><circle cx="262.7" cy="325.6" r="2.35" fill="#861c52" fill-opacity="0.8"/><circle cx="264.0" cy="339.1" r="2.35" fill="#861c52" fill-opacity="0.8"/><circle cx="306.9" cy="350.4" r="2.35" fill="#861c52" fill-opacity="0.8"/><circle cx="307.5" cy="326.9" r="2.35" fill="#861c52" fill-opacity="0.8"/><circle cx="268.8" cy="336.1" r="2.35" fill="#861c52" fill-opacity="0.8"/><circle cx="290.4" cy="332.3" r="2.35" fill="#861c52" fill-opacity="0.8"/><circle cx="298.7" cy="327.1" r="2.35" fill="#861c52" fill-opacity="0.8"/><circle cx="252.8" cy="327.7" r="2.35" fill="#861c52" fill-opacity="0.8"/><circle cx="286.4" cy="337.7" r="2.35" fill="#861c52" fill-opacity="0.8"/><circle cx="327.2" cy="332.4" r="2.35" fill="#861c52" fill-opacity="0.8"/><circle cx="300.7" cy="345.2" r="2.35" fill="#861c52" fill-opacity="0.8"/><circle cx="306.5" cy="349.7" r="2.35" fill="#861c52" fill-opacity="0.8"/><circle cx="294.8" cy="338.0" r="2.35" fill="#861c52" fill-opacity="0.8"/><circle cx="270.4" cy="345.6" r="2.35" fill="#861c52" fill-opacity="0.8"/><circle cx="298.5" cy="351.9" r="2.35" fill="#861c52" fill-opacity="0.8"/><circle cx="258.5" cy="347.9" r="2.35" fill="#861c52" fill-opacity="0.8"/><circle cx="329.1" cy="353.5" r="2.35" fill="#861c52" fill-opacity="0.8"/><circle cx="282.7" cy="337.8" r="2.35" fill="#861c52" fill-opacity="0.8"/><circle cx="334.7" cy="336.3" r="2.35" fill="#861c52" fill-opacity="0.8"/><circle cx="293.2" cy="239.6" r="2.35" fill="#861c52" fill-opacity="0.8"/><circle cx="292.2" cy="250.6" r="2.35" fill="#861c52" fill-opacity="0.8"/><circle cx="227.9" cy="288.9" r="2.35" fill="#861c52" fill-opacity="0.8"/><circle cx="282.0" cy="288.9" r="2.35" fill="#861c52" fill-opacity="0.8"/><circle cx="290.0" cy="290.0" r="2.35" fill="#861c52" fill-opacity="0.8"/><circle cx="298.9" cy="286.3" r="2.35" fill="#861c52" fill-opacity="0.8"/><circle cx="303.9" cy="292.2" r="2.35" fill="#861c52" fill-opacity="0.8"/><circle cx="359.5" cy="282.6" r="2.35" fill="#861c52" fill-opacity="0.8"/><circle cx="279.0" cy="298.8" r="2.35" fill="#861c52" fill-opacity="0.8"/><circle cx="311.0" cy="301.6" r="2.35" fill="#861c52" fill-opacity="0.8"/><circle cx="348.5" cy="298.8" r="2.35" fill="#861c52" fill-opacity="0.8"/><circle cx="349.0" cy="302.7" r="2.35" fill="#861c52" fill-opacity="0.8"/><circle cx="351.5" cy="307.1" r="2.35" fill="#861c52" fill-opacity="0.8"/><circle cx="501.6" cy="255.0" r="2.35" fill="#861c52" fill-opacity="0.8"/><circle cx="501.0" cy="287.8" r="2.35" fill="#861c52" fill-opacity="0.8"/><circle cx="504.5" cy="287.8" r="2.35" fill="#861c52" fill-opacity="0.8"/><circle cx="499.0" cy="294.4" r="2.35" fill="#861c52" fill-opacity="0.8"/><circle cx="500.0" cy="296.6" r="2.35" fill="#861c52" fill-opacity="0.8"/><circle cx="500.5" cy="299.9" r="2.35" fill="#861c52" fill-opacity="0.8"/><circle cx="503.0" cy="303.1" r="2.35" fill="#861c52" fill-opacity="0.8"/><circle cx="499.0" cy="305.3" r="2.35" fill="#861c52" fill-opacity="0.8"/><circle cx="502.0" cy="309.7" r="2.35" fill="#861c52" fill-opacity="0.8"/><circle cx="500.0" cy="316.3" r="2.35" fill="#861c52" fill-opacity="0.8"/><circle cx="503.0" cy="320.7" r="2.35" fill="#861c52" fill-opacity="0.8"/><circle cx="501.0" cy="327.2" r="2.35" fill="#861c52" fill-opacity="0.8"/><circle cx="504.0" cy="333.8" r="2.35" fill="#861c52" fill-opacity="0.8"/><circle cx="499.0" cy="340.4" r="2.35" fill="#861c52" fill-opacity="0.8"/><circle cx="517.8" cy="295.7" r="2.35" fill="#861c52" fill-opacity="0.8"/><circle cx="569.6" cy="297.7" r="2.35" fill="#861c52" fill-opacity="0.8"/><circle cx="631.1" cy="323.9" r="2.35" fill="#861c52" fill-opacity="0.8"/><circle cx="590.0" cy="326.1" r="2.35" fill="#861c52" fill-opacity="0.8"/><circle cx="96.0" cy="333.8" r="2.35" fill="#861c52" fill-opacity="0.8"/><circle cx="130.0" cy="307.5" r="2.35" fill="#861c52" fill-opacity="0.8"/><circle cx="130.0" cy="333.8" r="2.35" fill="#861c52" fill-opacity="0.8"/><circle cx="205.0" cy="314.1" r="2.35" fill="#861c52" fill-opacity="0.8"/><circle cx="188.0" cy="333.8" r="2.35" fill="#861c52" fill-opacity="0.8"/><circle cx="165.0" cy="336.0" r="2.35" fill="#861c52" fill-opacity="0.8"/><circle cx="178.0" cy="340.4" r="2.35" fill="#861c52" fill-opacity="0.8"/><circle cx="155.0" cy="331.6" r="2.35" fill="#861c52" fill-opacity="0.8"/><circle cx="150.0" cy="341.5" r="2.35" fill="#861c52" fill-opacity="0.8"/><circle cx="208.0" cy="342.6" r="2.35" fill="#861c52" fill-opacity="0.8"/><circle cx="255.0" cy="311.9" r="2.35" fill="#861c52" fill-opacity="0.8"/><circle cx="265.0" cy="318.5" r="2.35" fill="#861c52" fill-opacity="0.8"/><circle cx="240.0" cy="322.9" r="2.35" fill="#861c52" fill-opacity="0.8"/><circle cx="318.0" cy="318.5" r="2.35" fill="#861c52" fill-opacity="0.8"/><circle cx="372.0" cy="331.6" r="2.35" fill="#861c52" fill-opacity="0.8"/><circle cx="380.0" cy="325.0" r="2.35" fill="#861c52" fill-opacity="0.8"/><circle cx="396.0" cy="322.9" r="2.35" fill="#861c52" fill-opacity="0.8"/><circle cx="452.0" cy="333.8" r="2.35" fill="#861c52" fill-opacity="0.8"/><circle cx="470.0" cy="338.2" r="2.35" fill="#861c52" fill-opacity="0.8"/><circle cx="540.0" cy="329.4" r="2.35" fill="#861c52" fill-opacity="0.8"/><circle cx="548.0" cy="333.8" r="2.35" fill="#861c52" fill-opacity="0.8"/><circle cx="555.0" cy="325.0" r="2.35" fill="#861c52" fill-opacity="0.8"/><circle cx="600.0" cy="333.8" r="2.35" fill="#861c52" fill-opacity="0.8"/><circle cx="612.0" cy="329.4" r="2.35" fill="#861c52" fill-opacity="0.8"/><circle cx="199.8" cy="357.5" r="2.35" fill="#8a80cc" fill-opacity="0.8"/><circle cx="243.7" cy="368.7" r="2.35" fill="#8a80cc" fill-opacity="0.8"/><circle cx="620.3" cy="362.6" r="2.35" fill="#8a80cc" fill-opacity="0.8"/><circle cx="128.1" cy="365.1" r="2.35" fill="#8a80cc" fill-opacity="0.8"/><circle cx="226.1" cy="366.4" r="2.35" fill="#8a80cc" fill-opacity="0.8"/><circle cx="157.9" cy="369.7" r="2.35" fill="#8a80cc" fill-opacity="0.8"/><circle cx="344.5" cy="370.0" r="2.35" fill="#8a80cc" fill-opacity="0.8"/><circle cx="543.3" cy="373.8" r="2.35" fill="#8a80cc" fill-opacity="0.8"/><circle cx="448.7" cy="362.4" r="2.35" fill="#8a80cc" fill-opacity="0.8"/><circle cx="403.8" cy="356.6" r="2.35" fill="#8a80cc" fill-opacity="0.8"/><circle cx="594.2" cy="375.5" r="2.35" fill="#8a80cc" fill-opacity="0.8"/><circle cx="379.5" cy="372.9" r="2.35" fill="#8a80cc" fill-opacity="0.8"/><circle cx="139.0" cy="371.1" r="2.35" fill="#8a80cc" fill-opacity="0.8"/><circle cx="618.5" cy="373.4" r="2.35" fill="#8a80cc" fill-opacity="0.8"/><circle cx="86.4" cy="370.2" r="2.35" fill="#8a80cc" fill-opacity="0.8"/><circle cx="220.5" cy="362.6" r="2.35" fill="#8a80cc" fill-opacity="0.8"/><circle cx="417.1" cy="363.8" r="2.35" fill="#8a80cc" fill-opacity="0.8"/><circle cx="258.2" cy="374.7" r="2.35" fill="#8a80cc" fill-opacity="0.8"/><circle cx="124.6" cy="375.3" r="2.35" fill="#8a80cc" fill-opacity="0.8"/><circle cx="628.4" cy="342.1" r="2.35" fill="#8a80cc" fill-opacity="0.8"/><circle cx="131.9" cy="355.5" r="2.35" fill="#8a80cc" fill-opacity="0.8"/><circle cx="592.9" cy="372.0" r="2.35" fill="#8a80cc" fill-opacity="0.8"/><circle cx="433.3" cy="344.5" r="2.35" fill="#8a80cc" fill-opacity="0.8"/><circle cx="435.6" cy="367.9" r="2.35" fill="#8a80cc" fill-opacity="0.8"/><circle cx="270.3" cy="366.5" r="2.35" fill="#8a80cc" fill-opacity="0.8"/><circle cx="563.4" cy="359.1" r="2.35" fill="#8a80cc" fill-opacity="0.8"/><circle cx="544.1" cy="363.9" r="2.35" fill="#8a80cc" fill-opacity="0.8"/><circle cx="142.8" cy="364.9" r="2.35" fill="#8a80cc" fill-opacity="0.8"/><circle cx="367.2" cy="339.5" r="2.35" fill="#8a80cc" fill-opacity="0.8"/><circle cx="118.6" cy="370.9" r="2.35" fill="#8a80cc" fill-opacity="0.8"/><circle cx="554.7" cy="353.1" r="2.35" fill="#8a80cc" fill-opacity="0.8"/><circle cx="307.0" cy="365.4" r="2.35" fill="#8a80cc" fill-opacity="0.8"/><circle cx="184.6" cy="359.5" r="2.35" fill="#8a80cc" fill-opacity="0.8"/><circle cx="552.7" cy="353.3" r="2.35" fill="#8a80cc" fill-opacity="0.8"/><circle cx="291.6" cy="370.8" r="2.35" fill="#8a80cc" fill-opacity="0.8"/><circle cx="534.1" cy="374.8" r="2.35" fill="#8a80cc" fill-opacity="0.8"/><circle cx="97.8" cy="361.0" r="2.35" fill="#8a80cc" fill-opacity="0.8"/><circle cx="313.1" cy="363.9" r="2.35" fill="#8a80cc" fill-opacity="0.8"/><circle cx="482.8" cy="361.8" r="2.35" fill="#8a80cc" fill-opacity="0.8"/><circle cx="130.7" cy="373.0" r="2.35" fill="#8a80cc" fill-opacity="0.8"/><circle cx="308.3" cy="373.5" r="2.35" fill="#8a80cc" fill-opacity="0.8"/><circle cx="372.4" cy="373.8" r="2.35" fill="#8a80cc" fill-opacity="0.8"/><circle cx="408.5" cy="372.4" r="2.35" fill="#8a80cc" fill-opacity="0.8"/><circle cx="519.9" cy="355.7" r="2.35" fill="#8a80cc" fill-opacity="0.8"/><circle cx="379.8" cy="357.4" r="2.35" fill="#8a80cc" fill-opacity="0.8"/><circle cx="320.0" cy="373.2" r="2.35" fill="#8a80cc" fill-opacity="0.8"/><circle cx="299.7" cy="368.7" r="2.35" fill="#8a80cc" fill-opacity="0.8"/><circle cx="101.1" cy="373.8" r="2.35" fill="#8a80cc" fill-opacity="0.8"/><circle cx="342.6" cy="367.6" r="2.35" fill="#8a80cc" fill-opacity="0.8"/><circle cx="491.5" cy="373.9" r="2.35" fill="#8a80cc" fill-opacity="0.8"/><circle cx="460.0" cy="370.6" r="2.35" fill="#8a80cc" fill-opacity="0.8"/><circle cx="607.5" cy="356.8" r="2.35" fill="#8a80cc" fill-opacity="0.8"/><circle cx="296.4" cy="374.8" r="2.35" fill="#8a80cc" fill-opacity="0.8"/><circle cx="240.2" cy="346.3" r="2.35" fill="#8a80cc" fill-opacity="0.8"/><circle cx="554.0" cy="373.2" r="2.35" fill="#8a80cc" fill-opacity="0.8"/><circle cx="289.5" cy="372.8" r="2.35" fill="#8a80cc" fill-opacity="0.8"/><circle cx="293.5" cy="365.2" r="2.35" fill="#8a80cc" fill-opacity="0.8"/><circle cx="227.0" cy="355.6" r="2.35" fill="#8a80cc" fill-opacity="0.8"/><circle cx="512.6" cy="372.3" r="2.35" fill="#8a80cc" fill-opacity="0.8"/><circle cx="225.2" cy="356.1" r="2.35" fill="#8a80cc" fill-opacity="0.8"/><circle cx="240.3" cy="345.8" r="2.35" fill="#8a80cc" fill-opacity="0.8"/><circle cx="318.7" cy="370.4" r="2.35" fill="#8a80cc" fill-opacity="0.8"/><circle cx="517.1" cy="371.7" r="2.35" fill="#8a80cc" fill-opacity="0.8"/><circle cx="141.9" cy="350.1" r="2.35" fill="#8a80cc" fill-opacity="0.8"/><circle cx="439.2" cy="329.0" r="2.35" fill="#8a80cc" fill-opacity="0.8"/><circle cx="275.2" cy="373.5" r="2.35" fill="#8a80cc" fill-opacity="0.8"/><circle cx="458.6" cy="350.9" r="2.35" fill="#8a80cc" fill-opacity="0.8"/><circle cx="114.2" cy="370.7" r="2.35" fill="#8a80cc" fill-opacity="0.8"/><circle cx="571.2" cy="369.3" r="2.35" fill="#8a80cc" fill-opacity="0.8"/><circle cx="359.2" cy="373.3" r="2.35" fill="#8a80cc" fill-opacity="0.8"/><circle cx="101.3" cy="367.6" r="2.35" fill="#8a80cc" fill-opacity="0.8"/><circle cx="623.3" cy="365.2" r="2.35" fill="#8a80cc" fill-opacity="0.8"/><circle cx="614.5" cy="371.0" r="2.35" fill="#8a80cc" fill-opacity="0.8"/><circle cx="197.6" cy="367.3" r="2.35" fill="#8a80cc" fill-opacity="0.8"/><circle cx="259.0" cy="372.1" r="2.35" fill="#8a80cc" fill-opacity="0.8"/><circle cx="629.4" cy="368.8" r="2.35" fill="#8a80cc" fill-opacity="0.8"/><circle cx="301.0" cy="358.7" r="2.35" fill="#8a80cc" fill-opacity="0.8"/><circle cx="366.9" cy="357.5" r="2.35" fill="#8a80cc" fill-opacity="0.8"/><circle cx="544.6" cy="363.7" r="2.35" fill="#8a80cc" fill-opacity="0.8"/><circle cx="415.1" cy="324.6" r="2.35" fill="#8a80cc" fill-opacity="0.8"/><circle cx="215.3" cy="367.0" r="2.35" fill="#8a80cc" fill-opacity="0.8"/><circle cx="495.7" cy="371.7" r="2.35" fill="#8a80cc" fill-opacity="0.8"/><circle cx="400.7" cy="364.3" r="2.35" fill="#8a80cc" fill-opacity="0.8"/><circle cx="320.2" cy="356.7" r="2.35" fill="#8a80cc" fill-opacity="0.8"/><circle cx="595.2" cy="367.6" r="2.35" fill="#8a80cc" fill-opacity="0.8"/><circle cx="431.1" cy="351.4" r="2.35" fill="#8a80cc" fill-opacity="0.8"/><circle cx="167.1" cy="355.7" r="2.35" fill="#8a80cc" fill-opacity="0.8"/><circle cx="460.0" cy="372.6" r="2.35" fill="#8a80cc" fill-opacity="0.8"/><circle cx="229.7" cy="358.7" r="2.35" fill="#8a80cc" fill-opacity="0.8"/><circle cx="164.9" cy="366.4" r="2.35" fill="#8a80cc" fill-opacity="0.8"/><circle cx="365.7" cy="369.8" r="2.35" fill="#8a80cc" fill-opacity="0.8"/><circle cx="253.7" cy="356.6" r="2.35" fill="#8a80cc" fill-opacity="0.8"/><circle cx="494.2" cy="360.8" r="2.35" fill="#8a80cc" fill-opacity="0.8"/><circle cx="450.6" cy="361.8" r="2.35" fill="#8a80cc" fill-opacity="0.8"/><circle cx="311.5" cy="340.2" r="2.35" fill="#8a80cc" fill-opacity="0.8"/><circle cx="478.2" cy="362.0" r="2.35" fill="#8a80cc" fill-opacity="0.8"/><circle cx="155.4" cy="369.5" r="2.35" fill="#8a80cc" fill-opacity="0.8"/><circle cx="496.9" cy="371.9" r="2.35" fill="#8a80cc" fill-opacity="0.8"/><circle cx="288.8" cy="351.2" r="2.35" fill="#8a80cc" fill-opacity="0.8"/><circle cx="319.0" cy="374.2" r="2.35" fill="#8a80cc" fill-opacity="0.8"/><circle cx="148.5" cy="364.6" r="2.35" fill="#8a80cc" fill-opacity="0.8"/><circle cx="190.6" cy="374.5" r="2.35" fill="#8a80cc" fill-opacity="0.8"/><circle cx="287.1" cy="369.5" r="2.35" fill="#8a80cc" fill-opacity="0.8"/><circle cx="121.1" cy="365.5" r="2.35" fill="#8a80cc" fill-opacity="0.8"/><circle cx="430.2" cy="349.6" r="2.35" fill="#8a80cc" fill-opacity="0.8"/><circle cx="318.0" cy="354.9" r="2.35" fill="#8a80cc" fill-opacity="0.8"/><circle cx="219.2" cy="372.6" r="2.35" fill="#8a80cc" fill-opacity="0.8"/><circle cx="573.1" cy="369.1" r="2.35" fill="#8a80cc" fill-opacity="0.8"/><circle cx="546.9" cy="359.3" r="2.35" fill="#8a80cc" fill-opacity="0.8"/><circle cx="455.5" cy="357.1" r="2.35" fill="#8a80cc" fill-opacity="0.8"/><circle cx="483.8" cy="370.0" r="2.35" fill="#8a80cc" fill-opacity="0.8"/><circle cx="564.7" cy="369.1" r="2.35" fill="#8a80cc" fill-opacity="0.8"/><circle cx="267.5" cy="331.9" r="2.35" fill="#8a80cc" fill-opacity="0.8"/><circle cx="261.4" cy="367.2" r="2.35" fill="#8a80cc" fill-opacity="0.8"/><circle cx="478.1" cy="371.2" r="2.35" fill="#8a80cc" fill-opacity="0.8"/><circle cx="116.4" cy="369.9" r="2.35" fill="#8a80cc" fill-opacity="0.8"/><circle cx="270.3" cy="365.8" r="2.35" fill="#8a80cc" fill-opacity="0.8"/><circle cx="201.0" cy="361.7" r="2.35" fill="#8a80cc" fill-opacity="0.8"/><circle cx="162.9" cy="356.7" r="2.35" fill="#8a80cc" fill-opacity="0.8"/><circle cx="544.1" cy="366.2" r="2.35" fill="#8a80cc" fill-opacity="0.8"/><circle cx="350.0" cy="367.4" r="2.35" fill="#8a80cc" fill-opacity="0.8"/><circle cx="552.6" cy="364.3" r="2.35" fill="#8a80cc" fill-opacity="0.8"/><circle cx="450.2" cy="372.6" r="2.35" fill="#8a80cc" fill-opacity="0.8"/><circle cx="439.5" cy="362.4" r="2.35" fill="#8a80cc" fill-opacity="0.8"/><circle cx="328.4" cy="340.6" r="2.35" fill="#8a80cc" fill-opacity="0.8"/><circle cx="361.4" cy="371.1" r="2.35" fill="#8a80cc" fill-opacity="0.8"/><circle cx="539.9" cy="366.8" r="2.35" fill="#8a80cc" fill-opacity="0.8"/><circle cx="586.9" cy="371.4" r="2.35" fill="#8a80cc" fill-opacity="0.8"/><circle cx="258.3" cy="374.4" r="2.35" fill="#8a80cc" fill-opacity="0.8"/><circle cx="434.6" cy="347.9" r="2.35" fill="#8a80cc" fill-opacity="0.8"/><circle cx="552.0" cy="359.7" r="2.35" fill="#8a80cc" fill-opacity="0.8"/><circle cx="423.9" cy="354.8" r="2.35" fill="#8a80cc" fill-opacity="0.8"/><circle cx="397.8" cy="355.0" r="2.35" fill="#8a80cc" fill-opacity="0.8"/><circle cx="121.4" cy="367.6" r="2.35" fill="#8a80cc" fill-opacity="0.8"/><circle cx="183.1" cy="370.9" r="2.35" fill="#8a80cc" fill-opacity="0.8"/><circle cx="464.8" cy="372.8" r="2.35" fill="#8a80cc" fill-opacity="0.8"/><circle cx="365.6" cy="372.5" r="2.35" fill="#8a80cc" fill-opacity="0.8"/><circle cx="181.7" cy="374.1" r="2.35" fill="#8a80cc" fill-opacity="0.8"/><circle cx="287.3" cy="370.4" r="2.35" fill="#8a80cc" fill-opacity="0.8"/><circle cx="189.7" cy="371.7" r="2.35" fill="#8a80cc" fill-opacity="0.8"/><circle cx="435.2" cy="356.0" r="2.35" fill="#8a80cc" fill-opacity="0.8"/><circle cx="467.7" cy="370.1" r="2.35" fill="#8a80cc" fill-opacity="0.8"/><circle cx="400.2" cy="350.7" r="2.35" fill="#8a80cc" fill-opacity="0.8"/><circle cx="291.8" cy="361.8" r="2.35" fill="#8a80cc" fill-opacity="0.8"/><circle cx="381.8" cy="366.0" r="2.35" fill="#8a80cc" fill-opacity="0.8"/><circle cx="177.3" cy="367.5" r="2.35" fill="#8a80cc" fill-opacity="0.8"/><circle cx="115.9" cy="366.3" r="2.35" fill="#8a80cc" fill-opacity="0.8"/><circle cx="622.2" cy="357.8" r="2.35" fill="#8a80cc" fill-opacity="0.8"/><circle cx="495.2" cy="370.8" r="2.35" fill="#8a80cc" fill-opacity="0.8"/><circle cx="541.9" cy="366.6" r="2.35" fill="#8a80cc" fill-opacity="0.8"/><circle cx="316.7" cy="358.6" r="2.35" fill="#8a80cc" fill-opacity="0.8"/><circle cx="337.3" cy="357.5" r="2.35" fill="#8a80cc" fill-opacity="0.8"/><circle cx="516.4" cy="368.6" r="2.35" fill="#8a80cc" fill-opacity="0.8"/><circle cx="296.1" cy="373.7" r="2.35" fill="#8a80cc" fill-opacity="0.8"/><circle cx="514.1" cy="360.0" r="2.35" fill="#8a80cc" fill-opacity="0.8"/><circle cx="599.2" cy="364.5" r="2.35" fill="#8a80cc" fill-opacity="0.8"/><circle cx="156.3" cy="361.1" r="2.35" fill="#8a80cc" fill-opacity="0.8"/><circle cx="290.8" cy="362.1" r="2.35" fill="#8a80cc" fill-opacity="0.8"/><circle cx="223.3" cy="365.8" r="2.35" fill="#8a80cc" fill-opacity="0.8"/><circle cx="173.5" cy="371.2" r="2.35" fill="#8a80cc" fill-opacity="0.8"/><circle cx="591.3" cy="374.2" r="2.35" fill="#8a80cc" fill-opacity="0.8"/><circle cx="164.7" cy="368.7" r="2.35" fill="#8a80cc" fill-opacity="0.8"/><circle cx="230.0" cy="351.2" r="2.35" fill="#8a80cc" fill-opacity="0.8"/><circle cx="241.4" cy="364.0" r="2.35" fill="#8a80cc" fill-opacity="0.8"/><circle cx="206.8" cy="357.1" r="2.35" fill="#8a80cc" fill-opacity="0.8"/><circle cx="318.0" cy="332.6" r="2.35" fill="#8a80cc" fill-opacity="0.8"/><circle cx="432.8" cy="342.7" r="2.35" fill="#8a80cc" fill-opacity="0.8"/><circle cx="206.7" cy="363.6" r="2.35" fill="#8a80cc" fill-opacity="0.8"/><circle cx="319.3" cy="374.6" r="2.35" fill="#8a80cc" fill-opacity="0.8"/><circle cx="167.3" cy="368.3" r="2.35" fill="#8a80cc" fill-opacity="0.8"/><circle cx="584.8" cy="366.1" r="2.35" fill="#8a80cc" fill-opacity="0.8"/><circle cx="95.9" cy="376.1" r="2.35" fill="#8a80cc" fill-opacity="0.8"/><circle cx="462.1" cy="364.3" r="2.35" fill="#8a80cc" fill-opacity="0.8"/><circle cx="543.9" cy="376.2" r="2.35" fill="#8a80cc" fill-opacity="0.8"/><circle cx="254.8" cy="374.4" r="2.35" fill="#8a80cc" fill-opacity="0.8"/><circle cx="502.9" cy="348.0" r="2.35" fill="#8a80cc" fill-opacity="0.8"/><circle cx="494.9" cy="358.3" r="2.35" fill="#8a80cc" fill-opacity="0.8"/><circle cx="640.0" cy="367.1" r="2.35" fill="#8a80cc" fill-opacity="0.8"/><circle cx="184.1" cy="367.5" r="2.35" fill="#8a80cc" fill-opacity="0.8"/><circle cx="598.3" cy="373.9" r="2.35" fill="#8a80cc" fill-opacity="0.8"/><circle cx="439.8" cy="369.6" r="2.35" fill="#8a80cc" fill-opacity="0.8"/><circle cx="630.5" cy="347.7" r="2.35" fill="#8a80cc" fill-opacity="0.8"/><circle cx="376.0" cy="353.7" r="2.35" fill="#8a80cc" fill-opacity="0.8"/><circle cx="257.5" cy="371.7" r="2.35" fill="#8a80cc" fill-opacity="0.8"/><circle cx="106.7" cy="374.2" r="2.35" fill="#8a80cc" fill-opacity="0.8"/><circle cx="208.5" cy="363.1" r="2.35" fill="#8a80cc" fill-opacity="0.8"/><circle cx="146.1" cy="372.5" r="2.35" fill="#8a80cc" fill-opacity="0.8"/><circle cx="406.6" cy="355.4" r="2.35" fill="#8a80cc" fill-opacity="0.8"/><circle cx="484.3" cy="370.9" r="2.35" fill="#8a80cc" fill-opacity="0.8"/><circle cx="309.0" cy="363.5" r="2.35" fill="#8a80cc" fill-opacity="0.8"/><circle cx="344.5" cy="370.9" r="2.35" fill="#8a80cc" fill-opacity="0.8"/><circle cx="178.4" cy="370.7" r="2.35" fill="#8a80cc" fill-opacity="0.8"/><circle cx="404.4" cy="352.4" r="2.35" fill="#8a80cc" fill-opacity="0.8"/><circle cx="462.9" cy="364.8" r="2.35" fill="#8a80cc" fill-opacity="0.8"/><circle cx="187.5" cy="370.2" r="2.35" fill="#8a80cc" fill-opacity="0.8"/><circle cx="315.3" cy="359.5" r="2.35" fill="#8a80cc" fill-opacity="0.8"/><circle cx="278.3" cy="372.1" r="2.35" fill="#8a80cc" fill-opacity="0.8"/><circle cx="568.5" cy="369.0" r="2.35" fill="#8a80cc" fill-opacity="0.8"/><circle cx="496.2" cy="355.0" r="2.35" fill="#8a80cc" fill-opacity="0.8"/><circle cx="485.1" cy="370.8" r="2.35" fill="#8a80cc" fill-opacity="0.8"/><circle cx="109.8" cy="371.8" r="2.35" fill="#8a80cc" fill-opacity="0.8"/><circle cx="550.0" cy="375.0" r="2.35" fill="#8a80cc" fill-opacity="0.8"/><circle cx="287.8" cy="357.3" r="2.35" fill="#8a80cc" fill-opacity="0.8"/><circle cx="243.8" cy="362.7" r="2.35" fill="#8a80cc" fill-opacity="0.8"/><circle cx="257.6" cy="371.0" r="2.35" fill="#8a80cc" fill-opacity="0.8"/><circle cx="172.5" cy="372.7" r="2.35" fill="#8a80cc" fill-opacity="0.8"/><circle cx="505.5" cy="365.3" r="2.35" fill="#8a80cc" fill-opacity="0.8"/><circle cx="327.0" cy="351.8" r="2.35" fill="#8a80cc" fill-opacity="0.8"/><circle cx="370.8" cy="360.2" r="2.35" fill="#8a80cc" fill-opacity="0.8"/><circle cx="251.9" cy="354.9" r="2.35" fill="#8a80cc" fill-opacity="0.8"/><circle cx="499.4" cy="373.7" r="2.35" fill="#8a80cc" fill-opacity="0.8"/><circle cx="502.1" cy="348.5" r="2.35" fill="#8a80cc" fill-opacity="0.8"/><circle cx="442.0" cy="350.9" r="2.35" fill="#8a80cc" fill-opacity="0.8"/><circle cx="175.4" cy="372.6" r="2.35" fill="#8a80cc" fill-opacity="0.8"/><circle cx="270.2" cy="366.7" r="2.35" fill="#8a80cc" fill-opacity="0.8"/><circle cx="148.8" cy="375.8" r="2.35" fill="#8a80cc" fill-opacity="0.8"/><circle cx="196.4" cy="370.4" r="2.35" fill="#8a80cc" fill-opacity="0.8"/><circle cx="165.7" cy="348.3" r="2.35" fill="#8a80cc" fill-opacity="0.8"/><circle cx="108.7" cy="371.7" r="2.35" fill="#8a80cc" fill-opacity="0.8"/><circle cx="594.0" cy="361.8" r="2.35" fill="#8a80cc" fill-opacity="0.8"/><circle cx="403.5" cy="345.0" r="2.35" fill="#8a80cc" fill-opacity="0.8"/><circle cx="356.7" cy="356.4" r="2.35" fill="#8a80cc" fill-opacity="0.8"/><circle cx="313.2" cy="369.2" r="2.35" fill="#8a80cc" fill-opacity="0.8"/><circle cx="449.4" cy="371.7" r="2.35" fill="#8a80cc" fill-opacity="0.8"/><circle cx="375.5" cy="370.3" r="2.35" fill="#8a80cc" fill-opacity="0.8"/><circle cx="232.9" cy="369.1" r="2.35" fill="#8a80cc" fill-opacity="0.8"/><circle cx="296.8" cy="372.7" r="2.35" fill="#8a80cc" fill-opacity="0.8"/><circle cx="605.1" cy="359.0" r="2.35" fill="#8a80cc" fill-opacity="0.8"/><circle cx="442.6" cy="374.5" r="2.35" fill="#8a80cc" fill-opacity="0.8"/><circle cx="496.5" cy="345.7" r="2.35" fill="#8a80cc" fill-opacity="0.8"/><circle cx="238.2" cy="374.9" r="2.35" fill="#8a80cc" fill-opacity="0.8"/><circle cx="187.5" cy="371.4" r="2.35" fill="#8a80cc" fill-opacity="0.8"/><circle cx="308.3" cy="367.0" r="2.35" fill="#8a80cc" fill-opacity="0.8"/><circle cx="485.2" cy="357.1" r="2.35" fill="#8a80cc" fill-opacity="0.8"/><circle cx="279.0" cy="350.9" r="2.35" fill="#8a80cc" fill-opacity="0.8"/><circle cx="370.9" cy="368.5" r="2.35" fill="#8a80cc" fill-opacity="0.8"/><circle cx="593.7" cy="369.4" r="2.35" fill="#8a80cc" fill-opacity="0.8"/><circle cx="369.7" cy="367.1" r="2.35" fill="#8a80cc" fill-opacity="0.8"/><circle cx="295.3" cy="344.5" r="2.35" fill="#8a80cc" fill-opacity="0.8"/><circle cx="208.3" cy="364.5" r="2.35" fill="#8a80cc" fill-opacity="0.8"/><circle cx="311.9" cy="365.9" r="2.35" fill="#8a80cc" fill-opacity="0.8"/><circle cx="470.1" cy="348.2" r="2.35" fill="#8a80cc" fill-opacity="0.8"/><circle cx="152.6" cy="363.4" r="2.35" fill="#8a80cc" fill-opacity="0.8"/><circle cx="230.6" cy="361.7" r="2.35" fill="#8a80cc" fill-opacity="0.8"/><circle cx="266.2" cy="367.0" r="2.35" fill="#8a80cc" fill-opacity="0.8"/><circle cx="186.0" cy="372.9" r="2.35" fill="#8a80cc" fill-opacity="0.8"/><circle cx="580.2" cy="370.8" r="2.35" fill="#8a80cc" fill-opacity="0.8"/><circle cx="507.7" cy="365.0" r="2.35" fill="#8a80cc" fill-opacity="0.8"/><circle cx="553.2" cy="370.2" r="2.35" fill="#8a80cc" fill-opacity="0.8"/><circle cx="296.1" cy="352.0" r="2.35" fill="#8a80cc" fill-opacity="0.8"/><circle cx="126.9" cy="368.6" r="2.35" fill="#8a80cc" fill-opacity="0.8"/><circle cx="237.6" cy="369.5" r="2.35" fill="#8a80cc" fill-opacity="0.8"/><circle cx="154.0" cy="369.6" r="2.35" fill="#8a80cc" fill-opacity="0.8"/><circle cx="211.5" cy="365.5" r="2.35" fill="#8a80cc" fill-opacity="0.8"/><circle cx="324.2" cy="369.5" r="2.35" fill="#8a80cc" fill-opacity="0.8"/><circle cx="385.1" cy="314.4" r="2.35" fill="#8a80cc" fill-opacity="0.8"/><circle cx="369.8" cy="366.8" r="2.35" fill="#8a80cc" fill-opacity="0.8"/><circle cx="487.0" cy="372.3" r="2.35" fill="#8a80cc" fill-opacity="0.8"/><circle cx="168.8" cy="361.9" r="2.35" fill="#8a80cc" fill-opacity="0.8"/><circle cx="338.9" cy="352.3" r="2.35" fill="#8a80cc" fill-opacity="0.8"/><circle cx="190.9" cy="373.6" r="2.35" fill="#8a80cc" fill-opacity="0.8"/><circle cx="522.9" cy="364.4" r="2.35" fill="#8a80cc" fill-opacity="0.8"/><circle cx="441.7" cy="342.5" r="2.35" fill="#8a80cc" fill-opacity="0.8"/><circle cx="375.1" cy="369.2" r="2.35" fill="#8a80cc" fill-opacity="0.8"/><circle cx="558.2" cy="371.0" r="2.35" fill="#8a80cc" fill-opacity="0.8"/><circle cx="159.7" cy="371.5" r="2.35" fill="#8a80cc" fill-opacity="0.8"/><circle cx="515.7" cy="370.0" r="2.35" fill="#8a80cc" fill-opacity="0.8"/><circle cx="600.0" cy="367.9" r="2.35" fill="#8a80cc" fill-opacity="0.8"/><circle cx="339.8" cy="368.8" r="2.35" fill="#8a80cc" fill-opacity="0.8"/><circle cx="627.5" cy="370.3" r="2.35" fill="#8a80cc" fill-opacity="0.8"/><circle cx="103.8" cy="367.4" r="2.35" fill="#8a80cc" fill-opacity="0.8"/><circle cx="179.5" cy="370.1" r="2.35" fill="#8a80cc" fill-opacity="0.8"/><circle cx="509.3" cy="361.6" r="2.35" fill="#8a80cc" fill-opacity="0.8"/><circle cx="153.3" cy="373.9" r="2.35" fill="#8a80cc" fill-opacity="0.8"/><circle cx="587.2" cy="373.6" r="2.35" fill="#8a80cc" fill-opacity="0.8"/><circle cx="100.1" cy="372.4" r="2.35" fill="#8a80cc" fill-opacity="0.8"/><circle cx="399.1" cy="368.5" r="2.35" fill="#8a80cc" fill-opacity="0.8"/><circle cx="602.6" cy="366.0" r="2.35" fill="#8a80cc" fill-opacity="0.8"/><circle cx="628.6" cy="373.2" r="2.35" fill="#8a80cc" fill-opacity="0.8"/><circle cx="105.7" cy="371.2" r="2.35" fill="#8a80cc" fill-opacity="0.8"/><circle cx="530.5" cy="359.5" r="2.35" fill="#8a80cc" fill-opacity="0.8"/><circle cx="223.0" cy="367.2" r="2.35" fill="#8a80cc" fill-opacity="0.8"/><circle cx="159.8" cy="367.6" r="2.35" fill="#8a80cc" fill-opacity="0.8"/><circle cx="275.9" cy="376.0" r="2.35" fill="#8a80cc" fill-opacity="0.8"/><circle cx="525.8" cy="364.7" r="2.35" fill="#8a80cc" fill-opacity="0.8"/><circle cx="243.0" cy="349.3" r="2.35" fill="#8a80cc" fill-opacity="0.8"/><circle cx="297.0" cy="372.7" r="2.35" fill="#8a80cc" fill-opacity="0.8"/><circle cx="172.2" cy="364.9" r="2.35" fill="#8a80cc" fill-opacity="0.8"/><circle cx="360.4" cy="337.3" r="2.35" fill="#8a80cc" fill-opacity="0.8"/><circle cx="248.0" cy="356.3" r="2.35" fill="#8a80cc" fill-opacity="0.8"/><circle cx="497.8" cy="360.3" r="2.35" fill="#8a80cc" fill-opacity="0.8"/><circle cx="337.8" cy="365.2" r="2.35" fill="#8a80cc" fill-opacity="0.8"/><circle cx="566.7" cy="359.9" r="2.35" fill="#8a80cc" fill-opacity="0.8"/><circle cx="549.7" cy="363.0" r="2.35" fill="#8a80cc" fill-opacity="0.8"/><circle cx="169.2" cy="370.1" r="2.35" fill="#8a80cc" fill-opacity="0.8"/><circle cx="580.5" cy="373.7" r="2.35" fill="#8a80cc" fill-opacity="0.8"/><circle cx="135.7" cy="371.4" r="2.35" fill="#8a80cc" fill-opacity="0.8"/><circle cx="608.4" cy="363.6" r="2.35" fill="#8a80cc" fill-opacity="0.8"/><circle cx="483.0" cy="365.6" r="2.35" fill="#8a80cc" fill-opacity="0.8"/><circle cx="559.8" cy="376.2" r="2.35" fill="#8a80cc" fill-opacity="0.8"/><circle cx="359.1" cy="354.3" r="2.35" fill="#8a80cc" fill-opacity="0.8"/><circle cx="540.7" cy="371.1" r="2.35" fill="#8a80cc" fill-opacity="0.8"/><circle cx="300.0" cy="352.2" r="2.35" fill="#8a80cc" fill-opacity="0.8"/><circle cx="501.2" cy="370.9" r="2.35" fill="#8a80cc" fill-opacity="0.8"/><circle cx="550.2" cy="363.6" r="2.35" fill="#8a80cc" fill-opacity="0.8"/><circle cx="303.5" cy="364.1" r="2.35" fill="#8a80cc" fill-opacity="0.8"/><circle cx="487.9" cy="363.7" r="2.35" fill="#8a80cc" fill-opacity="0.8"/><circle cx="206.8" cy="372.3" r="2.35" fill="#8a80cc" fill-opacity="0.8"/><circle cx="589.0" cy="370.8" r="2.35" fill="#8a80cc" fill-opacity="0.8"/><circle cx="623.2" cy="367.8" r="2.35" fill="#8a80cc" fill-opacity="0.8"/><circle cx="602.4" cy="372.0" r="2.35" fill="#8a80cc" fill-opacity="0.8"/><circle cx="517.0" cy="367.4" r="2.35" fill="#8a80cc" fill-opacity="0.8"/><circle cx="381.1" cy="357.5" r="2.35" fill="#8a80cc" fill-opacity="0.8"/><circle cx="432.7" cy="365.3" r="2.35" fill="#8a80cc" fill-opacity="0.8"/><circle cx="463.9" cy="365.8" r="2.35" fill="#8a80cc" fill-opacity="0.8"/><circle cx="364.0" cy="367.6" r="2.35" fill="#8a80cc" fill-opacity="0.8"/><circle cx="286.2" cy="372.9" r="2.35" fill="#8a80cc" fill-opacity="0.8"/><circle cx="409.0" cy="352.4" r="2.35" fill="#8a80cc" fill-opacity="0.8"/><circle cx="606.4" cy="355.6" r="2.35" fill="#8a80cc" fill-opacity="0.8"/><circle cx="252.0" cy="346.3" r="2.35" fill="#8a80cc" fill-opacity="0.8"/><circle cx="502.4" cy="372.3" r="2.35" fill="#8a80cc" fill-opacity="0.8"/><circle cx="143.8" cy="371.1" r="2.35" fill="#8a80cc" fill-opacity="0.8"/><circle cx="392.5" cy="353.9" r="2.35" fill="#8a80cc" fill-opacity="0.8"/><circle cx="107.3" cy="370.6" r="2.35" fill="#8a80cc" fill-opacity="0.8"/><circle cx="505.3" cy="368.3" r="2.35" fill="#8a80cc" fill-opacity="0.8"/><circle cx="406.2" cy="370.5" r="2.35" fill="#8a80cc" fill-opacity="0.8"/><circle cx="149.7" cy="352.4" r="2.35" fill="#8a80cc" fill-opacity="0.8"/><circle cx="498.9" cy="364.3" r="2.35" fill="#8a80cc" fill-opacity="0.8"/><circle cx="195.1" cy="374.3" r="2.35" fill="#8a80cc" fill-opacity="0.8"/><circle cx="167.8" cy="371.6" r="2.35" fill="#8a80cc" fill-opacity="0.8"/><circle cx="129.7" cy="374.2" r="2.35" fill="#8a80cc" fill-opacity="0.8"/><circle cx="340.9" cy="368.1" r="2.35" fill="#8a80cc" fill-opacity="0.8"/><circle cx="395.4" cy="363.6" r="2.35" fill="#8a80cc" fill-opacity="0.8"/><circle cx="237.0" cy="367.7" r="2.35" fill="#8a80cc" fill-opacity="0.8"/><circle cx="230.2" cy="371.2" r="2.35" fill="#8a80cc" fill-opacity="0.8"/><circle cx="307.9" cy="362.1" r="2.35" fill="#8a80cc" fill-opacity="0.8"/><circle cx="455.3" cy="367.3" r="2.35" fill="#8a80cc" fill-opacity="0.8"/><circle cx="544.7" cy="365.9" r="2.35" fill="#8a80cc" fill-opacity="0.8"/><circle cx="225.3" cy="357.9" r="2.35" fill="#8a80cc" fill-opacity="0.8"/><circle cx="175.8" cy="368.5" r="2.35" fill="#8a80cc" fill-opacity="0.8"/><circle cx="445.9" cy="358.0" r="2.35" fill="#8a80cc" fill-opacity="0.8"/><circle cx="561.0" cy="369.7" r="2.35" fill="#8a80cc" fill-opacity="0.8"/><circle cx="549.2" cy="357.7" r="2.35" fill="#8a80cc" fill-opacity="0.8"/><circle cx="510.5" cy="358.8" r="2.35" fill="#8a80cc" fill-opacity="0.8"/><circle cx="89.9" cy="365.6" r="2.35" fill="#8a80cc" fill-opacity="0.8"/><circle cx="423.9" cy="357.2" r="2.35" fill="#8a80cc" fill-opacity="0.8"/><circle cx="159.3" cy="374.8" r="2.35" fill="#8a80cc" fill-opacity="0.8"/><circle cx="364.4" cy="369.9" r="2.35" fill="#8a80cc" fill-opacity="0.8"/><circle cx="187.5" cy="368.5" r="2.35" fill="#8a80cc" fill-opacity="0.8"/><circle cx="207.7" cy="370.2" r="2.35" fill="#8a80cc" fill-opacity="0.8"/><circle cx="125.0" cy="371.7" r="2.35" fill="#8a80cc" fill-opacity="0.8"/><circle cx="393.3" cy="360.6" r="2.35" fill="#8a80cc" fill-opacity="0.8"/><circle cx="221.5" cy="359.9" r="2.35" fill="#8a80cc" fill-opacity="0.8"/><circle cx="93.4" cy="374.3" r="2.35" fill="#8a80cc" fill-opacity="0.8"/><circle cx="475.2" cy="354.7" r="2.35" fill="#8a80cc" fill-opacity="0.8"/><circle cx="161.7" cy="364.8" r="2.35" fill="#8a80cc" fill-opacity="0.8"/><circle cx="184.6" cy="371.2" r="2.35" fill="#8a80cc" fill-opacity="0.8"/><circle cx="399.9" cy="374.9" r="2.35" fill="#8a80cc" fill-opacity="0.8"/><circle cx="537.0" cy="370.8" r="2.35" fill="#8a80cc" fill-opacity="0.8"/><circle cx="324.2" cy="366.4" r="2.35" fill="#8a80cc" fill-opacity="0.8"/><circle cx="466.7" cy="374.1" r="2.35" fill="#8a80cc" fill-opacity="0.8"/><circle cx="205.5" cy="369.5" r="2.35" fill="#8a80cc" fill-opacity="0.8"/><circle cx="351.1" cy="370.3" r="2.35" fill="#8a80cc" fill-opacity="0.8"/><circle cx="317.5" cy="373.2" r="2.35" fill="#8a80cc" fill-opacity="0.8"/><circle cx="485.9" cy="372.6" r="2.35" fill="#8a80cc" fill-opacity="0.8"/><circle cx="608.8" cy="373.3" r="2.35" fill="#8a80cc" fill-opacity="0.8"/><circle cx="373.1" cy="368.3" r="2.35" fill="#8a80cc" fill-opacity="0.8"/><circle cx="555.1" cy="371.2" r="2.35" fill="#8a80cc" fill-opacity="0.8"/><circle cx="310.2" cy="367.6" r="2.35" fill="#8a80cc" fill-opacity="0.8"/><circle cx="336.9" cy="369.1" r="2.35" fill="#8a80cc" fill-opacity="0.8"/><circle cx="340.8" cy="369.4" r="2.35" fill="#8a80cc" fill-opacity="0.8"/><circle cx="587.2" cy="371.6" r="2.35" fill="#8a80cc" fill-opacity="0.8"/><circle cx="472.5" cy="365.2" r="2.35" fill="#8a80cc" fill-opacity="0.8"/><circle cx="384.9" cy="348.9" r="2.35" fill="#8a80cc" fill-opacity="0.8"/><circle cx="337.9" cy="369.0" r="2.35" fill="#8a80cc" fill-opacity="0.8"/><circle cx="168.9" cy="369.7" r="2.35" fill="#8a80cc" fill-opacity="0.8"/><circle cx="151.7" cy="362.2" r="2.35" fill="#8a80cc" fill-opacity="0.8"/><circle cx="189.6" cy="373.4" r="2.35" fill="#8a80cc" fill-opacity="0.8"/><circle cx="323.2" cy="365.3" r="2.35" fill="#8a80cc" fill-opacity="0.8"/><circle cx="491.7" cy="375.2" r="2.35" fill="#8a80cc" fill-opacity="0.8"/><circle cx="248.9" cy="373.7" r="2.35" fill="#8a80cc" fill-opacity="0.8"/><circle cx="573.7" cy="374.2" r="2.35" fill="#8a80cc" fill-opacity="0.8"/><circle cx="353.7" cy="353.0" r="2.35" fill="#8a80cc" fill-opacity="0.8"/><circle cx="137.1" cy="369.4" r="2.35" fill="#8a80cc" fill-opacity="0.8"/><circle cx="198.4" cy="351.4" r="2.35" fill="#8a80cc" fill-opacity="0.8"/><circle cx="617.5" cy="373.6" r="2.35" fill="#8a80cc" fill-opacity="0.8"/><circle cx="124.9" cy="370.3" r="2.35" fill="#8a80cc" fill-opacity="0.8"/><circle cx="566.2" cy="371.8" r="2.35" fill="#8a80cc" fill-opacity="0.8"/><circle cx="298.5" cy="364.8" r="2.35" fill="#8a80cc" fill-opacity="0.8"/><circle cx="277.1" cy="371.2" r="2.35" fill="#8a80cc" fill-opacity="0.8"/><circle cx="336.4" cy="365.7" r="2.35" fill="#8a80cc" fill-opacity="0.8"/><circle cx="221.4" cy="345.1" r="2.35" fill="#8a80cc" fill-opacity="0.8"/><circle cx="382.0" cy="355.2" r="2.35" fill="#8a80cc" fill-opacity="0.8"/><circle cx="97.5" cy="361.0" r="2.35" fill="#8a80cc" fill-opacity="0.8"/><circle cx="124.3" cy="373.2" r="2.35" fill="#8a80cc" fill-opacity="0.8"/><circle cx="206.1" cy="368.5" r="2.35" fill="#8a80cc" fill-opacity="0.8"/><circle cx="612.9" cy="373.9" r="2.35" fill="#8a80cc" fill-opacity="0.8"/><circle cx="152.7" cy="366.5" r="2.35" fill="#8a80cc" fill-opacity="0.8"/><circle cx="287.8" cy="372.7" r="2.35" fill="#8a80cc" fill-opacity="0.8"/><circle cx="412.6" cy="360.7" r="2.35" fill="#8a80cc" fill-opacity="0.8"/><circle cx="237.7" cy="370.3" r="2.35" fill="#8a80cc" fill-opacity="0.8"/><circle cx="105.1" cy="359.0" r="2.35" fill="#8a80cc" fill-opacity="0.8"/><circle cx="550.5" cy="372.4" r="2.35" fill="#8a80cc" fill-opacity="0.8"/><circle cx="350.3" cy="367.7" r="2.35" fill="#8a80cc" fill-opacity="0.8"/><circle cx="356.6" cy="357.6" r="2.35" fill="#8a80cc" fill-opacity="0.8"/><circle cx="364.3" cy="364.8" r="2.35" fill="#8a80cc" fill-opacity="0.8"/><circle cx="413.2" cy="365.0" r="2.35" fill="#8a80cc" fill-opacity="0.8"/><circle cx="94.7" cy="361.7" r="2.35" fill="#8a80cc" fill-opacity="0.8"/><circle cx="365.1" cy="363.6" r="2.35" fill="#8a80cc" fill-opacity="0.8"/><circle cx="535.4" cy="358.5" r="2.35" fill="#8a80cc" fill-opacity="0.8"/><circle cx="532.1" cy="359.5" r="2.35" fill="#8a80cc" fill-opacity="0.8"/><circle cx="576.6" cy="363.8" r="2.35" fill="#8a80cc" fill-opacity="0.8"/><circle cx="227.9" cy="371.3" r="2.35" fill="#8a80cc" fill-opacity="0.8"/><circle cx="226.7" cy="371.0" r="2.35" fill="#8a80cc" fill-opacity="0.8"/><circle cx="558.8" cy="374.3" r="2.35" fill="#8a80cc" fill-opacity="0.8"/><circle cx="304.3" cy="336.6" r="2.35" fill="#8a80cc" fill-opacity="0.8"/><circle cx="298.8" cy="350.3" r="2.35" fill="#8a80cc" fill-opacity="0.8"/><circle cx="583.2" cy="365.8" r="2.35" fill="#8a80cc" fill-opacity="0.8"/><circle cx="191.2" cy="374.6" r="2.35" fill="#8a80cc" fill-opacity="0.8"/><circle cx="206.7" cy="365.0" r="2.35" fill="#8a80cc" fill-opacity="0.8"/><circle cx="135.0" cy="367.4" r="2.35" fill="#8a80cc" fill-opacity="0.8"/><circle cx="378.2" cy="372.0" r="2.35" fill="#8a80cc" fill-opacity="0.8"/><circle cx="634.6" cy="365.1" r="2.35" fill="#8a80cc" fill-opacity="0.8"/><circle cx="389.0" cy="365.8" r="2.35" fill="#8a80cc" fill-opacity="0.8"/><circle cx="329.6" cy="354.7" r="2.35" fill="#8a80cc" fill-opacity="0.8"/><circle cx="89.2" cy="372.7" r="2.35" fill="#8a80cc" fill-opacity="0.8"/><circle cx="176.6" cy="369.7" r="2.35" fill="#8a80cc" fill-opacity="0.8"/><circle cx="479.4" cy="356.3" r="2.35" fill="#8a80cc" fill-opacity="0.8"/><circle cx="86.1" cy="373.1" r="2.35" fill="#8a80cc" fill-opacity="0.8"/><circle cx="226.3" cy="355.8" r="2.35" fill="#8a80cc" fill-opacity="0.8"/><circle cx="377.3" cy="350.0" r="2.35" fill="#8a80cc" fill-opacity="0.8"/><circle cx="101.5" cy="359.0" r="2.35" fill="#8a80cc" fill-opacity="0.8"/><circle cx="392.5" cy="368.1" r="2.35" fill="#8a80cc" fill-opacity="0.8"/><circle cx="636.8" cy="361.7" r="2.35" fill="#8a80cc" fill-opacity="0.8"/><circle cx="489.6" cy="340.7" r="2.35" fill="#8a80cc" fill-opacity="0.8"/><circle cx="405.2" cy="366.3" r="2.35" fill="#8a80cc" fill-opacity="0.8"/><circle cx="212.1" cy="368.8" r="2.35" fill="#8a80cc" fill-opacity="0.8"/><circle cx="480.9" cy="333.6" r="2.35" fill="#8a80cc" fill-opacity="0.8"/><circle cx="102.7" cy="346.5" r="2.35" fill="#8a80cc" fill-opacity="0.8"/><circle cx="295.9" cy="364.5" r="2.35" fill="#8a80cc" fill-opacity="0.8"/><circle cx="209.5" cy="371.9" r="2.35" fill="#8a80cc" fill-opacity="0.8"/><circle cx="289.0" cy="344.4" r="2.35" fill="#8a80cc" fill-opacity="0.8"/><circle cx="232.5" cy="367.3" r="2.35" fill="#8a80cc" fill-opacity="0.8"/><circle cx="332.5" cy="364.3" r="2.35" fill="#8a80cc" fill-opacity="0.8"/><circle cx="541.6" cy="367.2" r="2.35" fill="#8a80cc" fill-opacity="0.8"/><circle cx="201.3" cy="369.3" r="2.35" fill="#8a80cc" fill-opacity="0.8"/><circle cx="113.9" cy="372.2" r="2.35" fill="#8a80cc" fill-opacity="0.8"/><circle cx="465.1" cy="352.5" r="2.35" fill="#8a80cc" fill-opacity="0.8"/><circle cx="578.9" cy="367.7" r="2.35" fill="#8a80cc" fill-opacity="0.8"/><circle cx="568.7" cy="372.7" r="2.35" fill="#8a80cc" fill-opacity="0.8"/><circle cx="520.3" cy="369.8" r="2.35" fill="#8a80cc" fill-opacity="0.8"/><circle cx="504.4" cy="373.5" r="2.35" fill="#8a80cc" fill-opacity="0.8"/><circle cx="343.9" cy="354.0" r="2.35" fill="#8a80cc" fill-opacity="0.8"/><circle cx="255.0" cy="371.6" r="2.35" fill="#8a80cc" fill-opacity="0.8"/><circle cx="184.4" cy="370.4" r="2.35" fill="#8a80cc" fill-opacity="0.8"/><circle cx="292.3" cy="365.8" r="2.35" fill="#8a80cc" fill-opacity="0.8"/><circle cx="362.6" cy="357.9" r="2.35" fill="#8a80cc" fill-opacity="0.8"/><circle cx="211.0" cy="358.0" r="2.35" fill="#8a80cc" fill-opacity="0.8"/><circle cx="163.2" cy="371.3" r="2.35" fill="#8a80cc" fill-opacity="0.8"/><circle cx="428.9" cy="329.7" r="2.35" fill="#8a80cc" fill-opacity="0.8"/><circle cx="115.0" cy="375.0" r="2.35" fill="#8a80cc" fill-opacity="0.8"/><circle cx="365.5" cy="367.8" r="2.35" fill="#8a80cc" fill-opacity="0.8"/><circle cx="434.6" cy="362.8" r="2.35" fill="#8a80cc" fill-opacity="0.8"/><circle cx="509.1" cy="355.7" r="2.35" fill="#8a80cc" fill-opacity="0.8"/><circle cx="522.9" cy="362.2" r="2.35" fill="#8a80cc" fill-opacity="0.8"/><circle cx="499.4" cy="338.7" r="2.35" fill="#8a80cc" fill-opacity="0.8"/><circle cx="405.4" cy="369.9" r="2.35" fill="#8a80cc" fill-opacity="0.8"/><circle cx="378.3" cy="351.5" r="2.35" fill="#8a80cc" fill-opacity="0.8"/><circle cx="611.3" cy="374.6" r="2.35" fill="#8a80cc" fill-opacity="0.8"/><circle cx="589.1" cy="368.2" r="2.35" fill="#8a80cc" fill-opacity="0.8"/><circle cx="526.4" cy="372.8" r="2.35" fill="#8a80cc" fill-opacity="0.8"/><circle cx="160.6" cy="345.3" r="2.35" fill="#8a80cc" fill-opacity="0.8"/><circle cx="595.2" cy="370.5" r="2.35" fill="#8a80cc" fill-opacity="0.8"/><circle cx="562.6" cy="375.4" r="2.35" fill="#8a80cc" fill-opacity="0.8"/><circle cx="421.7" cy="362.8" r="2.35" fill="#8a80cc" fill-opacity="0.8"/><circle cx="527.8" cy="360.9" r="2.35" fill="#8a80cc" fill-opacity="0.8"/><circle cx="452.3" cy="368.4" r="2.35" fill="#8a80cc" fill-opacity="0.8"/><circle cx="275.6" cy="368.8" r="2.35" fill="#8a80cc" fill-opacity="0.8"/><circle cx="610.6" cy="369.1" r="2.35" fill="#8a80cc" fill-opacity="0.8"/><circle cx="381.7" cy="369.2" r="2.35" fill="#8a80cc" fill-opacity="0.8"/><circle cx="463.4" cy="341.7" r="2.35" fill="#8a80cc" fill-opacity="0.8"/><circle cx="360.7" cy="363.0" r="2.35" fill="#8a80cc" fill-opacity="0.8"/><circle cx="550.4" cy="372.5" r="2.35" fill="#8a80cc" fill-opacity="0.8"/><circle cx="627.5" cy="373.1" r="2.35" fill="#8a80cc" fill-opacity="0.8"/><circle cx="380.7" cy="343.7" r="2.35" fill="#8a80cc" fill-opacity="0.8"/><circle cx="138.0" cy="374.1" r="2.35" fill="#8a80cc" fill-opacity="0.8"/><circle cx="453.2" cy="374.3" r="2.35" fill="#8a80cc" fill-opacity="0.8"/><circle cx="152.7" cy="375.1" r="2.35" fill="#8a80cc" fill-opacity="0.8"/><circle cx="350.8" cy="346.5" r="2.35" fill="#8a80cc" fill-opacity="0.8"/><circle cx="120.5" cy="369.2" r="2.35" fill="#8a80cc" fill-opacity="0.8"/><circle cx="303.2" cy="370.3" r="2.35" fill="#8a80cc" fill-opacity="0.8"/><circle cx="200.1" cy="368.9" r="2.35" fill="#8a80cc" fill-opacity="0.8"/><circle cx="615.1" cy="363.0" r="2.35" fill="#8a80cc" fill-opacity="0.8"/><circle cx="244.3" cy="374.1" r="2.35" fill="#8a80cc" fill-opacity="0.8"/><circle cx="480.9" cy="368.0" r="2.35" fill="#8a80cc" fill-opacity="0.8"/><circle cx="389.7" cy="366.0" r="2.35" fill="#8a80cc" fill-opacity="0.8"/><circle cx="219.5" cy="370.0" r="2.35" fill="#8a80cc" fill-opacity="0.8"/><circle cx="195.4" cy="369.7" r="2.35" fill="#8a80cc" fill-opacity="0.8"/><circle cx="403.3" cy="367.0" r="2.35" fill="#8a80cc" fill-opacity="0.8"/><circle cx="520.8" cy="361.5" r="2.35" fill="#8a80cc" fill-opacity="0.8"/><circle cx="623.4" cy="363.0" r="2.35" fill="#8a80cc" fill-opacity="0.8"/><circle cx="533.1" cy="365.5" r="2.35" fill="#8a80cc" fill-opacity="0.8"/><circle cx="348.5" cy="368.1" r="2.35" fill="#8a80cc" fill-opacity="0.8"/><circle cx="148.1" cy="362.5" r="2.35" fill="#8a80cc" fill-opacity="0.8"/><circle cx="459.8" cy="368.4" r="2.35" fill="#8a80cc" fill-opacity="0.8"/><circle cx="100.6" cy="374.4" r="2.35" fill="#8a80cc" fill-opacity="0.8"/><circle cx="580.5" cy="367.3" r="2.35" fill="#8a80cc" fill-opacity="0.8"/><circle cx="577.3" cy="373.9" r="2.35" fill="#8a80cc" fill-opacity="0.8"/><circle cx="545.0" cy="359.6" r="2.35" fill="#8a80cc" fill-opacity="0.8"/><circle cx="528.3" cy="371.0" r="2.35" fill="#8a80cc" fill-opacity="0.8"/><circle cx="484.9" cy="369.6" r="2.35" fill="#8a80cc" fill-opacity="0.8"/><circle cx="130.5" cy="372.8" r="2.35" fill="#8a80cc" fill-opacity="0.8"/><circle cx="637.0" cy="374.2" r="2.35" fill="#8a80cc" fill-opacity="0.8"/><circle cx="347.8" cy="372.1" r="2.35" fill="#8a80cc" fill-opacity="0.8"/><circle cx="376.2" cy="365.4" r="2.35" fill="#8a80cc" fill-opacity="0.8"/><circle cx="181.3" cy="355.7" r="2.35" fill="#8a80cc" fill-opacity="0.8"/><circle cx="98.6" cy="361.8" r="2.35" fill="#8a80cc" fill-opacity="0.8"/><circle cx="188.2" cy="371.3" r="2.35" fill="#8a80cc" fill-opacity="0.8"/><circle cx="326.7" cy="363.1" r="2.35" fill="#8a80cc" fill-opacity="0.8"/><circle cx="120.1" cy="365.1" r="2.35" fill="#8a80cc" fill-opacity="0.8"/><circle cx="608.8" cy="358.9" r="2.35" fill="#8a80cc" fill-opacity="0.8"/><circle cx="264.1" cy="359.4" r="2.35" fill="#8a80cc" fill-opacity="0.8"/><circle cx="463.6" cy="355.2" r="2.35" fill="#8a80cc" fill-opacity="0.8"/><circle cx="401.3" cy="349.6" r="2.35" fill="#8a80cc" fill-opacity="0.8"/><circle cx="592.2" cy="364.4" r="2.35" fill="#8a80cc" fill-opacity="0.8"/><circle cx="169.8" cy="370.4" r="2.35" fill="#8a80cc" fill-opacity="0.8"/><circle cx="625.8" cy="367.8" r="2.35" fill="#8a80cc" fill-opacity="0.8"/><circle cx="542.9" cy="372.3" r="2.35" fill="#8a80cc" fill-opacity="0.8"/><circle cx="609.3" cy="366.5" r="2.35" fill="#8a80cc" fill-opacity="0.8"/><circle cx="502.6" cy="357.1" r="2.35" fill="#8a80cc" fill-opacity="0.8"/><circle cx="401.2" cy="366.6" r="2.35" fill="#8a80cc" fill-opacity="0.8"/><circle cx="236.1" cy="368.1" r="2.35" fill="#8a80cc" fill-opacity="0.8"/><circle cx="96.0" cy="368.9" r="2.35" fill="#8a80cc" fill-opacity="0.8"/><circle cx="428.9" cy="337.4" r="2.35" fill="#8a80cc" fill-opacity="0.8"/><circle cx="573.3" cy="366.5" r="2.35" fill="#8a80cc" fill-opacity="0.8"/><circle cx="477.5" cy="353.2" r="2.35" fill="#8a80cc" fill-opacity="0.8"/><circle cx="294.3" cy="352.4" r="2.35" fill="#8a80cc" fill-opacity="0.8"/><circle cx="561.1" cy="365.1" r="2.35" fill="#8a80cc" fill-opacity="0.8"/><circle cx="400.8" cy="361.5" r="2.35" fill="#8a80cc" fill-opacity="0.8"/><circle cx="313.1" cy="367.7" r="2.35" fill="#8a80cc" fill-opacity="0.8"/><circle cx="244.9" cy="371.1" r="2.35" fill="#8a80cc" fill-opacity="0.8"/><circle cx="594.2" cy="363.1" r="2.35" fill="#8a80cc" fill-opacity="0.8"/><circle cx="153.4" cy="368.1" r="2.35" fill="#8a80cc" fill-opacity="0.8"/><circle cx="211.1" cy="359.4" r="2.35" fill="#8a80cc" fill-opacity="0.8"/><circle cx="329.9" cy="357.7" r="2.35" fill="#8a80cc" fill-opacity="0.8"/><circle cx="541.5" cy="359.1" r="2.35" fill="#8a80cc" fill-opacity="0.8"/><circle cx="172.5" cy="365.7" r="2.35" fill="#8a80cc" fill-opacity="0.8"/><circle cx="404.2" cy="357.2" r="2.35" fill="#8a80cc" fill-opacity="0.8"/><circle cx="359.3" cy="361.4" r="2.35" fill="#8a80cc" fill-opacity="0.8"/><circle cx="566.0" cy="370.0" r="2.35" fill="#8a80cc" fill-opacity="0.8"/><circle cx="515.3" cy="351.5" r="2.35" fill="#8a80cc" fill-opacity="0.8"/><circle cx="168.5" cy="373.2" r="2.35" fill="#8a80cc" fill-opacity="0.8"/><circle cx="331.0" cy="358.6" r="2.35" fill="#8a80cc" fill-opacity="0.8"/><circle cx="627.6" cy="374.0" r="2.35" fill="#8a80cc" fill-opacity="0.8"/><circle cx="344.2" cy="373.1" r="2.35" fill="#8a80cc" fill-opacity="0.8"/><circle cx="497.6" cy="365.7" r="2.35" fill="#8a80cc" fill-opacity="0.8"/><circle cx="552.8" cy="367.8" r="2.35" fill="#8a80cc" fill-opacity="0.8"/><circle cx="477.6" cy="367.5" r="2.35" fill="#8a80cc" fill-opacity="0.8"/><circle cx="353.5" cy="373.7" r="2.35" fill="#8a80cc" fill-opacity="0.8"/><circle cx="304.3" cy="368.6" r="2.35" fill="#8a80cc" fill-opacity="0.8"/><circle cx="456.5" cy="354.5" r="2.35" fill="#8a80cc" fill-opacity="0.8"/><circle cx="93.2" cy="368.3" r="2.35" fill="#8a80cc" fill-opacity="0.8"/><circle cx="289.8" cy="372.9" r="2.35" fill="#8a80cc" fill-opacity="0.8"/><circle cx="370.9" cy="350.0" r="2.35" fill="#8a80cc" fill-opacity="0.8"/><circle cx="353.2" cy="371.1" r="2.35" fill="#8a80cc" fill-opacity="0.8"/><circle cx="370.5" cy="354.0" r="2.35" fill="#8a80cc" fill-opacity="0.8"/><circle cx="327.0" cy="370.8" r="2.35" fill="#8a80cc" fill-opacity="0.8"/><circle cx="114.6" cy="370.4" r="2.35" fill="#8a80cc" fill-opacity="0.8"/><circle cx="386.2" cy="351.7" r="2.35" fill="#8a80cc" fill-opacity="0.8"/><circle cx="542.7" cy="372.9" r="2.35" fill="#8a80cc" fill-opacity="0.8"/><circle cx="431.1" cy="361.5" r="2.35" fill="#8a80cc" fill-opacity="0.8"/><circle cx="430.7" cy="335.9" r="2.35" fill="#8a80cc" fill-opacity="0.8"/><circle cx="123.3" cy="368.2" r="2.35" fill="#8a80cc" fill-opacity="0.8"/><circle cx="554.3" cy="370.6" r="2.35" fill="#8a80cc" fill-opacity="0.8"/><circle cx="412.3" cy="363.2" r="2.35" fill="#8a80cc" fill-opacity="0.8"/><circle cx="417.9" cy="350.8" r="2.35" fill="#8a80cc" fill-opacity="0.8"/><circle cx="92.5" cy="372.7" r="2.35" fill="#8a80cc" fill-opacity="0.8"/><circle cx="260.0" cy="346.9" r="2.35" fill="#8a80cc" fill-opacity="0.8"/><circle cx="328.0" cy="285.6" r="2.35" fill="#8a80cc" fill-opacity="0.8"/><circle cx="433.4" cy="263.7" r="2.35" fill="#8a80cc" fill-opacity="0.8"/><circle cx="432.5" cy="268.1" r="2.35" fill="#8a80cc" fill-opacity="0.8"/><circle cx="442.0" cy="274.7" r="2.35" fill="#8a80cc" fill-opacity="0.8"/><circle cx="431.5" cy="281.2" r="2.35" fill="#8a80cc" fill-opacity="0.8"/><circle cx="435.0" cy="281.2" r="2.35" fill="#8a80cc" fill-opacity="0.8"/><circle cx="435.0" cy="290.0" r="2.35" fill="#8a80cc" fill-opacity="0.8"/><circle cx="436.0" cy="303.1" r="2.35" fill="#8a80cc" fill-opacity="0.8"/><circle cx="443.0" cy="303.1" r="2.35" fill="#8a80cc" fill-opacity="0.8"/><circle cx="445.0" cy="303.1" r="2.35" fill="#8a80cc" fill-opacity="0.8"/><circle cx="440.0" cy="311.9" r="2.35" fill="#8a80cc" fill-opacity="0.8"/><circle cx="438.0" cy="318.5" r="2.35" fill="#8a80cc" fill-opacity="0.8"/><circle cx="442.0" cy="322.9" r="2.35" fill="#8a80cc" fill-opacity="0.8"/><circle cx="436.0" cy="329.4" r="2.35" fill="#8a80cc" fill-opacity="0.8"/><circle cx="444.0" cy="333.8" r="2.35" fill="#8a80cc" fill-opacity="0.8"/><circle cx="609.8" cy="314.1" r="2.35" fill="#8a80cc" fill-opacity="0.8"/><circle cx="606.3" cy="320.2" r="2.35" fill="#8a80cc" fill-opacity="0.8"/><circle cx="98.0" cy="309.7" r="2.35" fill="#8a80cc" fill-opacity="0.8"/><circle cx="200.0" cy="318.5" r="2.35" fill="#8a80cc" fill-opacity="0.8"/><circle cx="199.0" cy="320.7" r="2.35" fill="#8a80cc" fill-opacity="0.8"/><circle cx="201.0" cy="329.4" r="2.35" fill="#8a80cc" fill-opacity="0.8"/><circle cx="203.0" cy="333.8" r="2.35" fill="#8a80cc" fill-opacity="0.8"/><circle cx="185.0" cy="349.1" r="2.35" fill="#8a80cc" fill-opacity="0.8"/><circle cx="190.0" cy="351.3" r="2.35" fill="#8a80cc" fill-opacity="0.8"/><circle cx="318.0" cy="333.8" r="2.35" fill="#8a80cc" fill-opacity="0.8"/><circle cx="342.0" cy="336.0" r="2.35" fill="#8a80cc" fill-opacity="0.8"/><circle cx="352.0" cy="342.6" r="2.35" fill="#8a80cc" fill-opacity="0.8"/><circle cx="395.0" cy="340.4" r="2.35" fill="#8a80cc" fill-opacity="0.8"/><circle cx="486.0" cy="344.8" r="2.35" fill="#8a80cc" fill-opacity="0.8"/><circle cx="481.0" cy="349.1" r="2.35" fill="#8a80cc" fill-opacity="0.8"/><circle cx="521.0" cy="333.8" r="2.35" fill="#8a80cc" fill-opacity="0.8"/><circle cx="523.0" cy="340.4" r="2.35" fill="#8a80cc" fill-opacity="0.8"/><circle cx="585.0" cy="340.4" r="2.35" fill="#8a80cc" fill-opacity="0.8"/><circle cx="592.0" cy="342.6" r="2.35" fill="#8a80cc" fill-opacity="0.8"/></g>
<path d="M49.0 224.2 V377.6 H683" fill="none" stroke="#606060" stroke-width="1.3"/>
<line x1="46.7" x2="49.0" y1="377.6" y2="377.6" stroke="#606060" stroke-width="0.9"/>
<text transform="translate(44.6,380.7) scale(0.92,1)" font-size="8.6" fill="#4d4d4d" text-anchor="end">0.0</text>
<line x1="46.7" x2="49.0" y1="333.8" y2="333.8" stroke="#606060" stroke-width="0.9"/>
<text transform="translate(44.6,336.9) scale(0.92,1)" font-size="8.6" fill="#4d4d4d" text-anchor="end">0.2</text>
<line x1="46.7" x2="49.0" y1="290.0" y2="290.0" stroke="#606060" stroke-width="0.9"/>
<text transform="translate(44.6,293.1) scale(0.92,1)" font-size="8.6" fill="#4d4d4d" text-anchor="end">0.4</text>
<line x1="46.7" x2="49.0" y1="246.2" y2="246.2" stroke="#606060" stroke-width="0.9"/>
<text transform="translate(44.6,249.3) scale(0.92,1)" font-size="8.6" fill="#4d4d4d" text-anchor="end">0.6</text>
<line x1="78.5" x2="78.5" y1="377.6" y2="379.90000000000003" stroke="#606060" stroke-width="0.9"/>
<line x1="245.5" x2="245.5" y1="377.6" y2="379.90000000000003" stroke="#606060" stroke-width="0.9"/>
<line x1="413.4" x2="413.4" y1="377.6" y2="379.90000000000003" stroke="#606060" stroke-width="0.9"/>
<line x1="580.4" x2="580.4" y1="377.6" y2="379.90000000000003" stroke="#606060" stroke-width="0.9"/>
<text transform="translate(20.6,302) rotate(-90)" font-size="15.5" fill="#000" text-anchor="middle"><tspan font-style="italic">F</tspan><tspan dy="3.6">ST</tspan></text>
<text x="0.8" y="218.7" font-size="25.5" fill="#000">b</text>
<text x="627" y="239.6" font-size="10" fill="#000">colony</text>
<line x1="628.9" x2="640.7" y1="252.5" y2="252.5" stroke="#8a1a50" stroke-width="2.8"/>
<line x1="628.9" x2="640.7" y1="267.6" y2="267.6" stroke="#5a4eb4" stroke-width="2.8"/>
<text x="646.4" y="255.2" font-size="7.5" fill="#1a1a1a">Florida</text>
<text x="646.4" y="270.3" font-size="7.5" fill="#1a1a1a">Alberta</text>
<rect x="218.7" y="409.1" width="293.3" height="108.1" fill="#fdf3e3"/>
<path d="M78.4 471.1V499.6M81.5 473.0V495.2M84.6 475.7V496.5M87.7 478.2V493.5M90.8 474.2V496.9M93.9 476.3V493.7M97.0 470.8V490.4M100.1 475.3V491.3M103.2 471.3V495.6M106.3 483.7V508.9M109.4 484.6V500.5M112.5 467.7V497.9M115.6 471.8V501.4M118.7 483.5V501.0M121.8 481.1V499.1M124.9 473.8V497.8M128.0 479.7V493.6M131.1 481.5V498.7M134.2 482.9V496.4M137.3 474.9V497.2M140.4 474.7V503.6M143.5 477.3V503.4M146.6 483.2V500.8M149.7 482.2V504.2M152.8 477.0V499.8M155.9 480.0V501.8M159.0 482.4V496.5M162.1 481.5V496.0M165.2 473.6V499.1M168.3 485.5V506.3M171.4 488.7V505.1M174.5 484.0V505.0M177.6 486.1V508.2M180.7 484.3V508.7M183.8 492.0V509.7M186.9 489.6V506.5M190.0 484.1V509.7M193.1 488.0V503.0M196.2 486.4V505.1M199.3 483.5V504.2M202.4 482.4V505.6M205.5 487.7V506.6M208.6 485.7V510.7M211.7 486.3V512.0M214.8 485.1V507.0M217.9 491.8V501.0M221.0 491.6V501.3M224.1 489.1V500.5M227.2 492.4V502.7M230.3 494.1V503.5M233.4 498.5V504.8M236.5 493.3V502.5M239.6 494.3V502.7M242.7 488.8V502.8M245.8 493.1V505.4M248.9 496.5V504.0M252.0 495.8V505.2M255.1 494.9V505.6M258.2 491.0V505.6M261.3 493.9V505.6M264.4 499.4V505.9M267.5 502.1V506.8M270.6 497.6V507.7M273.7 500.3V508.5M276.8 499.5V507.2M279.9 498.0V508.2M283.0 498.5V509.6M286.1 501.2V508.1M289.2 501.6V509.2M292.3 498.3V508.2M295.4 498.4V508.8M298.5 500.1V509.7M301.6 501.1V508.9M304.7 497.8V509.0M307.8 496.8V506.0M310.9 487.9V501.5M314.0 494.1V503.3M317.1 500.1V505.5M320.2 498.6V509.7M323.3 503.1V509.0M326.4 502.7V508.6M329.5 498.4V508.4M332.6 502.7V508.0M335.7 502.1V508.0M338.8 497.1V507.4M341.9 500.9V508.4M345.0 498.2V510.5M348.1 501.9V508.3M351.2 497.1V509.4M354.3 503.4V508.6M357.4 501.6V508.8M360.5 500.9V508.0M363.6 501.2V508.4M366.7 495.9V504.1M369.8 494.0V500.6M372.9 493.8V504.9M376.0 497.0V508.7M379.1 496.6V510.4M382.2 495.7V512.9M385.3 500.9V512.8M388.4 494.9V510.0M391.5 495.6V510.1M394.6 495.3V507.7M397.7 490.3V505.5M400.8 490.3V508.3M403.9 493.1V507.0M407.0 490.6V507.5M410.1 491.7V507.2M413.2 491.2V504.6M416.3 489.7V502.5M419.4 489.4V502.9M422.5 490.2V502.6M425.6 486.8V503.4M428.7 492.3V502.0M431.8 483.3V500.0M434.9 480.5V499.6M438.0 486.5V497.5M441.1 489.8V500.9M444.2 487.1V501.5M447.3 487.4V500.2M450.4 490.4V501.9M453.5 482.9V504.0M456.6 487.9V499.1M459.7 481.3V498.4M462.8 488.7V503.4M465.9 491.5V503.6M469.0 485.6V503.4M472.1 488.6V502.7M475.2 486.6V501.1M478.3 490.8V501.0M481.4 483.0V501.2M484.5 484.6V501.8M487.6 487.9V504.1M490.7 485.5V502.2M493.8 486.4V505.1M496.9 489.1V502.4M500.0 488.7V501.9M503.1 487.8V501.9M506.2 483.5V502.5M509.3 484.6V501.1M512.4 479.1V509.3M515.5 478.1V505.2M518.6 482.5V504.8M521.7 484.3V498.2M524.8 472.6V501.4M527.9 476.0V500.5M531.0 476.6V498.4M534.1 485.2V501.3M537.2 482.4V499.4M540.3 483.6V500.6M543.4 484.4V498.0M546.5 483.7V497.8M549.6 479.3V501.4M552.7 483.5V498.3M555.8 476.7V509.0M558.9 487.7V503.5M562.0 486.7V501.3M565.1 480.3V504.8M568.2 479.0V501.4M571.3 479.4V503.5M574.4 479.8V500.7M577.5 487.5V505.9M580.6 485.4V503.6M583.7 476.9V504.1M586.8 475.4V496.0M589.9 475.2V497.2M593.0 473.8V497.2M596.1 479.1V500.5M599.2 471.3V499.6M602.3 472.1V494.0M605.4 473.6V499.0M608.5 475.4V497.9M611.6 480.6V501.5M614.7 476.1V497.6M617.8 478.5V497.9M620.9 476.9V499.8M624.0 477.8V500.9M627.1 480.4V499.1M630.2 479.0V501.4M633.3 487.0V507.8M636.4 484.4V500.9M639.5 487.2V501.5M642.6 482.8V506.7M645.7 480.0V507.7M648.8 484.5V505.8M651.9 490.2V503.7M655.0 483.9V506.7M371.8 411.5V500.5M311.8 462.5V498.8M306.4 471.5V504.1M435.9 450.0V493.0M482.0 463.0V497.3M587.8 455.0V489.1M609.0 460.5V492.7M91.0 463.0V486.6M80.0 466.0V490.5M84.0 470.0V489.6M97.0 469.0V484.2M196.0 472.0V496.4M170.0 474.0V495.1M228.0 489.0V500.4M232.0 488.0V502.7M244.0 491.0V501.5M258.0 489.0V502.2M275.0 493.0V505.6M290.0 494.0V506.4M340.0 496.0V505.2M362.0 492.0V505.8M390.0 496.0V505.9M405.0 492.0V504.6M415.0 488.0V500.1M425.0 487.0V498.3M452.0 480.0V497.5M462.0 478.0V497.9M470.0 487.0V498.4M498.0 481.0V497.8M505.0 482.0V496.9M520.0 476.0V492.6M560.0 478.0V495.4M575.0 474.0V493.6M612.0 471.0V494.2M620.0 468.0V490.2M426.0 478.0V498.8M445.0 477.0V496.9M457.6 474.7V493.0M474.0 478.0V496.8M397.0 485.0V503.2M410.0 481.0V502.9" stroke="#cbaac6" stroke-opacity="0.38" stroke-width="3.0" fill="none"/>
<path d="M79.2 478.4V498.1M82.3 482.1V497.2M85.4 474.0V495.2M88.5 480.1V495.3M91.6 478.9V496.4M94.7 477.7V495.7M97.8 471.1V494.8M100.9 475.3V493.8M104.0 475.5V497.6M107.1 486.2V501.7M110.2 479.8V502.1M113.3 482.9V499.1M116.4 471.1V497.7M119.5 481.5V499.6M122.6 480.4V497.8M125.7 476.2V499.0M128.8 478.7V495.0M131.9 478.6V494.1M135.0 477.7V499.6M138.1 480.8V502.6M141.2 481.1V501.6M144.3 481.0V498.6M147.4 483.7V503.0M150.5 488.0V501.8M153.6 469.6V501.0M156.7 479.8V496.5M159.8 479.4V496.0M162.9 478.7V501.0M166.0 477.8V501.4M169.1 477.2V503.9M172.2 489.3V507.3M175.3 487.5V508.5M178.4 479.2V501.9M181.5 480.3V511.8M184.6 490.5V511.2M187.7 486.3V512.4M190.8 483.6V506.1M193.9 484.0V501.6M197.0 481.4V502.0M200.1 484.1V507.6M203.2 484.3V507.0M206.3 484.3V508.2M209.4 492.1V508.1M212.5 491.0V510.9M215.6 494.7V502.4M218.7 486.3V501.8M221.8 493.3V500.8M224.9 489.8V501.7M228.0 494.7V503.5M231.1 497.6V505.3M234.2 493.8V504.9M237.3 492.5V502.4M240.4 493.5V503.3M243.5 495.1V503.1M246.6 496.5V505.0M249.7 495.6V504.0M252.8 499.1V504.3M255.9 497.6V504.3M259.0 494.3V503.9M262.1 494.8V505.2M265.2 497.0V506.2M268.3 501.8V507.0M271.4 497.7V509.0M274.5 502.1V508.2M277.6 501.4V508.1M280.7 500.7V508.6M283.8 499.5V508.5M286.9 500.8V508.9M290.0 500.0V509.6M293.1 493.4V508.2M296.2 501.9V508.1M299.3 501.4V509.5M302.4 502.0V509.7M305.5 497.7V508.2M308.6 497.4V504.0M311.7 494.3V500.6M314.8 494.5V503.4M317.9 497.2V507.4M321.0 499.1V509.4M324.1 503.1V510.4M327.2 497.1V509.8M330.3 502.7V508.4M333.4 502.2V508.4M336.5 498.2V507.6M339.6 498.9V507.9M342.7 498.9V506.7M345.8 501.4V508.0M348.9 501.6V507.9M352.0 498.9V509.3M355.1 500.8V509.4M358.2 499.5V508.1M361.3 501.5V508.4M364.4 498.6V507.1M367.5 497.2V503.0M370.6 487.0V504.4M373.7 494.3V507.3M376.8 494.8V511.4M379.9 495.7V512.5M383.0 500.7V511.4M386.1 494.6V511.7M389.2 499.5V508.6M392.3 493.8V510.1M395.4 489.5V508.6M398.5 483.3V510.2M401.6 489.6V506.3M404.7 493.4V506.9M407.8 492.1V509.6M410.9 491.4V507.6M414.0 495.2V506.0M417.1 488.5V503.2M420.2 489.6V499.9M423.3 484.1V502.0M426.4 492.7V503.7M429.5 489.1V502.1M432.6 481.9V499.3M435.7 487.2V497.5M438.8 482.2V497.1M441.9 483.5V499.0M445.0 486.3V499.9M448.1 485.5V501.7M451.2 489.6V503.0M454.3 484.0V501.2M457.4 478.8V497.2M460.5 488.6V501.8M463.6 491.7V504.8M466.7 487.0V503.2M469.8 488.9V501.1M472.9 491.2V502.4M476.0 484.6V501.3M479.1 488.5V500.5M482.2 490.8V500.8M485.3 490.9V501.9M488.4 483.3V503.3M491.5 489.6V502.6M494.6 488.0V503.8M497.7 488.3V501.6M500.8 486.8V503.1M503.9 483.7V499.1M507.0 483.3V500.4M510.1 490.8V502.3M513.2 482.4V502.6M516.3 467.3V500.6M519.4 483.4V501.1M522.5 483.3V496.6M525.6 475.1V499.0M528.7 482.0V497.8M531.8 483.9V506.7M534.9 474.2V504.2M538.0 480.2V502.2M541.1 480.6V498.4M544.2 480.8V503.3M547.3 480.9V501.9M550.4 481.7V498.4M553.5 474.6V500.1M556.6 478.1V504.7M559.7 479.2V507.9M562.8 482.5V501.6M565.9 476.1V503.7M569.0 480.6V500.6M572.1 481.7V499.0M575.2 483.6V505.3M578.3 485.1V503.0M581.4 486.4V504.9M584.5 475.7V499.3M587.6 482.2V496.1M590.7 474.2V495.4M593.8 477.1V497.1M596.9 471.9V493.8M600.0 477.3V494.5M603.1 459.0V496.1M606.2 481.9V503.2M609.3 486.0V498.2M612.4 476.2V504.8M615.5 475.8V502.2M618.6 480.2V498.7M621.7 481.5V501.7M624.8 479.9V497.3M627.9 475.7V501.3M631.0 482.3V506.4M634.1 482.7V501.6M637.2 479.7V506.9M640.3 482.2V504.3M643.4 485.8V500.9M646.5 482.5V503.2M649.6 482.6V507.7M652.7 489.0V505.8M655.8 484.6V507.7M371.8 411.5V500.5M311.8 462.5V498.8M306.4 471.5V504.1M435.9 450.0V493.0M482.0 463.0V497.3M587.8 455.0V489.1M609.0 460.5V492.7" stroke="#d6bcd0" stroke-opacity="0.36" stroke-width="3.0" fill="none"/>
<path d="M80.7 483.0V499.5M83.8 477.5V500.1M86.9 479.4V497.8M90.0 479.3V496.4M93.1 476.7V493.6M96.2 473.3V489.3M99.3 472.4V492.5M102.4 476.2V495.6M105.5 475.7V500.6M108.6 481.1V499.9M111.7 478.7V496.3M114.8 475.7V498.0M117.9 476.2V499.0M121.0 478.1V496.0M124.1 480.5V498.1M127.2 471.2V499.3M130.3 477.7V495.9M133.4 472.3V498.7M136.5 477.0V499.6M139.6 484.3V499.7M142.7 483.5V503.5M145.8 478.4V499.7M148.9 483.6V510.3M152.0 485.7V505.8M155.1 475.2V497.7M158.2 476.2V494.5M161.3 478.6V494.8M164.4 471.8V500.3M167.5 480.9V499.4M170.6 486.7V505.8M173.7 480.6V507.6M176.8 484.2V504.4M179.9 487.3V503.4M183.0 485.5V504.8M186.1 493.4V508.8M189.2 488.9V509.8M192.3 485.0V509.6M195.4 478.2V501.3M198.5 489.3V508.2M201.6 481.6V507.2M204.7 484.6V505.4M207.8 487.3V511.9M210.9 490.5V510.9M214.0 493.3V505.8M217.1 494.9V501.2M220.2 491.1V500.4M223.3 493.2V500.2M226.4 491.7V500.9M229.5 496.4V503.7M232.6 494.8V505.9M235.7 495.4V504.3M238.8 494.1V502.7M241.9 492.5V503.0M245.0 497.5V504.1M248.1 494.5V505.7M251.2 497.9V504.5M254.3 495.6V505.0M257.4 489.0V505.2M260.5 494.3V506.7M263.6 495.5V505.5M266.7 498.2V508.0M269.8 502.4V508.5M272.9 501.5V508.8M276.0 499.3V507.9M279.1 493.0V507.5M282.2 498.3V508.9M285.3 501.0V507.7M288.4 496.8V509.6M291.5 500.6V509.4M294.6 501.6V508.4M297.7 498.9V508.1M300.8 498.9V509.2M303.9 500.8V509.3M307.0 499.8V505.8M310.1 495.8V503.6M313.2 495.0V501.9M316.3 495.2V505.9M319.4 500.6V507.7M322.5 499.4V508.0M325.6 500.8V509.4M328.7 501.7V509.7M331.8 502.0V507.4M334.9 500.0V508.6M338.0 500.4V508.4M341.1 497.4V508.1M344.2 498.1V507.7M347.3 500.0V508.5M350.4 501.9V509.2M353.5 501.1V509.7M356.6 500.3V509.8M359.7 500.2V507.7M362.8 501.4V508.1M365.9 495.4V504.4M369.0 496.6V501.6M372.1 487.3V505.1M375.2 495.4V509.4M378.3 499.8V510.2M381.4 501.4V511.1M384.5 495.3V511.3M387.6 495.9V509.5M390.7 491.5V511.8M393.8 497.1V507.8M396.9 491.4V507.0M400.0 494.5V505.6M403.1 493.3V508.3M406.2 493.7V510.2M409.3 495.7V509.1M412.4 487.7V504.7M415.5 488.7V503.0M418.6 490.8V503.1M421.7 491.1V501.3M424.8 484.0V503.6M427.9 487.4V502.3M431.0 485.5V500.7M434.1 488.3V498.1M437.2 486.8V496.1M440.3 486.4V500.0M443.4 487.8V500.3M446.5 485.8V504.6M449.6 485.9V503.3M452.7 483.6V499.5M455.8 482.8V498.2M458.9 487.4V498.5M462.0 489.9V503.3M465.1 494.9V505.6M468.2 492.2V503.2M471.3 477.9V500.6M474.4 486.6V500.0M477.5 490.1V501.0M480.6 483.4V500.0M483.7 491.9V502.2M486.8 492.9V501.1M489.9 493.9V501.7M493.0 488.3V503.1M496.1 491.8V502.7M499.2 488.8V501.6M502.3 487.1V499.0M505.4 484.9V500.9M508.5 490.9V502.9M511.6 491.2V501.1M514.7 483.1V503.5M517.8 482.4V500.8M520.9 480.4V497.8M524.0 477.4V497.9M527.1 469.8V503.4M530.2 480.1V500.0M533.3 480.7V497.9M536.4 484.8V498.8M539.5 484.4V501.9M542.6 484.9V498.5M545.7 484.2V498.7M548.8 477.1V497.7M551.9 480.2V497.7M555.0 479.8V500.9M558.1 482.8V500.8M561.2 477.8V506.8M564.3 484.1V499.3M567.4 474.1V499.5M570.5 475.9V501.6M573.6 478.4V504.0M576.7 478.6V504.3M579.8 486.1V501.3M582.9 476.5V505.3M586.0 479.8V503.4M589.1 476.9V495.2M592.2 477.3V505.9M595.3 477.3V499.9M598.4 480.4V501.1M601.5 470.3V496.6M604.6 470.4V500.1M607.7 477.0V503.0M610.8 483.4V499.8M613.9 480.9V502.7M617.0 480.3V498.1M620.1 474.3V495.2M623.2 477.1V498.1M626.3 477.6V496.9M629.4 484.2V506.0M632.5 486.6V505.8M635.6 485.2V501.8M638.7 483.9V504.0M641.8 482.0V504.9M644.9 480.1V508.9M648.0 480.6V507.9M651.1 484.8V507.9M654.2 486.6V509.9" stroke="#c4b4d9" stroke-opacity="0.32" stroke-width="3.0" fill="none"/>
<polyline points="78.2,484.4 85.2,492.6 93.4,486.7 99.9,484.4 107.8,496.09999999999997 114.4,490.7 121.9,492.59999999999997 129.6,489.09999999999997 137.7,492.59999999999997 144.7,495.4 151.3,496.59999999999997 158.8,490.7 165.8,491.4 172.8,499.59999999999997 179.8,498.0 187.3,503.09999999999997 195,497.3 202,499.09999999999997 209.7,504.3 217.6,500.09999999999997 224.2,499.09999999999997 231.7,504.0 238.7,501.2 246.9,503.5 253.9,504.0 260.9,503.0 267.9,506.8 276.1,506.8 284.2,507.5 292.4,507.7 304.1,507.5 311.8,500.0 319.3,507.5 327.5,507.7 334.5,506.8 341.5,506.3 349.6,507.5 356.7,508.2 363,506.8 370.2,500.0 378.2,508.7 385.2,508.7 392.2,506.3 399.2,503.5 406.2,506.3 414.4,501.59999999999997 421.4,497.7 428.4,501.2 435.9,494.2 442.9,497.4 450.6,499.8 457.6,494.2 465.3,502.8 472.3,498.09999999999997 479.3,497.7 486.3,499.8 493.8,501.59999999999997 501.3,497.0 509,499.3 516,497.0 523.5,491.0 531,493.09999999999997 538,493.3 545,493.8 552,492.09999999999997 559.5,496.8 567.2,493.09999999999997 574.2,494.5 581.2,496.8 589,484.8 596,490.3 603.4,487.5 610.9,491.9 617.9,491.4 624.9,491.4 632.6,498.0 639.6,495.4 647.8,499.09999999999997 654.4,499.6" fill="none" stroke="#8a1a50" stroke-width="2.6" stroke-linejoin="round"/>
<polyline points="78.2,490.9 84.5,489.5 93.4,485.5 99.9,483.2 107.8,494.9 114.4,489.5 121.9,491.4 129.6,487.9 137.7,491.4 144.7,494.2 151.3,495.4 158.8,489.5 165.8,490.2 172.8,498.4 179.8,496.8 187.3,501.9 195,496.1 202,497.9 209.7,503.1 217.6,498.9 224.2,497.9 231.7,502.8 238.7,500 246.9,502.3 253.9,502.8 260.9,501.8 267.9,505.6 276.1,505.6 284.2,506.3 292.4,506.5 304.1,506.3 311.8,498.8 319.3,506.3 327.5,506.5 334.5,505.6 341.5,505.1 349.6,506.3 356.7,507 363,505.6 370.2,498.8 378.2,507.5 385.2,507.5 392.2,505.1 399.2,502.3 406.2,505.1 414.4,500.4 421.4,496.5 428.4,500 435.9,493 442.9,496.2 450.6,498.6 457.6,493 465.3,501.6 472.3,496.9 479.3,496.5 486.3,498.6 493.8,500.4 501.3,495.8 509,498.1 516,495.8 523.5,489.8 531,491.9 538,492.1 545,492.6 552,490.9 559.5,495.6 567.2,491.9 574.2,493.3 581.2,495.6 589,487.9 596,489.1 603.4,486.3 610.9,494.9 617.9,490.2 624.9,490.2 632.6,496.8 639.6,494.2 647.8,497.9 654.4,497.2" fill="none" stroke="#5a4eb4" stroke-width="2.6" stroke-linejoin="round"/>
<path d="M49.6 409.1 V517.2 H683" fill="none" stroke="#262626" stroke-width="1.1"/>
<line x1="47.300000000000004" x2="49.6" y1="508.6" y2="508.6" stroke="#333" stroke-width="0.9"/>
<text transform="translate(45.2,511.5) scale(0.92,1)" font-size="8.1" fill="#4d4d4d" text-anchor="end">0.000</text>
<line x1="47.300000000000004" x2="49.6" y1="472.5" y2="472.5" stroke="#333" stroke-width="0.9"/>
<text transform="translate(45.2,475.4) scale(0.92,1)" font-size="8.1" fill="#4d4d4d" text-anchor="end">0.002</text>
<line x1="47.300000000000004" x2="49.6" y1="436.4" y2="436.4" stroke="#333" stroke-width="0.9"/>
<text transform="translate(45.2,439.3) scale(0.92,1)" font-size="8.1" fill="#4d4d4d" text-anchor="end">0.004</text>
<line x1="75.7" x2="75.7" y1="517.2" y2="519.5" stroke="#333" stroke-width="0.9"/>
<line x1="239.7" x2="239.7" y1="517.2" y2="519.5" stroke="#333" stroke-width="0.9"/>
<line x1="404" x2="404" y1="517.2" y2="519.5" stroke="#333" stroke-width="0.9"/>
<line x1="568" x2="568" y1="517.2" y2="519.5" stroke="#333" stroke-width="0.9"/>
<text transform="translate(20.2,452.2) rotate(-90)" font-size="21.5" font-family="Liberation Serif, serif" fill="#000" text-anchor="middle">π</text>
<text x="1.1" y="407.4" font-size="26" fill="#000">c</text>
<text x="629.6" y="411.6" font-size="9.8" fill="#000">extreme</text>
<line x1="631" x2="643" y1="424.5" y2="424.5" stroke="#8a1a50" stroke-width="2.8"/>
<line x1="631" x2="643" y1="439.3" y2="439.3" stroke="#5a4eb4" stroke-width="2.8"/>
<text x="649" y="427.2" font-size="7.5" fill="#1a1a1a">early</text>
<text x="649" y="442" font-size="7.5" fill="#1a1a1a">late</text>
<rect x="218.0" y="549.3" width="294.5" height="108.0" fill="#fdf3e3"/>
<path d="M80.4 583.7V626.3M83.5 573.8V618.2M86.6 577.0V612.5M89.7 584.7V622.8M92.8 584.7V624.0M95.9 562.9V615.0M99.0 578.4V619.5M102.1 583.6V620.2M105.2 579.1V617.3M108.3 585.4V629.7M111.4 584.5V623.3M114.5 580.4V621.2M117.6 587.1V618.4M120.7 586.0V617.6M123.8 587.6V608.8M126.9 573.6V628.3M130.0 586.7V616.5M133.1 580.7V615.9M136.2 587.2V624.5M139.3 581.4V624.3M142.4 577.3V615.3M145.5 577.6V619.0M148.6 588.4V625.5M151.7 574.3V624.7M154.8 589.4V614.7M157.9 585.0V622.8M161.0 583.0V611.1M164.1 580.2V620.1M167.2 571.7V621.4M170.3 579.1V610.8M173.4 573.3V613.4M176.5 572.1V620.2M179.6 579.3V616.5M182.7 587.8V620.0M185.8 576.2V618.8M188.9 581.3V631.6M192.0 586.7V617.4M195.1 585.5V611.4M198.2 590.2V621.1M201.3 577.3V615.4M204.4 579.9V616.7M207.5 578.1V628.3M210.6 592.0V627.0M213.7 581.2V619.1M216.8 575.8V628.5M219.9 573.1V610.6M223.0 565.7V630.8M226.1 563.6V624.7M229.2 563.3V623.0M232.3 567.8V625.3M235.4 580.4V617.0M238.5 577.9V627.5M241.6 579.2V622.2M244.7 571.2V632.1M247.8 563.4V629.4M250.9 570.5V626.7M254.0 561.6V614.3M257.1 561.4V607.5M260.2 560.4V624.3M263.3 571.5V610.4M266.4 579.7V621.9M269.5 573.9V621.4M272.6 566.0V624.6M275.7 575.3V635.8M278.8 566.1V629.0M281.9 569.0V627.2M285.0 554.4V628.3M288.1 573.9V619.3M291.2 571.7V633.0M294.3 570.9V634.4M297.4 578.6V615.2M300.5 547.5V617.7M303.6 565.7V624.6M306.7 569.7V627.6M309.8 568.2V634.2M312.9 544.6V614.2M316.0 587.5V627.3M319.1 577.6V633.4M322.2 579.4V621.0M325.3 566.2V627.7M328.4 574.8V619.1M331.5 570.8V619.4M334.6 580.1V631.7M337.7 582.4V632.5M340.8 587.0V620.3M343.9 585.1V619.5M347.0 569.0V633.0M350.1 584.8V626.6M353.2 586.8V624.6M356.3 582.5V619.6M359.4 573.7V618.3M362.5 584.9V632.1M365.6 580.6V627.2M368.7 580.4V636.0M371.8 569.0V632.2M374.9 574.5V618.5M378.0 577.7V628.8M381.1 574.6V628.4M384.2 574.5V636.9M387.3 575.8V620.6M390.4 560.2V639.9M393.5 583.3V620.5M396.6 581.9V625.2M399.7 566.4V621.0M402.8 570.3V621.8M405.9 567.1V625.6M409.0 552.5V628.1M412.1 572.8V619.9M415.2 571.1V622.3M418.3 555.2V611.9M421.4 578.9V623.2M424.5 581.3V621.3M427.6 577.0V633.5M430.7 565.6V614.7M433.8 559.6V614.4M436.9 571.7V606.0M440.0 556.9V623.4M443.1 574.7V622.0M446.2 572.1V621.0M449.3 571.7V626.2M452.4 568.2V614.8M455.5 568.2V627.2M458.6 563.1V622.0M461.7 572.3V615.9M464.8 576.6V620.7M467.9 580.2V635.4M471.0 579.8V616.9M474.1 586.4V626.6M477.2 584.3V621.5M480.3 573.5V626.8M483.4 568.0V620.9M486.5 581.5V624.8M489.6 567.0V623.0M492.7 550.1V618.9M495.8 566.1V614.6M498.9 584.2V618.8M502.0 563.5V621.9M505.1 583.6V635.3M508.2 581.7V626.6M511.3 585.6V620.1M514.4 588.1V622.0M517.5 579.4V610.0M520.6 581.9V618.5M523.7 579.7V613.8M526.8 586.5V617.5M529.9 586.7V623.4M533.0 572.9V613.6M536.1 587.4V617.3M539.2 590.3V627.3M542.3 579.4V624.3M545.4 572.9V624.9M548.5 584.0V613.7M551.6 585.3V624.8M554.7 577.8V627.9M557.8 565.9V622.5M560.9 576.2V619.4M564.0 585.5V623.7M567.1 574.9V611.8M570.2 576.8V615.6M573.3 572.6V614.0M576.4 579.6V622.1M579.5 583.3V620.2M582.6 585.8V616.3M585.7 574.1V623.6M588.8 579.0V617.9M591.9 578.9V620.0M595.0 589.2V626.9M598.1 581.3V623.3M601.2 585.3V623.2M604.3 573.7V627.4M607.4 576.5V622.7M610.5 590.5V628.8M613.6 570.9V624.4M616.7 582.0V623.8M619.8 571.5V614.5M622.9 580.0V620.3M626.0 574.9V624.6M629.1 588.0V616.7M632.2 588.3V626.3M635.3 575.2V626.7M638.4 588.2V625.4M641.5 588.2V627.3M644.6 584.4V625.3M647.7 579.4V619.3M650.8 571.8V623.1M653.9 572.8V635.5" stroke="#c8a4b8" stroke-opacity="0.27" stroke-width="3.0" fill="none"/>
<path d="M79.6 594.6V618.4M82.7 562.8V625.5M85.8 576.9V616.7M88.9 574.4V620.1M92.0 581.6V619.9M95.1 587.2V608.9M98.2 576.2V613.3M101.3 580.6V613.4M104.4 573.8V621.5M107.5 575.0V620.3M110.6 584.4V621.0M113.7 584.5V619.4M116.8 581.3V612.7M119.9 563.4V608.4M123.0 574.0V616.0M126.1 580.3V624.7M129.2 581.5V614.4M132.3 580.8V618.5M135.4 582.5V627.1M138.5 590.0V619.1M141.6 573.9V617.7M144.7 575.8V616.3M147.8 575.5V620.4M150.9 576.7V624.0M154.0 583.9V620.2M157.1 579.5V612.7M160.2 589.2V619.1M163.3 583.8V620.4M166.4 575.4V608.8M169.5 573.6V616.1M172.6 589.1V619.9M175.7 578.1V621.0M178.8 579.3V624.0M181.9 576.3V615.8M185.0 574.6V623.0M188.1 573.6V621.1M191.2 578.0V625.8M194.3 575.7V620.6M197.4 590.4V621.4M200.5 581.1V621.6M203.6 584.0V624.7M206.7 577.2V618.0M209.8 588.3V624.7M212.9 585.4V622.2M216.0 574.1V621.8M219.1 572.1V626.7M222.2 568.3V627.6M225.3 579.9V620.3M228.4 579.2V627.2M231.5 569.9V613.1M234.6 585.6V618.7M237.7 569.1V616.6M240.8 564.6V614.3M243.9 539.4V630.2M247.0 572.4V640.7M250.1 578.5V614.9M253.2 565.2V615.5M256.3 565.6V621.8M259.4 574.8V606.3M262.5 562.7V615.0M265.6 577.8V625.7M268.7 564.1V630.4M271.8 578.6V649.3M274.9 567.8V619.8M278.0 580.7V630.4M281.1 571.8V628.8M284.2 579.5V628.6M287.3 574.1V638.2M290.4 587.6V620.0M293.5 583.2V636.2M296.6 567.7V630.9M299.7 556.2V634.8M302.8 564.6V634.3M305.9 584.1V628.2M309.0 568.3V632.9M312.1 543.6V629.2M315.2 585.1V619.2M318.3 569.1V637.1M321.4 586.5V623.9M324.5 567.2V630.8M327.6 570.7V626.6M330.7 578.6V637.6M333.8 574.2V628.1M336.9 551.9V623.8M340.0 581.0V635.0M343.1 581.3V622.0M346.2 572.5V633.3M349.3 588.3V624.4M352.4 578.5V626.5M355.5 581.1V630.8M358.6 588.7V629.2M361.7 585.4V635.0M364.8 569.4V624.1M367.9 575.0V620.3M371.0 577.3V617.1M374.1 578.5V621.1M377.2 575.6V623.8M380.3 586.4V618.6M383.4 573.1V633.9M386.5 567.4V637.3M389.6 571.2V621.9M392.7 588.2V641.8M395.8 570.1V636.2M398.9 575.0V632.4M402.0 584.8V629.8M405.1 567.5V633.5M408.2 577.7V614.8M411.3 564.5V630.3M414.4 573.8V612.9M417.5 559.7V626.5M420.6 577.8V618.2M423.7 570.0V620.2M426.8 572.2V621.8M429.9 580.0V633.8M433.0 569.2V632.7M436.1 556.4V626.1M439.2 571.6V609.8M442.3 575.3V629.9M445.4 563.5V626.2M448.5 580.7V617.8M451.6 567.9V620.4M454.7 573.7V627.4M457.8 562.1V623.8M460.9 580.6V615.8M464.0 585.7V618.0M467.1 577.0V635.1M470.2 565.4V632.9M473.3 574.8V626.7M476.4 564.5V615.7M479.5 566.5V628.1M482.6 569.6V623.9M485.7 580.7V625.1M488.8 581.6V619.1M491.9 585.4V628.8M495.0 584.5V634.9M498.1 570.5V613.9M501.2 585.1V623.3M504.3 573.0V632.1M507.4 575.6V621.0M510.5 573.8V615.1M513.6 574.6V615.3M516.7 576.4V615.6M519.8 585.1V618.2M522.9 570.0V620.4M526.0 572.4V620.1M529.1 574.7V623.7M532.2 573.2V622.8M535.3 582.3V627.6M538.4 582.3V622.8M541.5 583.9V615.7M544.6 573.4V615.4M547.7 581.7V612.0M550.8 588.3V621.2M553.9 584.1V638.0M557.0 580.5V614.8M560.1 587.7V614.3M563.2 588.5V619.1M566.3 577.3V624.4M569.4 574.0V626.7M572.5 572.9V614.0M575.6 576.1V615.8M578.7 587.6V619.5M581.8 570.7V622.7M584.9 579.0V613.0M588.0 581.8V612.5M591.1 583.1V611.5M594.2 584.4V622.4M597.3 584.2V623.8M600.4 582.5V613.1M603.5 573.7V618.5M606.6 589.9V618.9M609.7 577.4V625.3M612.8 569.5V622.1M615.9 576.3V621.2M619.0 577.5V622.2M622.1 585.4V620.7M625.2 574.8V623.7M628.3 568.0V619.2M631.4 583.0V616.5M634.5 580.6V624.6M637.6 574.0V625.6M640.7 580.1V623.5M643.8 587.5V624.2M646.9 572.7V628.9M650.0 573.7V615.9M653.1 586.2V616.4" stroke="#d6bccb" stroke-opacity="0.27" stroke-width="3.0" fill="none"/>
<path d="M80.7 585.6V624.7M83.8 576.0V613.9M86.9 587.2V613.6M90.0 575.5V610.9M93.1 581.2V613.7M96.2 576.8V614.4M99.3 582.9V635.2M102.4 586.6V608.9M105.5 572.5V615.0M108.6 578.4V609.7M111.7 557.0V619.9M114.8 573.2V621.6M117.9 578.8V620.2M121.0 572.3V612.2M124.1 580.0V615.8M127.2 587.0V618.1M130.3 586.7V621.3M133.4 575.5V625.8M136.5 586.4V634.1M139.6 575.6V617.5M142.7 587.9V622.9M145.8 576.7V624.2M148.9 571.8V611.8M152.0 573.6V611.7M155.1 579.4V613.6M158.2 586.4V610.9M161.3 583.0V621.7M164.4 581.8V617.6M167.5 580.2V610.4M170.6 579.2V625.0M173.7 580.6V626.2M176.8 576.0V613.2M179.9 571.1V631.0M183.0 558.7V611.1M186.1 579.1V616.0M189.2 578.6V624.8M192.3 575.9V614.6M195.4 570.2V614.1M198.5 577.0V620.6M201.6 574.0V617.7M204.7 589.6V623.5M207.8 590.2V621.2M210.9 578.1V618.4M214.0 584.5V624.9M217.1 571.3V649.2M220.2 581.3V628.4M223.3 572.9V609.9M226.4 578.2V624.1M229.5 567.0V624.2M232.6 582.0V630.5M235.7 584.6V623.5M238.8 576.0V628.0M241.9 574.1V622.4M245.0 570.1V631.8M248.1 565.8V623.7M251.2 574.0V614.9M254.3 562.8V629.4M257.4 552.1V615.7M260.5 561.3V607.9M263.6 574.7V625.6M266.7 583.2V619.0M269.8 576.2V623.0M272.9 585.4V621.3M276.0 566.6V626.2M279.1 587.0V622.9M282.2 544.4V623.9M285.3 572.3V636.0M288.4 569.9V630.9M291.5 577.9V628.3M294.6 569.5V624.6M297.7 565.1V634.3M300.8 585.6V620.9M303.9 575.9V617.9M307.0 586.4V633.0M310.1 576.1V633.6M313.2 565.5V631.3M316.3 566.6V634.3M319.4 575.3V635.7M322.5 572.3V625.4M325.6 582.5V620.7M328.7 571.3V623.0M331.8 567.2V631.4M334.9 565.6V635.8M338.0 581.1V636.0M341.1 587.6V625.8M344.2 574.8V633.2M347.3 569.5V628.1M350.4 569.6V634.9M353.5 586.7V634.5M356.6 586.3V621.2M359.7 586.3V637.5M362.8 574.4V617.9M365.9 583.8V628.4M369.0 580.7V623.9M372.1 585.3V637.7M375.2 577.4V626.9M378.3 579.0V632.5M381.4 574.6V625.4M384.5 549.4V618.0M387.6 573.0V624.7M390.7 583.8V653.9M393.8 576.8V621.2M396.9 568.1V621.9M400.0 578.5V623.9M403.1 571.0V631.6M406.2 583.1V623.8M409.3 576.0V639.3M412.4 570.4V629.5M415.5 563.6V614.4M418.6 577.5V628.9M421.7 576.2V624.4M424.8 545.6V631.5M427.9 579.4V613.0M431.0 565.4V612.7M434.1 558.1V622.2M437.2 535.9V614.1M440.3 560.2V628.6M443.4 573.9V618.5M446.5 577.6V626.2M449.6 567.0V628.3M452.7 576.1V627.4M455.8 581.5V611.5M458.9 580.8V612.5M462.0 564.8V631.4M465.1 562.6V631.3M468.2 572.4V627.8M471.3 576.3V617.9M474.4 571.1V619.6M477.5 581.8V636.2M480.6 580.4V618.4M483.7 568.8V633.6M486.8 577.0V633.5M489.9 579.5V630.3M493.0 565.3V623.1M496.1 579.5V630.9M499.2 583.5V616.8M502.3 575.0V619.2M505.4 582.2V622.7M508.5 570.5V624.3M511.6 570.8V633.2M514.7 585.3V611.4M517.8 585.1V639.7M520.9 584.4V615.2M524.0 573.3V614.7M527.1 578.3V619.7M530.2 574.0V620.8M533.3 571.4V623.5M536.4 575.1V616.8M539.5 568.1V621.6M542.6 583.6V617.4M545.7 585.6V613.9M548.8 573.6V623.3M551.9 578.6V618.4M555.0 576.1V617.6M558.1 578.8V612.9M561.2 574.6V616.0M564.3 588.0V624.6M567.4 573.2V616.7M570.5 584.0V619.8M573.6 576.3V615.4M576.7 585.6V622.3M579.8 582.8V612.5M582.9 579.7V617.0M586.0 554.0V638.3M589.1 586.2V617.3M592.2 575.5V622.2M595.3 575.3V624.2M598.4 586.8V624.6M601.5 583.4V619.3M604.6 581.9V624.2M607.7 577.5V613.3M610.8 583.4V617.5M613.9 576.0V622.6M617.0 587.7V640.2M620.1 588.2V620.5M623.2 580.2V611.4M626.3 570.7V626.2M629.4 586.2V614.5M632.5 582.7V619.2M635.6 581.6V628.6M638.7 577.2V614.2M641.8 582.8V614.9M644.9 576.1V614.6M648.0 583.2V615.5M651.1 573.2V640.9M654.2 580.8V613.7" stroke="#c0b2d8" stroke-opacity="0.25" stroke-width="3.0" fill="none"/>
<path d="M81.0 579.7V620.0M84.1 584.8V621.3M87.2 580.4V611.2M90.3 578.7V613.3M93.4 570.6V611.8M96.5 581.3V610.6M99.6 575.1V609.0M102.7 586.0V622.6M105.8 571.7V615.6M108.9 583.0V617.7M112.0 584.6V620.8M115.1 570.4V622.0M118.2 556.6V611.8M121.3 587.1V619.5M124.4 572.2V619.6M127.5 588.7V618.4M130.6 582.1V614.5M133.7 574.0V621.9M136.8 582.4V616.3M139.9 581.1V619.2M143.0 582.1V612.3M146.1 572.3V609.4M149.2 578.0V615.8M152.3 587.1V621.5M155.4 579.3V621.5M158.5 581.1V613.6M161.6 581.0V620.7M164.7 584.5V619.4M167.8 560.9V613.1M170.9 588.8V623.2M174.0 575.4V610.3M177.1 579.3V620.7M180.2 583.3V611.6M183.3 584.7V635.9M186.4 578.2V610.4M189.5 580.5V625.5M192.6 573.6V611.9M195.7 575.3V614.3M198.8 576.2V613.9M201.9 582.9V620.8M205.0 583.8V623.6M208.1 584.4V613.7M211.2 588.5V620.2M214.3 572.5V620.5M217.4 542.6V622.0M220.5 573.6V621.9M223.6 572.8V625.4M226.7 569.2V618.4M229.8 563.3V618.2M232.9 576.6V615.9M236.0 573.2V613.2M239.1 569.6V624.6M242.2 540.3V616.7M245.3 562.3V617.6M248.4 563.9V611.3M251.5 572.3V625.2M254.6 561.5V610.5M257.7 564.8V610.5M260.8 559.8V620.7M263.9 570.8V617.7M267.0 566.3V613.6M270.1 571.3V628.3M273.2 580.9V632.4M276.3 574.4V622.3M279.4 587.3V626.1M282.5 585.4V626.8M285.6 568.8V632.0M288.7 580.3V635.1M291.8 570.9V620.0M294.9 580.6V615.5M298.0 577.0V618.4M301.1 584.1V635.5M304.2 569.1V623.1M307.3 577.1V629.6M310.4 566.6V622.6M313.5 586.2V615.0M316.6 575.2V634.7M319.7 569.0V618.7M322.8 576.5V634.7M325.9 571.8V618.7M329.0 577.4V617.5M332.1 575.5V633.8M335.2 567.7V616.8M338.3 581.6V628.9M341.4 566.8V629.3M344.5 583.3V628.9M347.6 580.3V654.0M350.7 581.3V632.1M353.8 577.4V631.8M356.9 576.7V622.5M360.0 574.9V632.8M363.1 581.4V632.6M366.2 586.9V627.6M369.3 576.3V637.3M372.4 583.5V632.4M375.5 569.9V638.4M378.6 584.7V617.7M381.7 575.0V629.9M384.8 583.6V618.7M387.9 549.7V628.5M391.0 582.3V630.0M394.1 574.3V640.3M397.2 574.6V628.9M400.3 570.6V617.4M403.4 579.0V614.4M406.5 568.2V629.9M409.6 566.4V621.7M412.7 566.6V629.2M415.8 562.2V628.7M418.9 571.7V617.1M422.0 560.4V628.7M425.1 564.5V621.6M428.2 576.2V626.7M431.3 580.6V624.7M434.4 567.9V615.4M437.5 573.5V615.4M440.6 574.8V615.5M443.7 563.3V622.0M446.8 565.5V629.9M449.9 569.0V619.3M453.0 563.8V627.5M456.1 571.8V627.5M459.2 541.0V622.7M462.3 571.5V627.9M465.4 577.8V615.9M468.5 575.1V617.9M471.6 568.6V619.2M474.7 571.2V630.0M477.8 575.1V620.3M480.9 568.9V626.8M484.0 582.5V620.1M487.1 570.7V623.3M490.2 571.9V622.8M493.3 574.2V628.7M496.4 570.7V621.5M499.5 565.4V620.2M502.6 563.9V622.8M505.7 570.7V632.9M508.8 567.7V618.9M511.9 578.6V628.8M515.0 571.0V622.8M518.1 578.1V617.5M521.2 575.9V620.5M524.3 569.4V623.0M527.4 577.1V620.3M530.5 577.4V612.3M533.6 582.4V621.7M536.7 577.0V612.8M539.8 589.0V614.6M542.9 572.5V618.7M546.0 583.2V623.6M549.1 575.8V635.0M552.2 572.9V611.9M555.3 584.2V618.9M558.4 576.8V614.8M561.5 588.8V611.3M564.6 576.5V611.0M567.7 573.2V623.3M570.8 573.2V614.7M573.9 586.9V613.3M577.0 570.2V619.6M580.1 578.5V623.3M583.2 576.3V612.7M586.3 585.7V621.3M589.4 573.7V612.9M592.5 586.7V621.6M595.6 576.5V617.0M598.7 572.1V622.5M601.8 588.5V616.3M604.9 579.9V623.0M608.0 590.0V615.5M611.1 585.4V618.2M614.2 589.5V625.6M617.3 589.0V612.9M620.4 561.7V626.2M623.5 567.3V610.0M626.6 588.4V617.6M629.7 585.6V615.2M632.8 581.3V630.1M635.9 585.9V618.6M639.0 585.8V615.5M642.1 586.7V626.1M645.2 589.0V612.7M648.3 588.8V631.7M651.4 572.3V624.8M654.5 584.8V616.9" stroke="#cfb3c6" stroke-opacity="0.25" stroke-width="3.0" fill="none"/>
<polyline points="78.2,611.6 85.2,599.9 92.2,594 99.9,591.7 107.8,594.5 114.8,595.2 121.9,595.9 129.6,599.9 137.3,604.6 144.3,595.2 151.3,596.4 158.3,600.6 165.8,602.2 172.8,599.2 180.3,586.6 188,604.6 195.7,606.2 202.7,610.4 209.7,608.1 217.2,594 224.2,587.5 231.7,601.5 238.7,605.3 246.2,595.9 253.9,596.4 260.9,575.4 267.9,603.4 274.9,613.9 282.6,616.2 290.1,623.3 297.1,601.1 304.6,602.2 311.6,599.9 319.3,620.2 326.3,603.9 334,606.2 341,613.2 348.5,612.7 355.5,619.7 363,603.9 370.7,613.9 378.2,620.2 385.2,614.6 392.9,617.9 399.9,596.4 406.9,596.4 413.9,588.2 420.9,587.5 428.4,599.2 435.9,571.2 442.9,594 450.6,594.5 457.6,591.3 465.3,603.4 472.3,603.4 479.3,600.6 486.3,604.6 493.8,598.7 501.3,598.3 509,598.3 516.3,597.5 523.6,594.5 531,595.9 538.5,606.2 545.5,592.9 552.5,600.6 559.5,600.6 567.2,592.9 574.2,601.5 581.2,594 589,593.6 596,601.1 603.4,598.3 610.9,601.1 617.9,603 624.9,592.2 632.6,610.4 639.6,603.4 647.8,598.7 654.4,599.9" fill="none" stroke="#8a1a50" stroke-width="2.6" stroke-linejoin="round"/>
<polyline points="78.2,622.1 85.2,594.5 92.2,596.4 99.9,590.1 107.8,597.6 114.8,591.3 121.9,591.3 129.6,598.3 137.3,605.3 144.3,597.6 151.3,599.9 158.3,599.2 165.8,587.5 172.8,600.6 179.8,599.2 188,593.6 195.7,595.9 202.7,596.9 209.7,606.9 217.2,588.2 224.2,585.2 231.7,592.9 238.7,588.9 246.2,582.8 253.9,576.1 260.2,576.5 267.9,592.9 274.9,589.8 282.6,587 290.1,601.1 297.1,592.2 304.6,604.6 311.6,593.6 319.3,592.2 326.3,587.7 334,596.4 341,594 348.5,601.5 355.5,598.3 363,599.2 370.7,599.2 378.5,594.8 385.2,595.2 392.9,612.3 399.9,608.5 406.9,595.9 413.9,585.9 420.9,588.2 428.4,595.2 435.9,583.5 442.9,584.7 450.6,588.2 457.6,586.3 465.3,602.2 472.3,592.9 479.3,607.6 486.3,608.5 493.8,598.7 501.3,596.4 509,605.3 516.3,594.1 523.6,594.5 531,592.9 538.5,600.6 545.5,594.5 552.5,601.1 559.5,598.3 567.2,603.4 574.2,591.7 581.2,599.2 589,599.9 596,601.1 603.4,601.1 610.9,605.7 617.9,601.1 624.9,595.2 632.6,609.2 639.6,599.2 647.8,601.1 654.4,599.2" fill="none" stroke="#5a4eb4" stroke-width="2.6" stroke-linejoin="round"/>
<path d="M49.6 549.0 V657.3 H683" fill="none" stroke="#262626" stroke-width="1.1"/>
<line x1="47.300000000000004" x2="49.6" y1="549.3" y2="549.3" stroke="#333" stroke-width="0.9"/>
<text transform="translate(45.2,552.4) scale(0.92,1)" font-size="8.6" fill="#4d4d4d" text-anchor="end">3</text>
<line x1="47.300000000000004" x2="49.6" y1="569.0" y2="569.0" stroke="#333" stroke-width="0.9"/>
<text transform="translate(45.2,572.1) scale(0.92,1)" font-size="8.6" fill="#4d4d4d" text-anchor="end">2</text>
<line x1="47.300000000000004" x2="49.6" y1="588.6" y2="588.6" stroke="#333" stroke-width="0.9"/>
<text transform="translate(45.2,591.8) scale(0.92,1)" font-size="8.6" fill="#4d4d4d" text-anchor="end">1</text>
<line x1="47.300000000000004" x2="49.6" y1="608.3" y2="608.3" stroke="#333" stroke-width="0.9"/>
<text transform="translate(45.2,611.4) scale(0.92,1)" font-size="8.6" fill="#4d4d4d" text-anchor="end">0</text>
<line x1="47.300000000000004" x2="49.6" y1="627.9" y2="627.9" stroke="#333" stroke-width="0.9"/>
<text transform="translate(45.2,631.0) scale(0.92,1)" font-size="8.6" fill="#4d4d4d" text-anchor="end">-1</text>
<line x1="47.300000000000004" x2="49.6" y1="647.6" y2="647.6" stroke="#333" stroke-width="0.9"/>
<text transform="translate(45.2,650.7) scale(0.92,1)" font-size="8.6" fill="#4d4d4d" text-anchor="end">-2</text>
<line x1="75.7" x2="75.7" y1="657.3" y2="659.5999999999999" stroke="#333" stroke-width="0.9"/>
<text x="75.7" y="670.1" font-size="11" fill="#333" text-anchor="middle">0</text>
<line x1="239.7" x2="239.7" y1="657.3" y2="659.5999999999999" stroke="#333" stroke-width="0.9"/>
<text x="239.7" y="670.1" font-size="11" fill="#333" text-anchor="middle">2</text>
<line x1="404" x2="404" y1="657.3" y2="659.5999999999999" stroke="#333" stroke-width="0.9"/>
<text x="404" y="670.1" font-size="11" fill="#333" text-anchor="middle">3</text>
<line x1="568" x2="568" y1="657.3" y2="659.5999999999999" stroke="#333" stroke-width="0.9"/>
<text x="568" y="670.1" font-size="11" fill="#333" text-anchor="middle">4</text>
<text transform="translate(23.9,594.1) rotate(-90)" font-size="15.45" fill="#000" text-anchor="middle">Tajima's D</text>
<text x="374.6" y="688.7" font-size="15.5" fill="#000" text-anchor="middle">Mb along region</text>
<text x="0.3" y="545.6" font-size="25.5" fill="#000">d</text>
<text x="628.6" y="549" font-size="9.8" fill="#000">extreme</text>
<line x1="630.1" x2="642.2" y1="562" y2="562" stroke="#8a1a50" stroke-width="2.8"/>
<line x1="630.1" x2="642.2" y1="577.2" y2="577.2" stroke="#5a4eb4" stroke-width="2.8"/>
<text x="648.6" y="564.7" font-size="7.5" fill="#1a1a1a">early</text>
<text x="648.6" y="579.9" font-size="7.5" fill="#1a1a1a">late</text>
<path d="M92 179C93.5 180.1 97.8 183.2 101.0 185.3C104.2 187.4 108.1 190.0 111.3 191.7C114.5 193.4 116.9 194.1 120.0 195.5C123.1 196.9 126.5 198.6 130.0 200.1C133.5 201.6 137.9 203.2 141.2 204.3C144.5 205.4 145.9 205.9 149.8 206.9C153.7 207.9 159.8 209.3 164.8 210.5C169.8 211.7 175.9 213.3 180.0 214.3C184.1 215.3 185.6 215.5 189.6 216.3C193.6 217.1 199.9 218.5 204.0 219.3C208.1 220.2 211.8 220.8 214.4 221.4C217.0 222.0 218.5 222.7 219.3 222.9L217.5 657" fill="none" stroke="#3a3a3a" stroke-width="1" stroke-dasharray="1 1.6"/>
<path d="M102 178.9C103.8 179.7 109.2 182.1 112.5 183.5C115.8 184.9 117.8 185.9 121.5 187.3C125.2 188.7 129.7 190.2 134.4 191.8C139.1 193.4 144.7 195.4 149.8 196.8C154.9 198.2 160.0 199.2 165.0 200.3C170.0 201.4 174.2 202.4 180.0 203.4C185.8 204.4 192.8 205.3 200.0 206.3C207.2 207.3 216.4 208.5 223.1 209.3C229.8 210.1 227.2 210.2 240.0 211.0C252.8 211.8 277.5 213.1 300.0 214.2C322.5 215.2 350.0 216.3 375.0 217.3C400.0 218.3 427.4 219.2 450.0 220.0C472.6 220.8 500.4 221.9 510.5 222.3L513.4 657" fill="none" stroke="#3a3a3a" stroke-width="1" stroke-dasharray="1 1.6"/>
<text x="0.8" y="711.9" font-size="25.5" fill="#000">e</text>
<rect x="88.8" y="713.4" width="17.0" height="6.0" rx="3" fill="#000"/>
<rect x="116.1" y="713.4" width="13.2" height="6.0" rx="3" fill="#000"/>
<rect x="168.7" y="713.4" width="12.0" height="6.0" rx="3" fill="#000"/>
<rect x="212.0" y="713.4" width="27.6" height="6.0" rx="3" fill="#000"/>
<rect x="240.4" y="713.4" width="36.2" height="6.0" rx="3" fill="#000"/>
<rect x="281.0" y="713.4" width="12.7" height="6.0" rx="3" fill="#000"/>
<rect x="310.0" y="713.4" width="6.5" height="6.0" rx="3" fill="#000"/>
<rect x="338.5" y="713.4" width="6.5" height="6.0" rx="3" fill="#000"/>
<rect x="351.0" y="713.4" width="25.1" height="6.0" rx="3" fill="#000"/>
<rect x="379.4" y="713.4" width="12.1" height="6.0" rx="3" fill="#000"/>
<rect x="444.7" y="713.4" width="30.6" height="6.0" rx="3" fill="#000"/>
<rect x="491.0" y="713.4" width="6.5" height="6.0" rx="3" fill="#000"/>
<rect x="497.0" y="713.4" width="15.4" height="6.0" rx="3" fill="#000"/>
<rect x="548.3" y="713.4" width="16.0" height="6.0" rx="3" fill="#000"/>
<rect x="590.0" y="713.4" width="6.5" height="6.0" rx="3" fill="#000"/>
<rect x="601.5" y="713.4" width="14.3" height="6.0" rx="3" fill="#000"/>
<path d="M92.1 716.4h0M97.3 716.4h0M102.5 716.4h0M119.4 716.4h0M126.0 716.4h0M172.0 716.4h0M177.4 716.4h0M215.3 716.4h0M220.6 716.4h0M225.8 716.4h0M231.0 716.4h0M236.3 716.4h0M243.7 716.4h0M249.6 716.4h0M255.5 716.4h0M261.5 716.4h0M267.4 716.4h0M273.3 716.4h0M284.3 716.4h0M290.4 716.4h0M313.3 716.4h0M313.2 716.4h0M341.8 716.4h0M341.7 716.4h0M354.3 716.4h0M360.5 716.4h0M366.6 716.4h0M372.8 716.4h0M382.7 716.4h0M388.2 716.4h0M448.0 716.4h0M454.0 716.4h0M460.0 716.4h0M466.0 716.4h0M472.0 716.4h0M494.3 716.4h0M494.2 716.4h0M500.3 716.4h0M504.7 716.4h0M509.1 716.4h0M551.6 716.4h0M556.3 716.4h0M561.0 716.4h0M593.3 716.4h0M593.2 716.4h0M604.8 716.4h0M612.5 716.4h0" stroke="#000" stroke-width="6.60" stroke-linecap="round" fill="none"/>
</svg>
</body></html>
